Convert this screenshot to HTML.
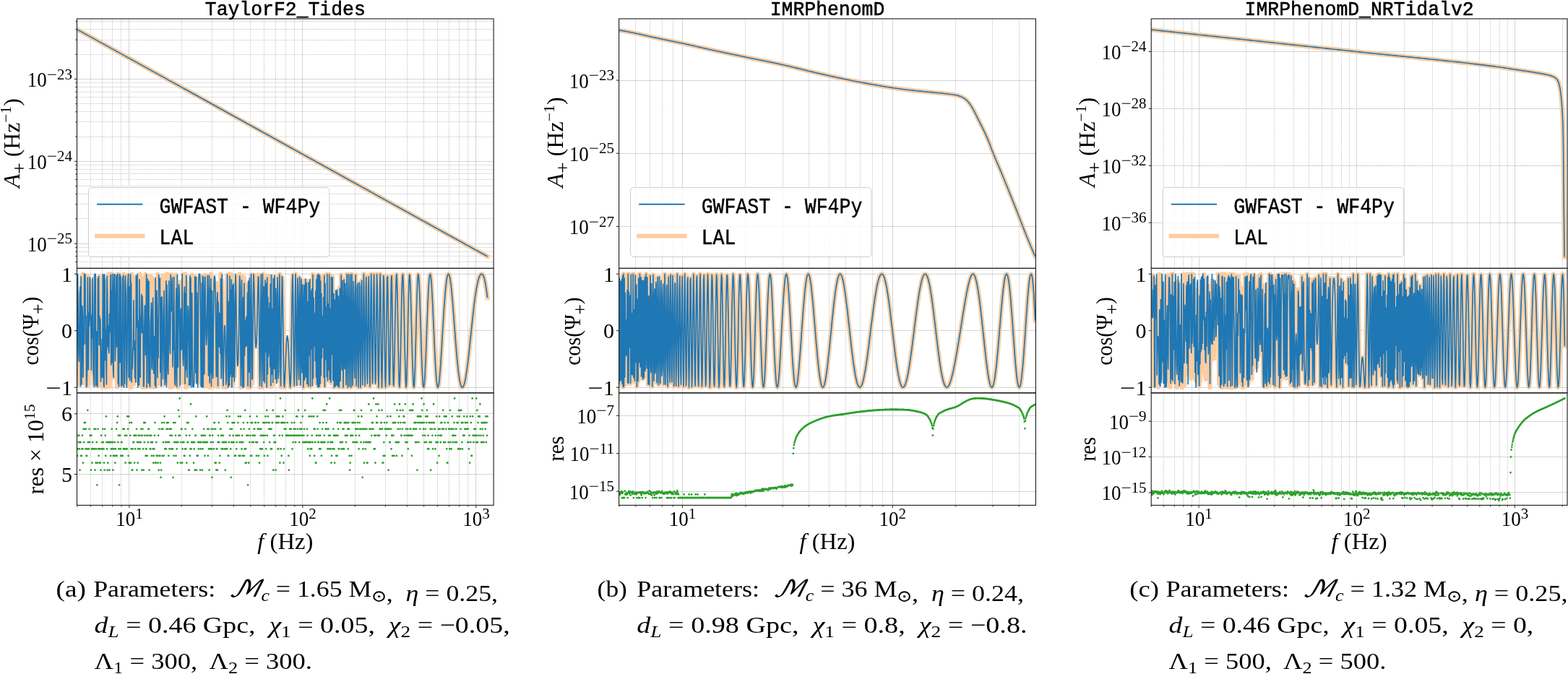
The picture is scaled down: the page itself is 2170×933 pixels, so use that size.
<!DOCTYPE html><html><head><meta charset="utf-8"><title>Waveform comparison</title><style>html,body{margin:0;padding:0;background:#fff}body{width:2170px;height:933px;overflow:hidden}svg{display:block}</style></head><body><svg width="2170" height="933" viewBox="0 0 2170 933">
<style>
.gM{stroke:#a6a6a6;stroke-width:1;stroke-dasharray:1 1.1}
.gm{stroke:#c0c0c0;stroke-width:1;stroke-dasharray:1 1.1}
.sp{stroke:#1a1a1a;stroke-width:1.1;fill:none}
.tk{stroke:#1a1a1a;stroke-width:1.0;fill:none}
text{fill:#000}
</style>
<rect width="100%" height="100%" fill="#fff"/>
<defs><clipPath id="c00"><rect x="106.5" y="26.0" width="576.60" height="345.40"/></clipPath><clipPath id="c01"><rect x="106.5" y="371.4" width="576.60" height="172.50"/></clipPath><clipPath id="c02"><rect x="106.5" y="543.9" width="576.60" height="155.50"/></clipPath><clipPath id="c10"><rect x="856.6" y="26.0" width="576.80" height="345.40"/></clipPath><clipPath id="c11"><rect x="856.6" y="371.4" width="576.80" height="172.50"/></clipPath><clipPath id="c12"><rect x="856.6" y="543.9" width="576.80" height="155.50"/></clipPath><clipPath id="c20"><rect x="1593.2" y="26.0" width="575.80" height="345.40"/></clipPath><clipPath id="c21"><rect x="1593.2" y="371.4" width="575.80" height="172.50"/></clipPath><clipPath id="c22"><rect x="1593.2" y="543.9" width="575.80" height="155.50"/></clipPath></defs>
<g><line x1="125.50" y1="26.0" x2="125.50" y2="371.4" class="gm"/><line x1="141.50" y1="26.0" x2="141.50" y2="371.4" class="gm"/><line x1="155.50" y1="26.0" x2="155.50" y2="371.4" class="gm"/><line x1="167.50" y1="26.0" x2="167.50" y2="371.4" class="gm"/><line x1="178.50" y1="26.0" x2="178.50" y2="371.4" class="gM"/><line x1="251.50" y1="26.0" x2="251.50" y2="371.4" class="gm"/><line x1="293.50" y1="26.0" x2="293.50" y2="371.4" class="gm"/><line x1="323.50" y1="26.0" x2="323.50" y2="371.4" class="gm"/><line x1="346.50" y1="26.0" x2="346.50" y2="371.4" class="gm"/><line x1="365.50" y1="26.0" x2="365.50" y2="371.4" class="gm"/><line x1="381.50" y1="26.0" x2="381.50" y2="371.4" class="gm"/><line x1="395.50" y1="26.0" x2="395.50" y2="371.4" class="gm"/><line x1="407.50" y1="26.0" x2="407.50" y2="371.4" class="gm"/><line x1="418.50" y1="26.0" x2="418.50" y2="371.4" class="gM"/><line x1="491.50" y1="26.0" x2="491.50" y2="371.4" class="gm"/><line x1="533.50" y1="26.0" x2="533.50" y2="371.4" class="gm"/><line x1="563.50" y1="26.0" x2="563.50" y2="371.4" class="gm"/><line x1="586.50" y1="26.0" x2="586.50" y2="371.4" class="gm"/><line x1="605.50" y1="26.0" x2="605.50" y2="371.4" class="gm"/><line x1="621.50" y1="26.0" x2="621.50" y2="371.4" class="gm"/><line x1="635.50" y1="26.0" x2="635.50" y2="371.4" class="gm"/><line x1="647.50" y1="26.0" x2="647.50" y2="371.4" class="gm"/><line x1="658.50" y1="26.0" x2="658.50" y2="371.4" class="gM"/><line x1="106.5" y1="109.50" x2="683.1" y2="109.50" class="gM"/><line x1="106.5" y1="223.50" x2="683.1" y2="223.50" class="gM"/><line x1="106.5" y1="337.50" x2="683.1" y2="337.50" class="gM"/><line x1="106.5" y1="362.50" x2="683.1" y2="362.50" class="gm"/><line x1="106.5" y1="354.50" x2="683.1" y2="354.50" class="gm"/><line x1="106.5" y1="348.50" x2="683.1" y2="348.50" class="gm"/><line x1="106.5" y1="342.50" x2="683.1" y2="342.50" class="gm"/><line x1="106.5" y1="302.50" x2="683.1" y2="302.50" class="gm"/><line x1="106.5" y1="282.50" x2="683.1" y2="282.50" class="gm"/><line x1="106.5" y1="268.50" x2="683.1" y2="268.50" class="gm"/><line x1="106.5" y1="257.50" x2="683.1" y2="257.50" class="gm"/><line x1="106.5" y1="248.50" x2="683.1" y2="248.50" class="gm"/><line x1="106.5" y1="240.50" x2="683.1" y2="240.50" class="gm"/><line x1="106.5" y1="234.50" x2="683.1" y2="234.50" class="gm"/><line x1="106.5" y1="228.50" x2="683.1" y2="228.50" class="gm"/><line x1="106.5" y1="189.50" x2="683.1" y2="189.50" class="gm"/><line x1="106.5" y1="168.50" x2="683.1" y2="168.50" class="gm"/><line x1="106.5" y1="154.50" x2="683.1" y2="154.50" class="gm"/><line x1="106.5" y1="143.50" x2="683.1" y2="143.50" class="gm"/><line x1="106.5" y1="134.50" x2="683.1" y2="134.50" class="gm"/><line x1="106.5" y1="127.50" x2="683.1" y2="127.50" class="gm"/><line x1="106.5" y1="120.50" x2="683.1" y2="120.50" class="gm"/><line x1="106.5" y1="114.50" x2="683.1" y2="114.50" class="gm"/><line x1="106.5" y1="75.50" x2="683.1" y2="75.50" class="gm"/><line x1="106.5" y1="55.50" x2="683.1" y2="55.50" class="gm"/><line x1="106.5" y1="40.50" x2="683.1" y2="40.50" class="gm"/><line x1="106.5" y1="29.50" x2="683.1" y2="29.50" class="gm"/><line x1="125.50" y1="371.4" x2="125.50" y2="543.9" class="gm"/><line x1="141.50" y1="371.4" x2="141.50" y2="543.9" class="gm"/><line x1="155.50" y1="371.4" x2="155.50" y2="543.9" class="gm"/><line x1="167.50" y1="371.4" x2="167.50" y2="543.9" class="gm"/><line x1="178.50" y1="371.4" x2="178.50" y2="543.9" class="gM"/><line x1="251.50" y1="371.4" x2="251.50" y2="543.9" class="gm"/><line x1="293.50" y1="371.4" x2="293.50" y2="543.9" class="gm"/><line x1="323.50" y1="371.4" x2="323.50" y2="543.9" class="gm"/><line x1="346.50" y1="371.4" x2="346.50" y2="543.9" class="gm"/><line x1="365.50" y1="371.4" x2="365.50" y2="543.9" class="gm"/><line x1="381.50" y1="371.4" x2="381.50" y2="543.9" class="gm"/><line x1="395.50" y1="371.4" x2="395.50" y2="543.9" class="gm"/><line x1="407.50" y1="371.4" x2="407.50" y2="543.9" class="gm"/><line x1="418.50" y1="371.4" x2="418.50" y2="543.9" class="gM"/><line x1="491.50" y1="371.4" x2="491.50" y2="543.9" class="gm"/><line x1="533.50" y1="371.4" x2="533.50" y2="543.9" class="gm"/><line x1="563.50" y1="371.4" x2="563.50" y2="543.9" class="gm"/><line x1="586.50" y1="371.4" x2="586.50" y2="543.9" class="gm"/><line x1="605.50" y1="371.4" x2="605.50" y2="543.9" class="gm"/><line x1="621.50" y1="371.4" x2="621.50" y2="543.9" class="gm"/><line x1="635.50" y1="371.4" x2="635.50" y2="543.9" class="gm"/><line x1="647.50" y1="371.4" x2="647.50" y2="543.9" class="gm"/><line x1="658.50" y1="371.4" x2="658.50" y2="543.9" class="gM"/><line x1="106.5" y1="379.50" x2="683.1" y2="379.50" class="gM"/><line x1="106.5" y1="457.50" x2="683.1" y2="457.50" class="gM"/><line x1="106.5" y1="536.50" x2="683.1" y2="536.50" class="gM"/><line x1="125.50" y1="543.9" x2="125.50" y2="699.4" class="gm"/><line x1="141.50" y1="543.9" x2="141.50" y2="699.4" class="gm"/><line x1="155.50" y1="543.9" x2="155.50" y2="699.4" class="gm"/><line x1="167.50" y1="543.9" x2="167.50" y2="699.4" class="gm"/><line x1="178.50" y1="543.9" x2="178.50" y2="699.4" class="gM"/><line x1="251.50" y1="543.9" x2="251.50" y2="699.4" class="gm"/><line x1="293.50" y1="543.9" x2="293.50" y2="699.4" class="gm"/><line x1="323.50" y1="543.9" x2="323.50" y2="699.4" class="gm"/><line x1="346.50" y1="543.9" x2="346.50" y2="699.4" class="gm"/><line x1="365.50" y1="543.9" x2="365.50" y2="699.4" class="gm"/><line x1="381.50" y1="543.9" x2="381.50" y2="699.4" class="gm"/><line x1="395.50" y1="543.9" x2="395.50" y2="699.4" class="gm"/><line x1="407.50" y1="543.9" x2="407.50" y2="699.4" class="gm"/><line x1="418.50" y1="543.9" x2="418.50" y2="699.4" class="gM"/><line x1="491.50" y1="543.9" x2="491.50" y2="699.4" class="gm"/><line x1="533.50" y1="543.9" x2="533.50" y2="699.4" class="gm"/><line x1="563.50" y1="543.9" x2="563.50" y2="699.4" class="gm"/><line x1="586.50" y1="543.9" x2="586.50" y2="699.4" class="gm"/><line x1="605.50" y1="543.9" x2="605.50" y2="699.4" class="gm"/><line x1="621.50" y1="543.9" x2="621.50" y2="699.4" class="gm"/><line x1="635.50" y1="543.9" x2="635.50" y2="699.4" class="gm"/><line x1="647.50" y1="543.9" x2="647.50" y2="699.4" class="gm"/><line x1="658.50" y1="543.9" x2="658.50" y2="699.4" class="gM"/><line x1="106.5" y1="572.50" x2="683.1" y2="572.50" class="gM"/><line x1="106.5" y1="656.50" x2="683.1" y2="656.50" class="gM"/></g>
<g clip-path="url(#c00)" fill="none" stroke-linejoin="round"><path d="M106.5 40.58l568.1 314.48" stroke="#ffcc9f" stroke-width="6.3" stroke-linecap="square"/><path d="M106.5 40.58l568.1 314.48" stroke="#1f77b4" stroke-width="1.6"/></g>
<g><line x1="879.50" y1="26.0" x2="879.50" y2="371.4" class="gm"/><line x1="899.50" y1="26.0" x2="899.50" y2="371.4" class="gm"/><line x1="916.50" y1="26.0" x2="916.50" y2="371.4" class="gm"/><line x1="931.50" y1="26.0" x2="931.50" y2="371.4" class="gm"/><line x1="944.50" y1="26.0" x2="944.50" y2="371.4" class="gM"/><line x1="1031.50" y1="26.0" x2="1031.50" y2="371.4" class="gm"/><line x1="1083.50" y1="26.0" x2="1083.50" y2="371.4" class="gm"/><line x1="1119.50" y1="26.0" x2="1119.50" y2="371.4" class="gm"/><line x1="1147.50" y1="26.0" x2="1147.50" y2="371.4" class="gm"/><line x1="1170.50" y1="26.0" x2="1170.50" y2="371.4" class="gm"/><line x1="1190.50" y1="26.0" x2="1190.50" y2="371.4" class="gm"/><line x1="1207.50" y1="26.0" x2="1207.50" y2="371.4" class="gm"/><line x1="1221.50" y1="26.0" x2="1221.50" y2="371.4" class="gm"/><line x1="1235.50" y1="26.0" x2="1235.50" y2="371.4" class="gM"/><line x1="1322.50" y1="26.0" x2="1322.50" y2="371.4" class="gm"/><line x1="1373.50" y1="26.0" x2="1373.50" y2="371.4" class="gm"/><line x1="1410.50" y1="26.0" x2="1410.50" y2="371.4" class="gm"/><line x1="856.6" y1="111.50" x2="1433.4" y2="111.50" class="gM"/><line x1="856.6" y1="212.50" x2="1433.4" y2="212.50" class="gM"/><line x1="856.6" y1="313.50" x2="1433.4" y2="313.50" class="gM"/><line x1="879.50" y1="371.4" x2="879.50" y2="543.9" class="gm"/><line x1="899.50" y1="371.4" x2="899.50" y2="543.9" class="gm"/><line x1="916.50" y1="371.4" x2="916.50" y2="543.9" class="gm"/><line x1="931.50" y1="371.4" x2="931.50" y2="543.9" class="gm"/><line x1="944.50" y1="371.4" x2="944.50" y2="543.9" class="gM"/><line x1="1031.50" y1="371.4" x2="1031.50" y2="543.9" class="gm"/><line x1="1083.50" y1="371.4" x2="1083.50" y2="543.9" class="gm"/><line x1="1119.50" y1="371.4" x2="1119.50" y2="543.9" class="gm"/><line x1="1147.50" y1="371.4" x2="1147.50" y2="543.9" class="gm"/><line x1="1170.50" y1="371.4" x2="1170.50" y2="543.9" class="gm"/><line x1="1190.50" y1="371.4" x2="1190.50" y2="543.9" class="gm"/><line x1="1207.50" y1="371.4" x2="1207.50" y2="543.9" class="gm"/><line x1="1221.50" y1="371.4" x2="1221.50" y2="543.9" class="gm"/><line x1="1235.50" y1="371.4" x2="1235.50" y2="543.9" class="gM"/><line x1="1322.50" y1="371.4" x2="1322.50" y2="543.9" class="gm"/><line x1="1373.50" y1="371.4" x2="1373.50" y2="543.9" class="gm"/><line x1="1410.50" y1="371.4" x2="1410.50" y2="543.9" class="gm"/><line x1="856.6" y1="379.50" x2="1433.4" y2="379.50" class="gM"/><line x1="856.6" y1="457.50" x2="1433.4" y2="457.50" class="gM"/><line x1="856.6" y1="536.50" x2="1433.4" y2="536.50" class="gM"/><line x1="879.50" y1="543.9" x2="879.50" y2="699.4" class="gm"/><line x1="899.50" y1="543.9" x2="899.50" y2="699.4" class="gm"/><line x1="916.50" y1="543.9" x2="916.50" y2="699.4" class="gm"/><line x1="931.50" y1="543.9" x2="931.50" y2="699.4" class="gm"/><line x1="944.50" y1="543.9" x2="944.50" y2="699.4" class="gM"/><line x1="1031.50" y1="543.9" x2="1031.50" y2="699.4" class="gm"/><line x1="1083.50" y1="543.9" x2="1083.50" y2="699.4" class="gm"/><line x1="1119.50" y1="543.9" x2="1119.50" y2="699.4" class="gm"/><line x1="1147.50" y1="543.9" x2="1147.50" y2="699.4" class="gm"/><line x1="1170.50" y1="543.9" x2="1170.50" y2="699.4" class="gm"/><line x1="1190.50" y1="543.9" x2="1190.50" y2="699.4" class="gm"/><line x1="1207.50" y1="543.9" x2="1207.50" y2="699.4" class="gm"/><line x1="1221.50" y1="543.9" x2="1221.50" y2="699.4" class="gm"/><line x1="1235.50" y1="543.9" x2="1235.50" y2="699.4" class="gM"/><line x1="1322.50" y1="543.9" x2="1322.50" y2="699.4" class="gm"/><line x1="1373.50" y1="543.9" x2="1373.50" y2="699.4" class="gm"/><line x1="1410.50" y1="543.9" x2="1410.50" y2="699.4" class="gm"/><line x1="856.6" y1="575.50" x2="1433.4" y2="575.50" class="gM"/><line x1="856.6" y1="627.50" x2="1433.4" y2="627.50" class="gM"/><line x1="856.6" y1="680.50" x2="1433.4" y2="680.50" class="gM"/></g>
<g clip-path="url(#c10)" fill="none" stroke-linejoin="round"><path d="M856.6 41.7l1.93 0.34 1.92 0.34 1.93 0.35 1.93 0.36 1.92 0.36 1.93 0.36 1.92 0.38 1.93 0.37 1.93 0.39 1.92 0.39 1.93 0.39 1.93 0.39 1.92 0.41 1.93 0.42 1.93 0.43 1.92 0.44 1.93 0.44 1.93 0.44 1.92 0.45 1.93 0.44 1.92 0.43 1.93 0.43 1.93 0.42 1.92 0.42 1.93 0.42 1.93 0.41 1.92 0.41 1.93 0.41 1.93 0.41 1.92 0.41 1.93 0.4 1.93 0.41 1.92 0.4 1.93 0.4 1.92 0.4 1.93 0.4 1.93 0.4 1.92 0.4 1.93 0.4 1.93 0.4 1.92 0.39 1.93 0.39 1.93 0.39 1.92 0.4 1.93 0.4 1.93 0.41 1.92 0.42 1.93 0.42 1.92 0.43 1.93 0.43 1.93 0.43 1.92 0.43 1.93 0.44 1.93 0.44 1.92 0.44 1.93 0.45 1.93 0.44 1.92 0.44 1.93 0.44 1.93 0.44 1.92 0.44 1.93 0.44 1.92 0.43 1.93 0.43 1.93 0.43 1.92 0.42 1.93 0.42 1.93 0.42 1.92 0.41 1.93 0.42 1.93 0.41 1.92 0.42 1.93 0.41 1.93 0.41 1.92 0.41 1.93 0.41 1.92 0.41 1.93 0.41 1.93 0.4 1.92 0.41 1.93 0.4 1.93 0.41 1.92 0.4 1.93 0.41 1.93 0.4 1.92 0.41 1.93 0.4 1.93 0.4 1.92 0.41 1.93 0.4 1.92 0.4 1.93 0.4 1.93 0.4 1.92 0.4 1.93 0.39 1.93 0.4 1.92 0.39 1.93 0.39 1.93 0.39 1.92 0.38 1.93 0.39 1.92 0.39 1.93 0.39 1.93 0.39 1.92 0.38 1.93 0.4 1.93 0.39 1.92 0.39 1.93 0.4 1.93 0.4 1.92 0.4 1.93 0.4 1.93 0.41 1.92 0.41 1.93 0.41 1.92 0.42 1.93 0.43 1.93 0.43 1.92 0.43 1.93 0.45 1.93 0.44 1.92 0.46 1.93 0.46 1.93 0.46 1.92 0.46 1.93 0.47 1.93 0.46 1.92 0.48 1.93 0.47 1.92 0.49 1.93 0.48 1.93 0.48 1.92 0.48 1.93 0.48 1.93 0.48 1.92 0.47 1.93 0.46 1.93 0.46 1.92 0.45 1.93 0.45 1.93 0.46 1.92 0.44 1.93 0.45 1.92 0.44 1.93 0.45 1.93 0.44 1.92 0.43 1.93 0.44 1.93 0.43 1.92 0.44 1.93 0.43 1.93 0.42 1.92 0.43 1.93 0.42 1.93 0.43 1.92 0.42 1.93 0.42 1.92 0.41 1.93 0.41 1.93 0.41 1.92 0.41 1.93 0.4 1.93 0.4 1.92 0.39 1.93 0.39 1.93 0.39 1.92 0.38 1.93 0.38 1.93 0.38 1.92 0.37 1.93 0.38 1.92 0.37 1.93 0.37 1.93 0.36 1.92 0.37 1.93 0.37 1.93 0.36 1.92 0.36 1.93 0.36 1.93 0.35 1.92 0.35 1.93 0.35 1.93 0.35 1.92 0.34 1.93 0.33 1.92 0.34 1.93 0.33 1.93 0.33 1.92 0.32 1.93 0.32 1.93 0.32 1.92 0.32 1.93 0.31 1.93 0.31 1.92 0.3 1.93 0.29 1.93 0.29 1.92 0.28 1.93 0.27 1.92 0.27 1.93 0.27 1.93 0.26 1.92 0.26 1.93 0.25 1.93 0.25 1.92 0.24 1.93 0.23 1.93 0.23 1.92 0.22 1.93 0.21 1.92 0.22 1.93 0.21 1.93 0.2 1.92 0.21 1.93 0.2 1.93 0.19 1.92 0.2 1.93 0.2 1.93 0.19 1.92 0.19 1.93 0.18 1.93 0.19 1.92 0.18 1.93 0.17 1.92 0.18 1.93 0.18 1.93 0.18 1.92 0.18 1.93 0.19 1.93 0.19 1.92 0.18 1.93 0.18 1.93 0.19 1.92 0.2 1.93 0.21 1.93 0.23 1.92 0.23 1.93 0.24 1.92 0.27 1.93 0.28 1.93 0.33 1.92 0.36 1.93 0.43 1.93 0.53 1.92 0.62 1.93 0.74 1.93 0.95 1.92 1.14 1.93 1.4 1.93 1.71 1.92 2.01 1.93 2.5 1.92 2.88 1.93 3.16 1.93 3.57 1.92 3.74 1.93 3.81 1.93 3.93 1.92 3.91 1.93 3.83 1.93 3.85 1.92 3.97 1.93 4.11 1.93 4.23 1.92 4.42 1.93 4.71 1.92 5.11 1.93 5.19 1.93 4.95 1.92 4.67 1.93 4.52 1.93 4.44 1.92 4.45 1.93 4.52 1.93 4.63 1.92 4.68 1.93 4.72 1.93 4.75 1.92 4.76 1.93 4.77 1.92 4.78 1.93 4.8 1.93 4.82 1.92 4.85 1.93 4.88 1.93 4.96 1.92 4.99 1.93 5 1.93 4.98 1.92 4.93 1.93 4.94 1.93 4.93 1.92 4.85 1.93 4.74 1.92 4.64 1.93 4.55 1.93 4.48 1.92 4.4 1.93 4.31" stroke="#ffcc9f" stroke-width="6.3" stroke-linecap="square"/><path d="M856.6 41.7l1.93 0.34 1.92 0.34 1.93 0.35 1.93 0.36 1.92 0.36 1.93 0.36 1.92 0.38 1.93 0.37 1.93 0.39 1.92 0.39 1.93 0.39 1.93 0.39 1.92 0.41 1.93 0.42 1.93 0.43 1.92 0.44 1.93 0.44 1.93 0.44 1.92 0.45 1.93 0.44 1.92 0.43 1.93 0.43 1.93 0.42 1.92 0.42 1.93 0.42 1.93 0.41 1.92 0.41 1.93 0.41 1.93 0.41 1.92 0.41 1.93 0.4 1.93 0.41 1.92 0.4 1.93 0.4 1.92 0.4 1.93 0.4 1.93 0.4 1.92 0.4 1.93 0.4 1.93 0.4 1.92 0.39 1.93 0.39 1.93 0.39 1.92 0.4 1.93 0.4 1.93 0.41 1.92 0.42 1.93 0.42 1.92 0.43 1.93 0.43 1.93 0.43 1.92 0.43 1.93 0.44 1.93 0.44 1.92 0.44 1.93 0.45 1.93 0.44 1.92 0.44 1.93 0.44 1.93 0.44 1.92 0.44 1.93 0.44 1.92 0.43 1.93 0.43 1.93 0.43 1.92 0.42 1.93 0.42 1.93 0.42 1.92 0.41 1.93 0.42 1.93 0.41 1.92 0.42 1.93 0.41 1.93 0.41 1.92 0.41 1.93 0.41 1.92 0.41 1.93 0.41 1.93 0.4 1.92 0.41 1.93 0.4 1.93 0.41 1.92 0.4 1.93 0.41 1.93 0.4 1.92 0.41 1.93 0.4 1.93 0.4 1.92 0.41 1.93 0.4 1.92 0.4 1.93 0.4 1.93 0.4 1.92 0.4 1.93 0.39 1.93 0.4 1.92 0.39 1.93 0.39 1.93 0.39 1.92 0.38 1.93 0.39 1.92 0.39 1.93 0.39 1.93 0.39 1.92 0.38 1.93 0.4 1.93 0.39 1.92 0.39 1.93 0.4 1.93 0.4 1.92 0.4 1.93 0.4 1.93 0.41 1.92 0.41 1.93 0.41 1.92 0.42 1.93 0.43 1.93 0.43 1.92 0.43 1.93 0.45 1.93 0.44 1.92 0.46 1.93 0.46 1.93 0.46 1.92 0.46 1.93 0.47 1.93 0.46 1.92 0.48 1.93 0.47 1.92 0.49 1.93 0.48 1.93 0.48 1.92 0.48 1.93 0.48 1.93 0.48 1.92 0.47 1.93 0.46 1.93 0.46 1.92 0.45 1.93 0.45 1.93 0.46 1.92 0.44 1.93 0.45 1.92 0.44 1.93 0.45 1.93 0.44 1.92 0.43 1.93 0.44 1.93 0.43 1.92 0.44 1.93 0.43 1.93 0.42 1.92 0.43 1.93 0.42 1.93 0.43 1.92 0.42 1.93 0.42 1.92 0.41 1.93 0.41 1.93 0.41 1.92 0.41 1.93 0.4 1.93 0.4 1.92 0.39 1.93 0.39 1.93 0.39 1.92 0.38 1.93 0.38 1.93 0.38 1.92 0.37 1.93 0.38 1.92 0.37 1.93 0.37 1.93 0.36 1.92 0.37 1.93 0.37 1.93 0.36 1.92 0.36 1.93 0.36 1.93 0.35 1.92 0.35 1.93 0.35 1.93 0.35 1.92 0.34 1.93 0.33 1.92 0.34 1.93 0.33 1.93 0.33 1.92 0.32 1.93 0.32 1.93 0.32 1.92 0.32 1.93 0.31 1.93 0.31 1.92 0.3 1.93 0.29 1.93 0.29 1.92 0.28 1.93 0.27 1.92 0.27 1.93 0.27 1.93 0.26 1.92 0.26 1.93 0.25 1.93 0.25 1.92 0.24 1.93 0.23 1.93 0.23 1.92 0.22 1.93 0.21 1.92 0.22 1.93 0.21 1.93 0.2 1.92 0.21 1.93 0.2 1.93 0.19 1.92 0.2 1.93 0.2 1.93 0.19 1.92 0.19 1.93 0.18 1.93 0.19 1.92 0.18 1.93 0.17 1.92 0.18 1.93 0.18 1.93 0.18 1.92 0.18 1.93 0.19 1.93 0.19 1.92 0.18 1.93 0.18 1.93 0.19 1.92 0.2 1.93 0.21 1.93 0.23 1.92 0.23 1.93 0.24 1.92 0.27 1.93 0.28 1.93 0.33 1.92 0.36 1.93 0.43 1.93 0.53 1.92 0.62 1.93 0.74 1.93 0.95 1.92 1.14 1.93 1.4 1.93 1.71 1.92 2.01 1.93 2.5 1.92 2.88 1.93 3.16 1.93 3.57 1.92 3.74 1.93 3.81 1.93 3.93 1.92 3.91 1.93 3.83 1.93 3.85 1.92 3.97 1.93 4.11 1.93 4.23 1.92 4.42 1.93 4.71 1.92 5.11 1.93 5.19 1.93 4.95 1.92 4.67 1.93 4.52 1.93 4.44 1.92 4.45 1.93 4.52 1.93 4.63 1.92 4.68 1.93 4.72 1.93 4.75 1.92 4.76 1.93 4.77 1.92 4.78 1.93 4.8 1.93 4.82 1.92 4.85 1.93 4.88 1.93 4.96 1.92 4.99 1.93 5 1.93 4.98 1.92 4.93 1.93 4.94 1.93 4.93 1.92 4.85 1.93 4.74 1.92 4.64 1.93 4.55 1.93 4.48 1.92 4.4 1.93 4.31" stroke="#1f77b4" stroke-width="1.6"/></g>
<g><line x1="1610.50" y1="26.0" x2="1610.50" y2="371.4" class="gm"/><line x1="1625.50" y1="26.0" x2="1625.50" y2="371.4" class="gm"/><line x1="1637.50" y1="26.0" x2="1637.50" y2="371.4" class="gm"/><line x1="1649.50" y1="26.0" x2="1649.50" y2="371.4" class="gm"/><line x1="1659.50" y1="26.0" x2="1659.50" y2="371.4" class="gM"/><line x1="1724.50" y1="26.0" x2="1724.50" y2="371.4" class="gm"/><line x1="1763.50" y1="26.0" x2="1763.50" y2="371.4" class="gm"/><line x1="1790.50" y1="26.0" x2="1790.50" y2="371.4" class="gm"/><line x1="1811.50" y1="26.0" x2="1811.50" y2="371.4" class="gm"/><line x1="1829.50" y1="26.0" x2="1829.50" y2="371.4" class="gm"/><line x1="1843.50" y1="26.0" x2="1843.50" y2="371.4" class="gm"/><line x1="1856.50" y1="26.0" x2="1856.50" y2="371.4" class="gm"/><line x1="1867.50" y1="26.0" x2="1867.50" y2="371.4" class="gm"/><line x1="1877.50" y1="26.0" x2="1877.50" y2="371.4" class="gM"/><line x1="1943.50" y1="26.0" x2="1943.50" y2="371.4" class="gm"/><line x1="1982.50" y1="26.0" x2="1982.50" y2="371.4" class="gm"/><line x1="2009.50" y1="26.0" x2="2009.50" y2="371.4" class="gm"/><line x1="2030.50" y1="26.0" x2="2030.50" y2="371.4" class="gm"/><line x1="2047.50" y1="26.0" x2="2047.50" y2="371.4" class="gm"/><line x1="2062.50" y1="26.0" x2="2062.50" y2="371.4" class="gm"/><line x1="2075.50" y1="26.0" x2="2075.50" y2="371.4" class="gm"/><line x1="2086.50" y1="26.0" x2="2086.50" y2="371.4" class="gm"/><line x1="2096.50" y1="26.0" x2="2096.50" y2="371.4" class="gM"/><line x1="2162.50" y1="26.0" x2="2162.50" y2="371.4" class="gm"/><line x1="1593.2" y1="71.50" x2="2169.0" y2="71.50" class="gM"/><line x1="1593.2" y1="150.50" x2="2169.0" y2="150.50" class="gM"/><line x1="1593.2" y1="229.50" x2="2169.0" y2="229.50" class="gM"/><line x1="1593.2" y1="308.50" x2="2169.0" y2="308.50" class="gM"/><line x1="1610.50" y1="371.4" x2="1610.50" y2="543.9" class="gm"/><line x1="1625.50" y1="371.4" x2="1625.50" y2="543.9" class="gm"/><line x1="1637.50" y1="371.4" x2="1637.50" y2="543.9" class="gm"/><line x1="1649.50" y1="371.4" x2="1649.50" y2="543.9" class="gm"/><line x1="1659.50" y1="371.4" x2="1659.50" y2="543.9" class="gM"/><line x1="1724.50" y1="371.4" x2="1724.50" y2="543.9" class="gm"/><line x1="1763.50" y1="371.4" x2="1763.50" y2="543.9" class="gm"/><line x1="1790.50" y1="371.4" x2="1790.50" y2="543.9" class="gm"/><line x1="1811.50" y1="371.4" x2="1811.50" y2="543.9" class="gm"/><line x1="1829.50" y1="371.4" x2="1829.50" y2="543.9" class="gm"/><line x1="1843.50" y1="371.4" x2="1843.50" y2="543.9" class="gm"/><line x1="1856.50" y1="371.4" x2="1856.50" y2="543.9" class="gm"/><line x1="1867.50" y1="371.4" x2="1867.50" y2="543.9" class="gm"/><line x1="1877.50" y1="371.4" x2="1877.50" y2="543.9" class="gM"/><line x1="1943.50" y1="371.4" x2="1943.50" y2="543.9" class="gm"/><line x1="1982.50" y1="371.4" x2="1982.50" y2="543.9" class="gm"/><line x1="2009.50" y1="371.4" x2="2009.50" y2="543.9" class="gm"/><line x1="2030.50" y1="371.4" x2="2030.50" y2="543.9" class="gm"/><line x1="2047.50" y1="371.4" x2="2047.50" y2="543.9" class="gm"/><line x1="2062.50" y1="371.4" x2="2062.50" y2="543.9" class="gm"/><line x1="2075.50" y1="371.4" x2="2075.50" y2="543.9" class="gm"/><line x1="2086.50" y1="371.4" x2="2086.50" y2="543.9" class="gm"/><line x1="2096.50" y1="371.4" x2="2096.50" y2="543.9" class="gM"/><line x1="2162.50" y1="371.4" x2="2162.50" y2="543.9" class="gm"/><line x1="1593.2" y1="379.50" x2="2169.0" y2="379.50" class="gM"/><line x1="1593.2" y1="457.50" x2="2169.0" y2="457.50" class="gM"/><line x1="1593.2" y1="536.50" x2="2169.0" y2="536.50" class="gM"/><line x1="1610.50" y1="543.9" x2="1610.50" y2="699.4" class="gm"/><line x1="1625.50" y1="543.9" x2="1625.50" y2="699.4" class="gm"/><line x1="1637.50" y1="543.9" x2="1637.50" y2="699.4" class="gm"/><line x1="1649.50" y1="543.9" x2="1649.50" y2="699.4" class="gm"/><line x1="1659.50" y1="543.9" x2="1659.50" y2="699.4" class="gM"/><line x1="1724.50" y1="543.9" x2="1724.50" y2="699.4" class="gm"/><line x1="1763.50" y1="543.9" x2="1763.50" y2="699.4" class="gm"/><line x1="1790.50" y1="543.9" x2="1790.50" y2="699.4" class="gm"/><line x1="1811.50" y1="543.9" x2="1811.50" y2="699.4" class="gm"/><line x1="1829.50" y1="543.9" x2="1829.50" y2="699.4" class="gm"/><line x1="1843.50" y1="543.9" x2="1843.50" y2="699.4" class="gm"/><line x1="1856.50" y1="543.9" x2="1856.50" y2="699.4" class="gm"/><line x1="1867.50" y1="543.9" x2="1867.50" y2="699.4" class="gm"/><line x1="1877.50" y1="543.9" x2="1877.50" y2="699.4" class="gM"/><line x1="1943.50" y1="543.9" x2="1943.50" y2="699.4" class="gm"/><line x1="1982.50" y1="543.9" x2="1982.50" y2="699.4" class="gm"/><line x1="2009.50" y1="543.9" x2="2009.50" y2="699.4" class="gm"/><line x1="2030.50" y1="543.9" x2="2030.50" y2="699.4" class="gm"/><line x1="2047.50" y1="543.9" x2="2047.50" y2="699.4" class="gm"/><line x1="2062.50" y1="543.9" x2="2062.50" y2="699.4" class="gm"/><line x1="2075.50" y1="543.9" x2="2075.50" y2="699.4" class="gm"/><line x1="2086.50" y1="543.9" x2="2086.50" y2="699.4" class="gm"/><line x1="2096.50" y1="543.9" x2="2096.50" y2="699.4" class="gM"/><line x1="2162.50" y1="543.9" x2="2162.50" y2="699.4" class="gm"/><line x1="1593.2" y1="583.50" x2="2169.0" y2="583.50" class="gM"/><line x1="1593.2" y1="632.50" x2="2169.0" y2="632.50" class="gM"/><line x1="1593.2" y1="681.50" x2="2169.0" y2="681.50" class="gM"/></g>
<g clip-path="url(#c20)" fill="none" stroke-linejoin="round"><path d="M1593.5 41.1l2.03 0.22 2.02 0.21 2.03 0.22 2.03 0.22 2.02 0.21 2.03 0.22 2.03 0.22 2.03 0.21 2.02 0.22 2.03 0.21 2.03 0.22 2.02 0.22 2.03 0.21 2.03 0.22 2.02 0.22 2.03 0.21 2.03 0.22 2.02 0.22 2.03 0.21 2.03 0.22 2.03 0.22 2.02 0.21 2.03 0.22 2.03 0.22 2.02 0.21 2.03 0.22 2.03 0.22 2.02 0.21 2.03 0.22 2.03 0.22 2.02 0.21 2.03 0.22 2.03 0.22 2.02 0.21 2.03 0.22 2.03 0.22 2.03 0.21 2.02 0.22 2.03 0.22 2.03 0.21 2.02 0.22 2.03 0.22 2.03 0.21 2.02 0.22 2.03 0.22 2.03 0.22 2.02 0.21 2.03 0.22 2.03 0.22 2.02 0.21 2.03 0.22 2.03 0.22 2.03 0.21 2.02 0.22 2.03 0.22 2.03 0.21 2.02 0.22 2.03 0.22 2.03 0.21 2.02 0.22 2.03 0.22 2.03 0.22 2.02 0.21 2.03 0.22 2.03 0.22 2.02 0.21 2.03 0.22 2.03 0.22 2.03 0.21 2.02 0.22 2.03 0.22 2.03 0.22 2.02 0.21 2.03 0.22 2.03 0.22 2.02 0.21 2.03 0.22 2.03 0.22 2.02 0.21 2.03 0.22 2.03 0.22 2.02 0.22 2.03 0.21 2.03 0.22 2.02 0.22 2.03 0.21 2.03 0.22 2.03 0.22 2.02 0.22 2.03 0.21 2.03 0.22 2.02 0.22 2.03 0.21 2.03 0.22 2.02 0.22 2.03 0.22 2.03 0.21 2.02 0.22 2.03 0.22 2.03 0.21 2.02 0.22 2.03 0.22 2.03 0.22 2.02 0.21 2.03 0.22 2.03 0.22 2.02 0.21 2.03 0.22 2.03 0.22 2.03 0.22 2.02 0.21 2.03 0.22 2.03 0.22 2.02 0.22 2.03 0.21 2.03 0.22 2.02 0.22 2.03 0.22 2.03 0.21 2.02 0.22 2.03 0.22 2.03 0.21 2.02 0.22 2.03 0.22 2.03 0.22 2.02 0.21 2.03 0.22 2.03 0.22 2.02 0.22 2.03 0.21 2.03 0.22 2.03 0.22 2.02 0.22 2.03 0.21 2.03 0.22 2.02 0.22 2.03 0.22 2.03 0.21 2.02 0.22 2.03 0.22 2.03 0.21 2.02 0.22 2.03 0.21 2.03 0.22 2.03 0.21 2.02 0.21 2.03 0.21 2.03 0.21 2.03 0.21 2.03 0.21 2.02 0.21 2.03 0.21 2.03 0.21 2.03 0.21 2.03 0.2 2.03 0.21 2.02 0.2 2.03 0.21 2.03 0.2 2.03 0.21 2.03 0.2 2.03 0.21 2.03 0.2 2.03 0.2 2.02 0.21 2.03 0.2 2.03 0.2 2.03 0.2 2.03 0.21 2.03 0.2 2.03 0.2 2.03 0.21 2.03 0.2 2.03 0.2 2.02 0.2 2.03 0.21 2.03 0.2 2.03 0.2 2.03 0.21 2.03 0.2 2.03 0.2 2.03 0.21 2.03 0.2 2.02 0.21 2.03 0.2 2.03 0.21 2.03 0.2 2.03 0.21 2.03 0.21 2.02 0.21 2.03 0.2 2.03 0.21 2.03 0.21 2.03 0.21 2.02 0.21 2.03 0.22 2.03 0.21 2.03 0.21 2.03 0.21 2.02 0.22 2.03 0.22 2.03 0.21 2.02 0.22 2.03 0.22 2.03 0.22 2.02 0.22 2.03 0.22 2.03 0.22 2.02 0.22 2.03 0.23 2.02 0.23 2.03 0.22 2.02 0.23 2.03 0.23 2.02 0.23 2.03 0.23 2.02 0.24 2.03 0.23 2.02 0.24 2.02 0.24 2.03 0.24 2.02 0.24 2.02 0.24 2.03 0.24 2.02 0.25 2.02 0.24 2.02 0.25 2.03 0.25 2.02 0.26 2.02 0.25 2.02 0.25 2.02 0.26 2.02 0.26 2.02 0.26 2.02 0.26 2.02 0.27 2.02 0.28 2.02 0.28 2.02 0.29 2.01 0.29 2.02 0.3 2.02 0.31 2.01 0.31 2.02 0.31 2.01 0.31 2.01 0.32 2.02 0.32 2.01 0.31 2.02 0.32 2.01 0.32 2.02 0.31 2.01 0.31 2.02 0.31 2.01 0.3 2.02 0.3 2.02 0.3 2.02 0.29 2.02 0.3 2.02 0.3 2.01 0.3 2.02 0.31 2.01 0.32 2.02 0.32 2.01 0.33 2 0.35 2.01 0.36 2 0.37 2 0.39 2 0.4 1.99 0.43 2 0.46 1.97 0.52 1.95 0.57 1.94 0.66 1.9 0.78 1.76 0.97 1.67 1.25 1.38 1.46 1.08 1.74 0.81 1.87 0.61 1.94 0.52 1.99 0.47 1.98 0.43 2 0.37 2 0.33 2.01 0.28 2.02 0.26 2.03 0.23 2.02 0.22 2.03 0.22 2.03 0.2 2.02 0.19 2.03 0.18 2.04 0.17 2.03 0.15 2.03 0.14 2.03 0.15 2.04 0.13 2.03 0.12 2.04 0.12 2.03 0.1 2.04 0.09 2.03 0.09 2.04 0.08 2.04 0.08 2.03 0.08 2.04 0.07 2.04 0.07 2.03 0.07 2.04 0.06 2.04 0.07 2.04 0.05 2.03 0.06 2.04 0.05 2.04 0.04 2.04 0.05 2.04 0.03 2.03 0.04 2.04 0.03 2.04 0.02 2.04 0.03 2.04 0.03 2.03 0.02 2.04 0.02 2.04 0.03 2.04 0.02 2.04 0.02 2.04 0.02 2.03 0.01 2.04 0.02 2.04 0.02 2.04 0.01 2.04 0.02 2.04 0.02 2.03 0.01 2.04 0.02 2.04 0.01 2.04 0.01 2.04 0.02 2.04 0.01 2.04 0.02 2.03 0.01 2.04 0.02 2.04 0.01 2.04 0.02 2.04 0.02 2.04 0.01 2.04 0.02 2.03 0.02 2.04 0.02 2.04 0.02 2.04 0.02 2.04 0.02 2.04 0.02 2.03 0.02 2.04 0.02 2.04 0.02 2.04 0.02 2.04 0.02 2.04 0.02 2.03 0.02 2.04 0.03 2.04 0.02 2.04 0.02 2.04 0.02 2.04 0.02 2.03 0.03 2.04 0.02 2.04 0.02 2.04 0.02 2.04 0.02 2.04 0.03 2.03 0.02 2.04 0.02 2.04 0.02 2.04 0.02 2.04 0.02 2.04 0.03 2.03 0.02 2.04 0.02 2.04 0.02 2.04 0.02 2.04 0.02 2.03 0.02 2.04 0.02 2.04 0.03 2.04 0.02 2.04 0.02 2.04 0.02 2.03 0.02 2.04 0.02 2.04 0.02 2.04 0.02 2.04 0.02 2.04 0.02 2.03 0.02 2.04 0.02 2.04 0.02 2.04" stroke="#ffcc9f" stroke-width="6.3" stroke-linecap="square"/><path d="M1593.5 41.1l2.03 0.22 2.02 0.21 2.03 0.22 2.03 0.22 2.02 0.21 2.03 0.22 2.03 0.22 2.03 0.21 2.02 0.22 2.03 0.21 2.03 0.22 2.02 0.22 2.03 0.21 2.03 0.22 2.02 0.22 2.03 0.21 2.03 0.22 2.02 0.22 2.03 0.21 2.03 0.22 2.03 0.22 2.02 0.21 2.03 0.22 2.03 0.22 2.02 0.21 2.03 0.22 2.03 0.22 2.02 0.21 2.03 0.22 2.03 0.22 2.02 0.21 2.03 0.22 2.03 0.22 2.02 0.21 2.03 0.22 2.03 0.22 2.03 0.21 2.02 0.22 2.03 0.22 2.03 0.21 2.02 0.22 2.03 0.22 2.03 0.21 2.02 0.22 2.03 0.22 2.03 0.22 2.02 0.21 2.03 0.22 2.03 0.22 2.02 0.21 2.03 0.22 2.03 0.22 2.03 0.21 2.02 0.22 2.03 0.22 2.03 0.21 2.02 0.22 2.03 0.22 2.03 0.21 2.02 0.22 2.03 0.22 2.03 0.22 2.02 0.21 2.03 0.22 2.03 0.22 2.02 0.21 2.03 0.22 2.03 0.22 2.03 0.21 2.02 0.22 2.03 0.22 2.03 0.22 2.02 0.21 2.03 0.22 2.03 0.22 2.02 0.21 2.03 0.22 2.03 0.22 2.02 0.21 2.03 0.22 2.03 0.22 2.02 0.22 2.03 0.21 2.03 0.22 2.02 0.22 2.03 0.21 2.03 0.22 2.03 0.22 2.02 0.22 2.03 0.21 2.03 0.22 2.02 0.22 2.03 0.21 2.03 0.22 2.02 0.22 2.03 0.22 2.03 0.21 2.02 0.22 2.03 0.22 2.03 0.21 2.02 0.22 2.03 0.22 2.03 0.22 2.02 0.21 2.03 0.22 2.03 0.22 2.02 0.21 2.03 0.22 2.03 0.22 2.03 0.22 2.02 0.21 2.03 0.22 2.03 0.22 2.02 0.22 2.03 0.21 2.03 0.22 2.02 0.22 2.03 0.22 2.03 0.21 2.02 0.22 2.03 0.22 2.03 0.21 2.02 0.22 2.03 0.22 2.03 0.22 2.02 0.21 2.03 0.22 2.03 0.22 2.02 0.22 2.03 0.21 2.03 0.22 2.03 0.22 2.02 0.22 2.03 0.21 2.03 0.22 2.02 0.22 2.03 0.22 2.03 0.21 2.02 0.22 2.03 0.22 2.03 0.21 2.02 0.22 2.03 0.21 2.03 0.22 2.03 0.21 2.02 0.21 2.03 0.21 2.03 0.21 2.03 0.21 2.03 0.21 2.02 0.21 2.03 0.21 2.03 0.21 2.03 0.21 2.03 0.2 2.03 0.21 2.02 0.2 2.03 0.21 2.03 0.2 2.03 0.21 2.03 0.2 2.03 0.21 2.03 0.2 2.03 0.2 2.02 0.21 2.03 0.2 2.03 0.2 2.03 0.2 2.03 0.21 2.03 0.2 2.03 0.2 2.03 0.21 2.03 0.2 2.03 0.2 2.02 0.2 2.03 0.21 2.03 0.2 2.03 0.2 2.03 0.21 2.03 0.2 2.03 0.2 2.03 0.21 2.03 0.2 2.02 0.21 2.03 0.2 2.03 0.21 2.03 0.2 2.03 0.21 2.03 0.21 2.02 0.21 2.03 0.2 2.03 0.21 2.03 0.21 2.03 0.21 2.02 0.21 2.03 0.22 2.03 0.21 2.03 0.21 2.03 0.21 2.02 0.22 2.03 0.22 2.03 0.21 2.02 0.22 2.03 0.22 2.03 0.22 2.02 0.22 2.03 0.22 2.03 0.22 2.02 0.22 2.03 0.23 2.02 0.23 2.03 0.22 2.02 0.23 2.03 0.23 2.02 0.23 2.03 0.23 2.02 0.24 2.03 0.23 2.02 0.24 2.02 0.24 2.03 0.24 2.02 0.24 2.02 0.24 2.03 0.24 2.02 0.25 2.02 0.24 2.02 0.25 2.03 0.25 2.02 0.26 2.02 0.25 2.02 0.25 2.02 0.26 2.02 0.26 2.02 0.26 2.02 0.26 2.02 0.27 2.02 0.28 2.02 0.28 2.02 0.29 2.01 0.29 2.02 0.3 2.02 0.31 2.01 0.31 2.02 0.31 2.01 0.31 2.01 0.32 2.02 0.32 2.01 0.31 2.02 0.32 2.01 0.32 2.02 0.31 2.01 0.31 2.02 0.31 2.01 0.3 2.02 0.3 2.02 0.3 2.02 0.29 2.02 0.3 2.02 0.3 2.01 0.3 2.02 0.31 2.01 0.32 2.02 0.32 2.01 0.33 2 0.35 2.01 0.36 2 0.37 2 0.39 2 0.4 1.99 0.43 2 0.46 1.97 0.52 1.95 0.57 1.94 0.66 1.9 0.78 1.76 0.97 1.67 1.25 1.38 1.46 1.08 1.74 0.81 1.87 0.61 1.94 0.52 1.99 0.47 1.98 0.43 2 0.37 2 0.33 2.01 0.28 2.02 0.26 2.03 0.23 2.02 0.22 2.03 0.22 2.03 0.2 2.02 0.19 2.03 0.18 2.04 0.17 2.03 0.15 2.03 0.14 2.03 0.15 2.04 0.13 2.03 0.12 2.04 0.12 2.03 0.1 2.04 0.09 2.03 0.09 2.04 0.08 2.04 0.08 2.03 0.08 2.04 0.07 2.04 0.07 2.03 0.07 2.04 0.06 2.04 0.07 2.04 0.05 2.03 0.06 2.04 0.05 2.04 0.04 2.04 0.05 2.04 0.03 2.03 0.04 2.04 0.03 2.04 0.02 2.04 0.03 2.04 0.03 2.03 0.02 2.04 0.02 2.04 0.03 2.04 0.02 2.04 0.02 2.04 0.02 2.03 0.01 2.04 0.02 2.04 0.02 2.04 0.01 2.04 0.02 2.04 0.02 2.03 0.01 2.04 0.02 2.04 0.01 2.04 0.01 2.04 0.02 2.04 0.01 2.04 0.02 2.03 0.01 2.04 0.02 2.04 0.01 2.04 0.02 2.04 0.02 2.04 0.01 2.04 0.02 2.03 0.02 2.04 0.02 2.04 0.02 2.04 0.02 2.04 0.02 2.04 0.02 2.03 0.02 2.04 0.02 2.04 0.02 2.04 0.02 2.04 0.02 2.04 0.02 2.03 0.02 2.04 0.03 2.04 0.02 2.04 0.02 2.04 0.02 2.04 0.02 2.03 0.03 2.04 0.02 2.04 0.02 2.04 0.02 2.04 0.02 2.04 0.03 2.03 0.02 2.04 0.02 2.04 0.02 2.04 0.02 2.04 0.02 2.04 0.03 2.03 0.02 2.04 0.02 2.04 0.02 2.04 0.02 2.04 0.02 2.03 0.02 2.04 0.02 2.04 0.03 2.04 0.02 2.04 0.02 2.04 0.02 2.03 0.02 2.04 0.02 2.04 0.02 2.04 0.02 2.04 0.02 2.04 0.02 2.03 0.02 2.04 0.02 2.04 0.02 2.04" stroke="#1f77b4" stroke-width="1.6"/></g>
<g clip-path="url(#c01)" fill="none" stroke-linejoin="round"><path d="M106.5 403.3l0.6 9.3 0.5 102.6 0.6 17.5 0.6-27.5 0.5-8.5 0.6 23.9 0.6 10.6 0.5-106.4 0.6 4.6 0.6 60.8 0.6-8.3 0.5-98.5 0.6 0.3 0.6-4.3 0.5 50.6 0.6 100.7 0.6-136.3 0.5 29.3 0.6 43.8 0.6-49.4 0.5-10.1 0.6 93.1 0.6 17.1 0.5-15.6 0.6 31.8 0.6-152.8 0.6 129.3 0.5 20.9 0.6-66.6 0.6-40.5 0.5-30.1 0.6 1.2 0.6 26.8 0.5 35.8 0.6 56.9 0.6-78.8 0.5 35.3 0.6-82.7 0.6 46.8 0.5 64.4 0.6 31.7 0.6-4.9 0.6-143.3 0.5 15.2 0.6-11.6 0.6 125.2 0.5 19.7 0.6-121 0.6 123.3 0.5-13.8 0.6-135.4 0.6 2.6 0.5 40.1 0.6-21.1 0.6-23.9 0.5 150.4 0.6-15 0.6-62.9 0.6 76.3 0.5-95 0.6 98.6 0.6-18.4 0.5-81.1 0.6 25.3 0.6-15.8 0.5 6 0.6-5.7 0.6-26.5 0.5 103.1 0.6 13.6 0.6-147.7 0.5 30.9 0.6 35.4 0.6-37.7 0.6 106 0.5 10.7 0.6-154.2 0.6-0.1 0.5 155.9 0.6-9.2 0.6-103.2 0.5 65.1 0.6-108.6 0.6 67.5 0.5-67.2 0.6 128.2 0.6-41.3 0.5-4.8 0.6-21.7 0.6 82.6 0.5-1.7 0.6-6 0.6-54.1 0.6 22.6 0.5-28.8 0.6 62.6 0.6-113.1 0.5 131.4 0.6-6 0.6-150.2 0.5 45.4 0.6-44.8 0.6 141.7 0.5 10.4 0.6-130.9 0.6 127.2 0.5-17 0.6-128.1 0.6 37.1 0.6-38.9 0.5 150.7 0.6-58.9 0.6 60.7 0.5-154.2 0.6 34.5 0.6-32.4 0.5 146.8 0.6 0.5 0.6-13.8 0.5-111.1 0.6-22.9 0.6 17.5 0.5 127.4 0.6-18.1 0.6 24.3 0.6-119.2 0.5 119.8 0.6-0.3 0.6-120.4 0.5 119.2 0.6-34.1 0.6 38.5 0.5-156.2 0.6 84.6 0.6-18 0.5-54.8 0.6 97.5 0.6 42.7 0.5-48.4 0.6-86 0.6 40.5 0.6 26.4 0.5-80.5 0.6 141.8 0.6-116.4 0.5-6 0.6 106.6 0.6-99.6 0.5 113.5 0.6 3.8 0.6-96.4 0.5 39.9 0.6-91.4 0.6 5.6 0.5 16.6 0.6 131.8 0.6-103.2 0.5-42.9 0.6 37.2 0.6 111.4 0.6-149.4 0.5 26.3 0.6 1.4 0.6-30 0.5 151.7 0.6-132.3 0.6-24 0.5 2.9 0.6 107.5 0.6-54 0.5 99.2 0.6-28.3 0.6 23.9 0.5-59.6 0.6-37.6 0.6-30.8 0.6 60.2 0.5-27.8 0.6-53.2 0.6 153.4 0.5-141.7 0.6-0.6 0.6 3.6 0.5-11.9 0.6 139 0.6-138.4 0.5 122.7 0.6 27.6 0.6-6.4 0.5-90.8 0.6-13.6 0.6 36.7 0.6 73.1 0.5-26.1 0.6 17.6 0.6-17.9 0.5-128.6 0.6 151.2 0.6-70.3 0.5-63.3 0.6 3.1 0.6 73.6 0.5 47.4 0.6-135.6 0.6 104.2 0.5 41.9 0.6-24.7 0.6 18.3 0.6-9.9 0.5-134.3 0.6 150.8 0.6-144.2 0.5 27 0.6 44.9 0.6-19.8 0.5-58.6 0.6 87.2 0.6 6 0.5 2.7 0.6-98.1 0.6 40.4 0.5 16.8 0.6-37.3 0.6-5 0.6 136.7 0.5-138.1 0.6 143.4 0.6-102.4 0.5-53.2 0.6-0.6 0.6 2.2 0.5 64.1 0.6 88.9 0.6-150.5 0.5 150 0.6-137.6 0.6 9.7 0.5 62.7 0.6 12.6 0.6-40.1 0.5-61.6 0.6 87.1 0.6 26.7 0.6-69.3 0.5 11.7 0.6 99.5 0.6-42.2 0.5-38.6 0.6 9.3 0.6 51.2 0.5 5.7 0.6-131 0.6 102.9 0.5-74.4 0.6 110.6 0.6-125.4 0.5-15.2 0.6 43.6 0.6 12.7 0.6-29.5 0.5-36.5 0.6 72.1 0.6 77.6 0.5-149.5 0.6 156.7 0.6-145.8 0.5 61 0.6 83.9 0.6-24.1 0.5-30.5 0.6 4.7 0.6 35.5 0.5 7.7 0.6-105.5 0.6-9.9 0.6 116.8 0.5-146.7 0.6 133.1 0.6-55.5 0.5-80.5 0.6 70.2 0.6 60.8 0.5 17.4 0.6-2.8 0.6-29.1 0.5-74 0.6-39.7 0.6 120.1 0.5-28.9 0.6-61.8 0.6 88.2 0.6-52.7 0.5-44.3 0.6 123.4 0.6-23.3 0.5-75.8 0.6-36.3 0.6-7.3 0.5 6.8 0.6 34.6 0.6 74 0.5 31.1 0.6-114.7 0.6 7.7 0.5 102.5 0.6-144.7 0.6 148.7 0.5-122.9 0.6 37.2 0.6 90.1 0.6-90.8 0.5-63.4 0.6 15.2 0.6 31.2 0.5 11.8 0.6-13.6 0.6-31.4 0.5-12.4 0.6 65.4 0.6 88 0.5-84.5 0.6-52.7 0.6 138.4 0.5-154 0.6 151.1 0.6-153.9 0.6 141.6 0.5-64.2 0.6-72.4 0.6 104.3 0.5 46.8 0.6-46.9 0.6-55.6 0.5-29.1 0.6-7.7 0.6 7.3 0.5 28.1 0.6 54 0.6 48.7 0.5-36 0.6-106 0.6 38.4 0.6 104.8 0.5-139.5 0.6 89.8 0.6-34.3 0.5 10.8 0.6-26.7 0.6 77.1 0.5-133.2 0.6 125.5 0.6-3.6 0.5-112.6 0.6 21.8 0.6 87.2 0.5 38.2 0.6-13.9 0.6-27.5 0.6-17.5 0.5-0.8 0.6 16 0.6 26.9 0.5 17.1 0.6-28.5 0.6-81.7 0.5-45.6 0.6 88.4 0.6 63.4 0.5-126.1 0.6 32.4 0.6 85.5 0.5-144.7 0.6 152.6 0.6-143.8 0.6 141.1 0.5-148.8 0.6 152.9 0.6-123 0.5 32.6 0.6 88.6 0.6-124.5 0.5-0.2 0.6 109.5 0.6 4.7 0.5-82.1 0.6-55.4 0.6 4.9 0.5 35.8 0.6 35.3 0.6 22.3 0.5 8.5 0.6-4 0.6-17.2 0.6-30.7 0.5-37.6 0.6-21.5 0.6 27.2 0.5 77.6 0.6 52.1 0.6-62.2 0.5-92.4 0.6 66.2 0.6 87.6 0.5-120.4 0.6 11.2 0.6 106.1 0.5-147.8 0.6 121.5 0.6-69.1 0.6 22.6 0.5 4.6 0.6-9.5 0.6-8 0.5 46.4 0.6-98.1 0.6 141.3 0.5-138.7 0.6 60.4 0.6 66.1 0.5-132.1 0.6 44.4 0.6 99.5 0.5-72.5 0.6-83 0.6 48.4 0.6 87.9 0.5 14.1 0.6-56.4 0.6-63.6 0.5-30 0.6 5.4 0.6 23.8 0.5 26.1 0.6 20.1 0.6 11.1 0.5 2.2 0.6-6.8 0.6-15.6 0.5-23.3 0.6-26.1 0.6-17.3 0.6 7.7 0.5 43.2 0.6 65 0.6 39.7 0.5-33.9 0.6-86.8 0.6-32.9 0.5 82.1 0.6 71.8 0.6-78.6 0.5-77.9 0.6 102.5 0.6 39.4 0.5-130.9 0.6 63.1 0.6 71.2 0.6-141.2 0.5 107.3 0.6-13.2 0.6-79.9 0.5 136.8 0.6-153.4 0.6 142.4 0.5-119.7 0.6 97.5 0.6-82.8 0.5 78.8 0.6-86.1 0.6 103.3 0.5-126.3 0.6 147 0.6-153 0.5 129.7 0.6-68 0.6-24.2 0.6 112.4 0.5-142.9 0.6 79.6 0.6 47.2 0.5-132.7 0.6 81.7 0.6 63 0.5-123.2 0.6 6.5 0.6 115.3 0.5-36.4 0.6-103.8 0.6 32 0.5 100.5 0.6-0.4 0.6-90.8 0.6-48.7 0.5 48.2 0.6 79.7 0.6 28.5 0.5-39.9 0.6-66.7 0.6-44.1 0.5-0.6 0.6 34.4 0.6 47 0.5 40.2 0.6 23.7 0.6 6.5 0.5-6.2 0.6-13 0.6-14.9 0.6-13.5 0.5-10.1 0.6-6 0.6-1.6 0.5 2.8 0.6 7 0.6 10.9 0.5 13.7 0.6 14.4 0.6 11.9 0.5 4.6 0.6-7.6 0.6-23.3 0.5-38 0.6-44.3 0.6-34.9 0.6-7.2 0.5 30.4 0.6 58.3 0.6 53.6 0.5 9.6 0.6-49 0.6-73.1 0.5-31 0.6 48.1 0.6 82.5 0.5 21.6 0.6-72.7 0.6-75.8 0.5 30.9 0.6 98 0.6 10.4 0.5-100.5 0.6-37.2 0.6 99.4 0.6 47.1 0.5-104.1 0.6-39.1 0.6 114.9 0.5 9.8 0.6-121.4 0.6 42 0.5 102.6 0.6-102.9 0.6-36 0.5 130.6 0.6-69.3 0.6-70.4 0.5 136.1 0.6-67.3 0.6-63.3 0.6 138.8 0.5-103.1 0.6-8.2 0.6 112.2 0.5-144.1 0.6 92.6 0.6 6.2 0.5-99.3 0.6 146.7 0.6-135.3 0.5 77.1 0.6 2.7 0.6-78.1 0.5 130.7 0.6-152.7 0.6 145.3 0.6-115.6 0.5 72.7 0.6-25.2 0.6-20.3 0.5 59.8 0.6-91.5 0.6 115.1 0.5-131.5 0.6 142.3 0.6-148.8 0.5 152.4 0.6-154.2 0.6 154.8 0.5-154.7 0.6 153.7 0.6-151.3 0.6 146.8 0.5-139.1 0.6 126.9 0.6-109 0.5 84.4 0.6-52.5 0.6 13.9 0.5 29.5 0.6-74 0.6 114.1 0.5-143.1 0.6 153.9 0.6-140.8 0.5 101.8 0.6-40.6 0.6-32.3 0.6 100.2 0.5-143.7 0.6 146.6 0.6-103 0.5 22.9 0.6 67.7 0.6-133.7 0.5 144.4 0.6-90 0.6-8.7 0.5 104.6 0.6-145.5 0.6 104.1 0.5 0.2 0.6-105.5 0.6 142.1 0.5-80.5 0.6-39.9 0.6 130.9 0.6-119.2 0.5 9.6 0.6 108.6 0.6-130.9 0.5 32.9 0.6 96.5 0.6-130.9 0.5 32.1 0.6 100.3 0.6-123.7 0.5 8.9 0.6 115.8 0.6-103 0.5-35.1 0.6 128.7 0.6-56.8 0.6-89.3 0.5 114 0.6 18.9 0.6-124.2 0.5 49.2 0.6 97.8 0.6-95.7 0.5-54 0.6 117.3 0.6 8.4 0.5-119.1 0.6 29.9 0.6 109.1 0.5-57.7 0.6-94.6 0.6 75.5 0.6 80.9 0.5-85.6 0.6-70.7 0.6 89.8 0.5 65.5 0.6-89.6 0.6-65.6 0.5 85.6 0.6 70.5 0.6-77.4 0.5-79.1 0.6 64.2 0.6 89.3 0.5-44.7 0.6-98.3 0.6 18.4 0.6 101.9 0.5 13.7 0.6-95.5 0.6-48 0.5 75.1 0.6 78.1 0.6-39.5 0.5-95 0.6-7.2 0.6 89.5 0.5 54.6 0.6-57.4 0.6-86.8 0.5 4.4 0.6 87.7 0.6 52.1 0.6-51.2 0.5-86.3 0.6-10.8 0.6 76.6 0.5 67.9 0.6-22.7 0.6-84.5 0.5-45.9 0.6 44.6 0.6 82.7 0.5 27.9 0.6-56.2 0.6-78.1 0.5-16.7 0.6 60.6 0.6 74.2 0.5 13 0.6-59.8 0.6-72.8 0.6-16 0.5 54.5 0.6 73.1 0.6 25.1 0.5-44.2 0.6-73.2 0.6-38.5 0.5 27.8 0.6 69.5 0.6 53.5 0.5-5 0.6-58.2 0.6-65 0.5-22.3 0.6 36 0.6 66.6 0.6 48.3 0.5-3.6 0.6-51.8 0.6-63.4 0.5-32.2 0.6 19.4 0.6 57.2 0.5 57.7 0.6 22.2 0.6-26 0.5-57.4 0.6-54 0.6-19.4 0.5 25.3 0.6 54.7 0.6 53.5 0.6 23.3 0.5-18.3 0.6-49.4 0.6-54.5 0.5-32.1 0.6 5.3 0.6 39.3 0.5 53.7 0.6 42.9 0.6 12.8 0.5-22.3 0.6-46.6 0.6-50.2 0.5-32.5 0.6-1.7 0.6 28.8 0.6 47.1 0.5 46.4 0.6 27.9 0.6-0.6 0.5-28.1 0.6-44.7 0.6-44.9 0.5-29.4 0.6-3.5 0.6 29.6 0.5 48.3 0.6 45.5 0.6 27 0.5 2.2 0.6-18 0.6-28.7 0.5-31.9 0.6-30.2 0.6-25 0.6-16.6 0.5-4.2 0.6 11 0.6 24.7 0.5 33.2 0.6 34.9 0.6 29.5 0.5 18.5 0.6 4.6 0.6-9 0.5-20.3 0.6-27.9 0.6-30.7 0.5-28.9 0.6-23 0.6-13.8 0.6-2.8 0.5 8.5 0.6 17.8 0.6 24.6 0.5 28.1 0.6 28 0.6 24.4 0.5 17.4 0.6 7.7 0.6-3.8 0.5-15.1 0.6-23.8 0.6-29.1 0.5-29.7 0.6-26 0.6-18.9 0.6-9.5 0.5 0.5 0.6 9.2 0.6 15.5 0.5 19.6 0.6 21.7 0.6 22.1 0.5 21 0.6 18.5 0.6 14.7 0.5 9.8 0.6 3.4 0.6-3.7 0.5-10.8 0.6-16.7 0.6-21.1 0.6-23.3 0.5-23.4 0.6-21.2 0.6-17.4 0.5-12.2 0.6-6.3 0.6-0.3 0.5 5.3 0.6 10.1 0.6 13.8 0.5 16.5 0.6 18.1 0.6 18.5 0.5 18 0.6 16.5 0.6 14.3 0.6 11.5 0.5 8.2 0.6 4.6 0.6 0.9 0.5-2.8 0.6-6.2 0.6-9.2 0.5-11.7 0.6-13.5 0.6-14.8 0.5-15.4 0.6-15.4 0.6-14.8 0.5-13.8 0.6-12.2 0.6-10.2 0.5-8 0.6-5.6 0.6-2.8 0.6-0.2 0.5 2.5 0.6 5 0.6 7.2 0.5 9.2 0.6 10.7 0.6 12 0.5 12.7 0.6 13.2 0.6 13.1 0.5 12.8 0.6 12.1 0.6 11.1 0.5 9.9 0.6 8.4 0.6 6.8 0.6 5.1 0.5 3.3 0.6 1.5 0.6-0.2 0.5-1.9 0.6-3.4 0.6-4.8 0.5-6 0.6-7.1 0.6-7.9 0.5-8.7 0.6-9.1 0.6-9.5 0.5-9.7 0.6-9.7 0.6-9.5 0.6-9.3 0.5-8.8 0.6-8.4 0.6-7.8 0.5-7.1 0.6-6.5 0.6-5.6 0.5-4.8 0.6-3.9 0.6-3.1 0.5-2.2 0.6-1.4 0.6-0.4 0.5 0.3 0.6 1.3 0.6 2 0.6 2.9 0.5 3.6 0.6 4.3 0.6 4.9 0.5 5.6 0.6 6.1 0.6 6.5 0.5 7 0.6 7.2 0.6 7.4 0.5 7.6 0.6 7.6 0.6 7.6 0.5 7.5 0.6 7.3 0.6 7.1 0.5 6.7 0.6 6.5 0.6 6 0.6 5.6 0.5 5.1 0.6 4.7 0.6 4.1 0.5 3.6 0.6 3 0.6 2.6 0.5 2 0.6 1.5 0.6 1 0.5 0.6 0.6 0.1 0.6-0.2 0.5-0.7 0.6-1.1 0.6-1.6 0.6-1.9 0.5-2.3 0.6-2.6 0.6-3 0.5-3.4 0.6-3.7 0.6-4 0.5-4.2 0.6-4.5 0.6-4.7 0.5-4.9 0.6-5.1 0.6-5.2 0.5-5.4 0.6-5.4 0.6-5.4 0.6-5.5 0.5-5.4 0.6-5.4 0.6-5.4 0.5-5.2 0.6-5.2 0.6-5 0.5-4.8 0.6-4.7 0.6-4.4 0.5-4.3 0.6-4 0.6-3.7 0.5-3.5 0.6-3.3 0.6-3 0.6-2.7 0.5-2.4 0.6-2.1 0.6-1.9 0.5-1.6 0.6-1.3 0.6-1.1 0.5-0.8 0.6-0.5 0.6-0.4 0.5 0 0.6 0.1 0.6 0.4 0.5 0.7 0.6 1.1 0.6 1.4 0.6 1.8 0.5 2.2 0.6 2.6 0.6 3 0.5 3.4 0.6 3.6 0.6 4 0.5 4.1 0.6 4.3" stroke="#ffcc9f" stroke-width="6.3" stroke-linecap="square"/><path d="M106.5 535.9l0.6-91.6 0.5-64.5 0.6 52.8 0.6 53.4 0.5 14.5 0.6-24 0.6-68.4 0.5-11.1 0.6 137.8 0.6-151.6 0.6 148.4 0.5-51.6 0.6-56.3 0.6 15.4 0.5 83 0.6-69.1 0.6 23.9 0.5-97.6 0.6 15.7 0.6-15.6 0.5 96.4 0.6-38.8 0.6 98.9 0.5-1.9 0.6-26.2 0.6-123.7 0.6 89.9 0.5 37.7 0.6-78.5 0.6 18.1 0.5-67.4 0.6 2.4 0.6 48.9 0.5 14.2 0.6 62.8 0.6-75.7 0.5 30.9 0.6-82.2 0.6 38.3 0.5 90.5 0.6 8.1 0.6 13.2 0.6-156 0.5 47.6 0.6-47.6 0.6 154.5 0.5-0.6 0.6-74.1 0.6 67.7 0.5 8.9 0.6-150.2 0.6 53.4 0.5-56.5 0.6 94.5 0.6-39.2 0.5 40.2 0.6-36.3 0.6 86.6 0.6-18.8 0.5 12.9 0.6-52.6 0.6 52.4 0.5-142.6 0.6 1.4 0.6 152.5 0.5 2 0.6-155.5 0.6 10.1 0.5 108.3 0.6-42.4 0.6 48 0.5 28.1 0.6-150 0.6 21.8 0.6 76 0.5-28.7 0.6 31.6 0.6 5.9 0.5-54.1 0.6 24.4 0.6-43.4 0.5-34.9 0.6 124.5 0.6-102.4 0.5 99.2 0.6-122.6 0.6 16 0.5 114.3 0.6 12.7 0.6-142.6 0.5 57.4 0.6-57.3 0.6 119.6 0.6-23.6 0.5-55 0.6-39.8 0.6 98.9 0.5-97.3 0.6-3.3 0.6 151.7 0.5-65.6 0.6 69.6 0.6-151.1 0.5-4.3 0.6 122.1 0.6-119.6 0.5 14.1 0.6 138.5 0.6-46 0.6 44.1 0.5-148.5 0.6 58.3 0.6-61.4 0.5 154.9 0.6-29.7 0.6 24.7 0.5-138.9 0.6-10.1 0.6 29.1 0.5 86.5 0.6 38.5 0.6-35.4 0.5-97.3 0.6-12.5 0.6-11.7 0.6 143.4 0.5-125.6 0.6 1.8 0.6 127.5 0.5-146.6 0.6 10.9 0.6 2.7 0.5 135.5 0.6-34.7 0.6 16.2 0.5-22.7 0.6-12.4 0.6-59.8 0.5 69.1 0.6-13.1 0.6 51.5 0.6-16.8 0.5 22.9 0.6-147.2 0.6 64.6 0.5 6.3 0.6-73.5 0.6 156.9 0.5-86.3 0.6-5.9 0.6 89 0.5-146.1 0.6 119.5 0.6 15.9 0.5-81.6 0.6-3.9 0.6-29.3 0.5 53.3 0.6-50.8 0.6 18.8 0.6 29.5 0.5 76.6 0.6 0.1 0.6-75 0.5-36.8 0.6-0.1 0.6 68.3 0.5-31.6 0.6-80 0.6 156.4 0.5-110.7 0.6-39.2 0.6 26.8 0.5 117.2 0.6-140.9 0.6 133.6 0.6 11 0.5 1.5 0.6-88.1 0.6-10.1 0.5-17.9 0.6 88.8 0.6 3.5 0.5-78.6 0.6-20.7 0.6 78.4 0.5 26.2 0.6-51.4 0.6 25 0.5 42.8 0.6-148.2 0.6 151 0.6-88.3 0.5-45.6 0.6 23.9 0.6 96.6 0.5-83.5 0.6 56.1 0.6-114.8 0.5 18 0.6-3.6 0.6-9.7 0.5 129.8 0.6-103.2 0.6 122.7 0.5-84.5 0.6-39.3 0.6 26.2 0.6 87.3 0.5-70.2 0.6 1.5 0.6-53.1 0.5 104.4 0.6 25.8 0.6-8.7 0.5-75.1 0.6-60 0.6 146.4 0.5-140.7 0.6 34.9 0.6 76.3 0.5 12.5 0.6-37.1 0.6-92.1 0.6 74.5 0.5 4.9 0.6 21.2 0.6-109.3 0.5 28.4 0.6 21.6 0.6-27.9 0.5-17.9 0.6 123.1 0.6-62.5 0.5 39.2 0.6-100.9 0.6 97.6 0.5 48.2 0.6 4.2 0.6-20.7 0.5-87.6 0.6-25.8 0.6 136.1 0.6-154.8 0.5 125.4 0.6 2.1 0.6-83.9 0.5-30.1 0.6 6.4 0.6 52.2 0.5 80.8 0.6-87.7 0.6-18.6 0.5 57.1 0.6-3.2 0.6-101.9 0.5 60.7 0.6 55.8 0.6 10.4 0.6-28.8 0.5-71.6 0.6-8.7 0.6 134.1 0.5-124.5 0.6 104.7 0.6-130 0.5 126 0.6 14.9 0.6-64.7 0.5-33.9 0.6 5.1 0.6 44.8 0.5 59.6 0.6-55.2 0.6-96.2 0.6 150.8 0.5-147.8 0.6 151.4 0.6-125.7 0.5-4.6 0.6 95.1 0.6 34.4 0.5-1.1 0.6 1.2 0.6-5.4 0.5-58 0.6-88.9 0.6 73.5 0.5 59.5 0.6-132.5 0.6 147.1 0.6-125.5 0.5 40.4 0.6 90.1 0.6-75.2 0.5-67.8 0.6-13.5 0.6 1.7 0.5-1.7 0.6 13.1 0.6 65.8 0.5 76.7 0.6-77.6 0.6-65.2 0.5 144.1 0.6-153.9 0.6 153.1 0.5-151.4 0.6 101.1 0.6 32.7 0.6-109.8 0.5-24.8 0.6 43.7 0.6 38.4 0.5 12 0.6-14.6 0.6-40.1 0.5-41.1 0.6 30.9 0.6 107.5 0.5-33.5 0.6-105 0.6 148.5 0.5-130.9 0.6 117.2 0.6-130 0.6 148.6 0.5-111.3 0.6-20.8 0.6 113.2 0.5 7.7 0.6-67.4 0.6-51.4 0.5-19.4 0.6-3.6 0.6 3.6 0.5 19.1 0.6 50.3 0.6 66.7 0.5-0.6 0.6-107.4 0.6-8.6 0.6 129.2 0.5-116 0.6 38.8 0.6 23.3 0.5-46.5 0.6 30.1 0.6 25.4 0.5-103.2 0.6 137.8 0.6-47.6 0.5-96.1 0.6 54.4 0.6 83.5 0.5 15.9 0.6-30.3 0.6-33.7 0.6-18.6 0.5-0.6 0.6 17.3 0.6 32.5 0.5 31.6 0.6-8.1 0.6-74.5 0.5-69.5 0.6 64.8 0.6 91.4 0.5-110.3 0.6-8.9 0.6 116.4 0.5-151.1 0.6 139.1 0.6-120.1 0.6 115.9 0.5-130 0.6 149 0.6-141.2 0.5 69.4 0.6 57.1 0.6-128.6 0.5 31.5 0.6 103.5 0.6-21.1 0.5-86.8 0.6-40.5 0.6 20.5 0.5 43 0.6 35.9 0.6 20.5 0.5 7.3 0.6-3.7 0.6-15.7 0.6-30.4 0.5-41.8 0.6-33.1 0.6 12.2 0.5 72.4 0.6 67.4 0.6-43.2 0.5-103 0.6 43.1 0.6 105.1 0.5-105.8 0.6-18.6 0.6 124.2 0.5-143.7 0.6 99.9 0.6-39 0.6-9.6 0.5 36.4 0.6-40.9 0.6 23.4 0.5 16.2 0.6-73.2 0.6 128.8 0.5-145.1 0.6 83.8 0.6 42.1 0.5-129.8 0.6 65.6 0.6 85.3 0.5-87 0.6-69.7 0.6 62.9 0.6 82.7 0.5-0.5 0.6-63.7 0.6-60.1 0.5-21.3 0.6 13.2 0.6 28.4 0.5 27.9 0.6 20.2 0.6 10.8 0.5 1.9 0.6-6.6 0.6-15.7 0.5-24.2 0.6-29 0.6-23 0.6 0.1 0.5 37 0.6 65.2 0.6 48.4 0.5-22.8 0.6-85.8 0.6-45.4 0.5 73.2 0.6 82.3 0.6-66.7 0.5-89.4 0.6 92.4 0.6 55.5 0.5-130.3 0.6 46.4 0.6 86.5 0.6-141.9 0.5 93.6 0.6 6 0.6-95.5 0.5 144.1 0.6-151.8 0.6 133.7 0.5-106.4 0.6 81.7 0.6-66 0.5 61.9 0.6-69.9 0.6 88.7 0.5-114.7 0.6 140.4 0.6-153.2 0.5 137.8 0.6-82.7 0.6-7.7 0.6 101.3 0.5-143.5 0.6 91.7 0.6 33 0.5-129.1 0.6 92.2 0.6 50.9 0.5-125 0.6 18.9 0.6 112 0.5-47.1 0.6-99.4 0.6 41.8 0.5 98.1 0.6-9.9 0.6-92.7 0.6-41.2 0.5 54.6 0.6 78.2 0.6 21.8 0.5-45.2 0.6-66.7 0.6-40 0.5 4.6 0.6 37.7 0.6 47.7 0.5 38.6 0.6 20.9 0.6 3.7 0.5-8.6 0.6-14.7 0.6-15.9 0.6-13.9 0.5-10.4 0.6-6 0.6-1.6 0.5 2.9 0.6 7.2 0.6 11.2 0.5 14.4 0.6 15.5 0.6 13.5 0.5 6.7 0.6-5.2 0.6-21.2 0.5-36.8 0.6-44.8 0.6-37.2 0.6-11 0.5 27.1 0.6 57.2 0.6 55.9 0.5 14 0.6-45.4 0.6-73.8 0.5-35.6 0.6 43.9 0.6 83.2 0.5 27 0.6-69.2 0.6-79.1 0.5 25.2 0.6 98.4 0.6 16.5 0.5-98.7 0.6-43.1 0.6 96.6 0.6 52.9 0.5-101.3 0.6-45.2 0.6 113 0.5 16.7 0.6-122.1 0.6 35.5 0.5 106.5 0.6-98.7 0.6-42.6 0.5 131.3 0.6-63.3 0.6-76.3 0.5 135.7 0.6-61.1 0.6-69.5 0.6 139.7 0.5-98.1 0.6-15.3 0.6 116.5 0.5-143.1 0.6 87.2 0.6 13.1 0.5-104.4 0.6 147.8 0.6-132.2 0.5 71.1 0.6 9.5 0.6-83.8 0.5 134 0.6-153.1 0.6 143 0.6-111.1 0.5 66.8 0.6-18.7 0.6-26.8 0.5 65.8 0.6-96.6 0.6 119.3 0.5-134.9 0.6 144.8 0.6-150.6 0.5 153.8 0.6-155.3 0.6 155.8 0.5-155.6 0.6 154.7 0.6-152.7 0.6 148.7 0.5-141.6 0.6 130.1 0.6-112.9 0.5 88.9 0.6-57.6 0.6 19.3 0.5 24.2 0.6-69.3 0.6 110.6 0.5-141.2 0.6 153.9 0.6-142.8 0.5 105.5 0.6-45.3 0.6-27.6 0.6 96.6 0.5-142.1 0.6 147.5 0.6-106.2 0.5 27.3 0.6 63.8 0.6-131.8 0.5 145.3 0.6-93.3 0.6-4.5 0.5 101.6 0.6-145.3 0.6 106.8 0.5-3.7 0.6-102.9 0.6 142.4 0.5-83.6 0.6-36.3 0.6 129.5 0.6-121 0.5 13.1 0.6 106.4 0.6-131.9 0.5 36.2 0.6 94.1 0.6-131.7 0.5 35.2 0.6 98.2 0.6-124.9 0.5 12 0.6 114.3 0.6-104.8 0.5-32.2 0.6 128.3 0.6-59.3 0.6-87.3 0.5 115.2 0.6 16.2 0.6-123.7 0.5 51.5 0.6 96.2 0.6-97.3 0.5-51.7 0.6 117.9 0.6 5.9 0.5-118.7 0.6 32.1 0.6 108.1 0.5-59.6 0.6-93.3 0.6 77.2 0.6 79.3 0.5-86.9 0.6-69.1 0.6 91 0.5 63.9 0.6-90.7 0.6-64.1 0.5 86.7 0.6 69.2 0.6-78.8 0.5-77.8 0.6 65.5 0.6 88.5 0.5-46.2 0.6-97.8 0.6 20 0.6 101.8 0.5 12.1 0.6-95.9 0.6-46.7 0.5 76 0.6 77.3 0.6-40.9 0.5-94.6 0.6-5.9 0.6 89.9 0.5 53.6 0.6-58.5 0.6-86.3 0.5 5.6 0.6 88 0.6 51.2 0.6-52.1 0.5-86 0.6-9.7 0.6 77.1 0.5 67.2 0.6-23.8 0.6-84.6 0.5-45 0.6 45.4 0.6 82.7 0.5 26.9 0.6-56.9 0.6-77.8 0.5-15.9 0.6 61.2 0.6 74 0.5 12.1 0.6-60.3 0.6-72.5 0.6-15.3 0.5 55 0.6 73 0.6 24.3 0.5-44.7 0.6-73.1 0.6-38 0.5 28.5 0.6 69.7 0.6 53 0.5-5.7 0.6-58.5 0.6-64.8 0.5-21.7 0.6 36.5 0.6 66.6 0.6 48 0.5-4.2 0.6-52.2 0.6-63.2 0.5-31.8 0.6 19.9 0.6 57.5 0.5 57.4 0.6 21.8 0.6-26.5 0.5-57.5 0.6-53.8 0.6-19 0.5 25.7 0.6 54.9 0.6 53.3 0.6 22.9 0.5-18.7 0.6-49.6 0.6-54.3 0.5-31.9 0.6 5.8 0.6 39.5 0.5 53.7 0.6 42.7 0.6 12.4 0.5-22.6 0.6-46.7 0.6-50.1 0.5-32.2 0.6-1.5 0.6 29 0.6 47.2 0.5 46.3 0.6 27.7 0.6-0.9 0.5-28.3 0.6-44.7 0.6-44.8 0.5-29.2 0.6-3.3 0.6 29.9 0.5 48.3 0.6 45.4 0.6 26.8 0.5 2 0.6-18.2 0.6-28.8 0.5-31.9 0.6-30.2 0.6-24.9 0.6-16.4 0.5-4.1 0.6 11.2 0.6 24.8 0.5 33.3 0.6 34.9 0.6 29.4 0.5 18.3 0.6 4.5 0.6-9.2 0.5-20.4 0.6-27.9 0.6-30.7 0.5-28.9 0.6-22.9 0.6-13.7 0.6-2.6 0.5 8.5 0.6 18 0.6 24.6 0.5 28.1 0.6 27.9 0.6 24.4 0.5 17.3 0.6 7.6 0.6-3.9 0.5-15.1 0.6-24 0.6-29 0.5-29.7 0.6-26 0.6-18.8 0.6-9.4 0.5 0.6 0.6 9.2 0.6 15.6 0.5 19.6 0.6 21.8 0.6 22 0.5 21 0.6 18.4 0.6 14.7 0.5 9.7 0.6 3.4 0.6-3.7 0.5-10.9 0.6-16.8 0.6-21.1 0.6-23.3 0.5-23.4 0.6-21.2 0.6-17.3 0.5-12.2 0.6-6.2 0.6-0.2 0.5 5.3 0.6 10.1 0.6 13.9 0.5 16.5 0.6 18.1 0.6 18.5 0.5 17.9 0.6 16.5 0.6 14.3 0.6 11.5 0.5 8.2 0.6 4.6 0.6 0.8 0.5-2.8 0.6-6.3 0.6-9.2 0.5-11.7 0.6-13.5 0.6-14.8 0.5-15.4 0.6-15.4 0.6-14.8 0.5-13.8 0.6-12.2 0.6-10.2 0.5-8 0.6-5.5 0.6-2.8 0.6-0.2 0.5 2.5 0.6 5 0.6 7.3 0.5 9.2 0.6 10.7 0.6 12 0.5 12.7 0.6 13.2 0.6 13.1 0.5 12.8 0.6 12.1 0.6 11.1 0.5 9.8 0.6 8.4 0.6 6.8 0.6 5.1 0.5 3.3 0.6 1.5 0.6-0.2 0.5-1.9 0.6-3.4 0.6-4.8 0.5-6.1 0.6-7 0.6-8 0.5-8.7 0.6-9.1 0.6-9.5 0.5-9.7 0.6-9.6 0.6-9.6 0.6-9.2 0.5-8.9 0.6-8.4 0.6-7.8 0.5-7.1 0.6-6.4 0.6-5.6 0.5-4.8 0.6-4 0.6-3.1 0.5-2.2 0.6-1.3 0.6-0.4 0.5 0.3 0.6 1.3 0.6 2 0.6 2.9 0.5 3.6 0.6 4.3 0.6 5 0.5 5.5 0.6 6.1 0.6 6.6 0.5 6.9 0.6 7.2 0.6 7.4 0.5 7.6 0.6 7.6 0.6 7.6 0.5 7.5 0.6 7.3 0.6 7.1 0.5 6.8 0.6 6.4 0.6 6 0.6 5.6 0.5 5.2 0.6 4.6 0.6 4.1 0.5 3.6 0.6 3.1 0.6 2.5 0.5 2 0.6 1.5 0.6 1 0.5 0.6 0.6 0.1 0.6-0.2 0.5-0.7 0.6-1.2 0.6-1.5 0.6-1.9 0.5-2.3 0.6-2.6 0.6-3.1 0.5-3.3 0.6-3.7 0.6-4 0.5-4.2 0.6-4.5 0.6-4.7 0.5-5 0.6-5 0.6-5.2 0.5-5.4 0.6-5.4 0.6-5.4 0.6-5.5 0.5-5.4 0.6-5.4 0.6-5.4 0.5-5.3 0.6-5.1 0.6-5 0.5-4.8 0.6-4.7 0.6-4.4 0.5-4.3 0.6-4 0.6-3.7 0.5-3.5 0.6-3.3 0.6-3 0.6-2.7 0.5-2.4 0.6-2.1 0.6-1.9 0.5-1.6 0.6-1.3 0.6-1.1 0.5-0.8 0.6-0.5 0.6-0.4 0.5 0 0.6 0.1 0.6 0.4 0.5 0.7 0.6 1.1 0.6 1.4 0.6 1.8 0.5 2.2 0.6 2.6 0.6 3 0.5 3.4 0.6 3.6 0.6 4 0.5 4.1 0.6 4.3" stroke="#1f77b4" stroke-width="1.7"/></g>
<g clip-path="url(#c11)" fill="none" stroke-linejoin="round"><path d="M856.6 532.8l0.6-147.8 0.6 143.5 0.5-140.1 0.6 138.1 0.6-137.9 0.6 139.4 0.5-142.4 0.6 146.5 0.6-150.9 0.6 154.7 0.5-156.5 0.6 154.9 0.6-148.3 0.6 135 0.6-113.8 0.5 83.9 0.6-45.6 0.6 0.7 0.6 47.3 0.5-93.1 0.6 130.1 0.6-151.2 0.6 150.3 0.5-123.9 0.6 73.3 0.6-5.9 0.6-65.2 0.5 123 0.6-150.6 0.6 136.9 0.6-81.7 0.6-1.2 0.5 85.6 0.6-140.6 0.6 142.4 0.6-86 0.5-8.6 0.6 100.8 0.6-146.1 0.6 118.5 0.5-28 0.6-79 0.6 141.6 0.6-119.5 0.6 22.1 0.5 90.5 0.6-142.4 0.6 94.2 0.6 23.2 0.5-123.7 0.6 127.6 0.6-27.9 0.6-95.5 0.5 136.6 0.6-55.9 0.6-76.4 0.6 136.5 0.6-63.6 0.5-73 0.6 134.4 0.6-53.8 0.6-84.9 0.5 129 0.6-26.2 0.6-106.9 0.6 112 0.5 19.6 0.6-126.2 0.6 71.5 0.6 76.1 0.6-121.8 0.5 2 0.6 119.9 0.6-72 0.6-79 0.5 113.3 0.6 21.5 0.6-122.7 0.6 33.8 0.5 107.4 0.6-76.1 0.6-78.3 0.6 102.4 0.5 45 0.6-114.6 0.6-14 0.6 116.9 0.6-11.4 0.5-113.5 0.6 30 0.6 108.1 0.6-42.3 0.5-103 0.6 48.7 0.6 99.8 0.6-50.1 0.5-98.7 0.6 46.6 0.6 100 0.6-38.6 0.6-102.5 0.5 25.7 0.6 104.9 0.6-8 0.6-105 0.5-14.2 0.6 100.3 0.6 39.4 0.6-88 0.5-64.9 0.6 66.1 0.6 86.4 0.6-34.2 0.6-98.1 0.5-5.5 0.6 94.3 0.6 46.9 0.6-71.3 0.5-80.4 0.6 30.2 0.6 94.7 0.6 21.1 0.5-81.6 0.6-67.4 0.6 40.3 0.6 91 0.6 17.4 0.5-78.3 0.6-69 0.6 30.1 0.6 88.8 0.5 33.8 0.6-62.5 0.6-80.1 0.6 0.4 0.5 79 0.6 62.5 0.6-26.9 0.6-83.6 0.5-44.1 0.6 44.3 0.6 82 0.6 29.3 0.6-54 0.5-78.5 0.6-20 0.6 58.1 0.6 75.5 0.5 16.4 0.6-57.9 0.6-74 0.6-18.4 0.5 53.9 0.6 74 0.6 25.2 0.6-45.7 0.6-74.2 0.5-36 0.6 33 0.6 72.2 0.6 49 0.5-14.9 0.6-65.3 0.6-61.3 0.6-7.9 0.5 50.7 0.6 68.5 0.6 32.9 0.6-27.1 0.6-65.5 0.5-54.7 0.6-4.1 0.6 48.5 0.6 65.5 0.5 36.5 0.6-17.3 0.6-58.2 0.6-59.2 0.5-21.1 0.6 30.1 0.6 60.9 0.6 52.4 0.6 11.5 0.5-35.9 0.6-60.3 0.6-48.3 0.6-8 0.5 36.2 0.6 58.7 0.6 47.6 0.6 10.2 0.5-32.1 0.6-56.1 0.6-49.7 0.6-17.3 0.5 23.4 0.6 51.3 0.6 52.9 0.6 28.1 0.6-9.9 0.5-42.4 0.6-54 0.6-40.1 0.6-8 0.5 27.1 0.6 49.3 0.6 49.3 0.6 27.8 0.5-5.3 0.6-35.3 0.6-50 0.6-43.9 0.6-20.1 0.5 11.2 0.6 37.5 0.6 48.6 0.6 41 0.5 18.1 0.6-11 0.6-35.6 0.6-46.8 0.5-41 0.6-21.2 0.6 5.7 0.6 30 0.6 43.7 0.5 42.8 0.6 27.9 0.6 4.4 0.6-20 0.5-37.7 0.6-43.3 0.6-35.9 0.6-17.8 0.5 5 0.6 26 0.6 39.1 0.6 40.9 0.5 31.4 0.6 13.4 0.6-7.6 0.6-26.3 0.6-37.7 0.5-39.2 0.6-30.6 0.6-14.7 0.6 4.6 0.5 22.3 0.6 34.4 0.6 38 0.6 32.7 0.5 20.2 0.6 3.3 0.6-14 0.6-27.8 0.6-35.3 0.5-35.2 0.6-27.7 0.6-14.7 0.6 1.1 0.5 16.3 0.6 28 0.6 33.9 0.6 33.2 0.5 26.3 0.6 14.7 0.6 0.5 0.6-13.4 0.6-24.5 0.5-31.3 0.6-32.3 0.6-28 0.6-18.9 0.5-7 0.6 5.8 0.6 17.4 0.6 26.1 0.5 30.4 0.6 30 0.6 25.1 0.6 16.5 0.6 5.6 0.5-5.7 0.6-16 0.6-23.9 0.6-28.3 0.5-28.7 0.6-25.3 0.6-18.5 0.6-9.5 0.5 0.5 0.6 10.2 0.6 18.5 0.6 24.4 0.5 27 0.6 26.5 0.6 22.7 0.6 16.6 0.6 8.6 0.5-0.3 0.6-8.8 0.6-16.2 0.6-21.8 0.5-24.8 0.6-25.2 0.6-23.1 0.6-18.5 0.5-12.3 0.6-5 0.6 2 0.6 7.3 0.6 12.2 0.5 16 0.6 18.9 0.6 20.5 0.6 20.6 0.5 19.3 0.6 16.7 0.6 12.9 0.6 8 0.5 2.5 0.6-3.3 0.6-8.9 0.6-13.7 0.6-17.7 0.5-20.1 0.6-21 0.6-20.4 0.6-18.4 0.5-15.1 0.6-10.9 0.6-6.1 0.6-1.2 0.5 3.7 0.6 7.9 0.6 11.5 0.6 14.3 0.6 16.1 0.5 17.1 0.6 17.3 0.6 16.6 0.6 15.2 0.5 13.3 0.6 10.7 0.6 7.7 0.6 4.4 0.5 1 0.6-2.6 0.6-5.9 0.6-8.9 0.5-11.4 0.6-13.5 0.6-14.8 0.6-15.7 0.6-15.8 0.5-15.2 0.6-14.2 0.6-12.5 0.6-10.4 0.5-8 0.6-5.3 0.6-2.5 0.6 0.3 0.5 3.2 0.6 5.8 0.6 8.2 0.6 10.3 0.6 11.9 0.5 13.2 0.6 13.9 0.6 14.2 0.6 14 0.5 13.3 0.6 12.3 0.6 10.9 0.6 9.1 0.5 7.2 0.6 5.1 0.6 3 0.6 0.8 0.6-1.2 0.5-3.2 0.6-5 0.6-6.5 0.6-7.8 0.5-8.9 0.6-9.8 0.6-10.4 0.6-10.9 0.5-11 0.6-11.1 0.6-10.8 0.6-10.4 0.6-9.9 0.5-9.1 0.6-8.2 0.6-7.1 0.6-5.9 0.5-4.6 0.6-3.2 0.6-1.7 0.6-0.1 0.5 1.5 0.6 3.1 0.6 4.6 0.6 6 0.5 7.2 0.6 8.4 0.6 9.2 0.6 10 0.6 10.5 0.5 10.8 0.6 10.8 0.6 10.7 0.6 10.4 0.5 9.8 0.6 9.1 0.6 8.3 0.6 7.3 0.5 6.2 0.6 5 0.6 3.8 0.6 2.6 0.6 1.3 0.5 0.2 0.6-1 0.6-2.2 0.6-3.1 0.5-4 0.6-5 0.6-5.6 0.6-6.4 0.5-6.8 0.6-7.4 0.6-7.7 0.6-7.9 0.6-8.2 0.5-8.2 0.6-8.2 0.6-8.1 0.6-7.9 0.5-7.6 0.6-7.4 0.6-6.9 0.6-6.5 0.5-6 0.6-5.4 0.6-4.9 0.6-4.2 0.5-3.5 0.6-2.8 0.6-2.1 0.6-1.3 0.6-0.6 0.5 0.2 0.6 0.9 0.6 1.6 0.6 2.4 0.5 3 0.6 3.7 0.6 4.2 0.6 4.8 0.5 5.3 0.6 5.6 0.6 6.1 0.6 6.4 0.6 6.6 0.5 6.9 0.6 6.9 0.6 7.1 0.6 7 0.5 7.1 0.6 6.9 0.6 6.8 0.6 6.6 0.5 6.3 0.6 6.1 0.6 5.7 0.6 5.4 0.6 5 0.5 4.5 0.6 4 0.6 3.6 0.6 3 0.5 2.6 0.6 2 0.6 1.4 0.6 0.9 0.5 0.3 0.6-0.2 0.6-0.7 0.6-1.3 0.6-1.7 0.5-2.3 0.6-2.7 0.6-3.1 0.6-3.6 0.5-3.9 0.6-4.2 0.6-4.6 0.6-4.8 0.5-5.1 0.6-5.3 0.6-5.5 0.6-5.7 0.5-5.7 0.6-5.8 0.6-5.9 0.6-5.9 0.6-5.8 0.5-5.8 0.6-5.7 0.6-5.6 0.6-5.5 0.5-5.3 0.6-5.1 0.6-4.9 0.6-4.6 0.5-4.4 0.6-4.1 0.6-3.8 0.6-3.5 0.6-3.1 0.5-2.8 0.6-2.4 0.6-2.1 0.6-1.7 0.5-1.3 0.6-0.8 0.6-0.5 0.6-0.1 0.5 0.3 0.6 0.7 0.6 1.1 0.6 1.4 0.6 1.9 0.5 2.2 0.6 2.5 0.6 2.9 0.6 3.1 0.5 3.5 0.6 3.7 0.6 4 0.6 4.3 0.5 4.4 0.6 4.6 0.6 4.8 0.6 4.9 0.6 5.1 0.5 5.1 0.6 5.2 0.6 5.2 0.6 5.3 0.5 5.2 0.6 5.2 0.6 5.2 0.6 5.1 0.5 5 0.6 4.9 0.6 4.7 0.6 4.6 0.5 4.4 0.6 4.2 0.6 4 0.6 3.8 0.6 3.5 0.5 3.3 0.6 3.1 0.6 2.7 0.6 2.5 0.5 2.2 0.6 1.9 0.6 1.7 0.6 1.3 0.5 1 0.6 0.7 0.6 0.4 0.6 0.1 0.6-0.1 0.5-0.5 0.6-0.8 0.6-1 0.6-1.4 0.5-1.6 0.6-1.8 0.6-2.2 0.6-2.4 0.5-2.6 0.6-2.8 0.6-3.1 0.6-3.3 0.6-3.5 0.5-3.7 0.6-3.8 0.6-4 0.6-4.1 0.5-4.3 0.6-4.3 0.6-4.5 0.6-4.5 0.5-4.6 0.6-4.6 0.6-4.7 0.6-4.7 0.5-4.6 0.6-4.7 0.6-4.6 0.6-4.5 0.6-4.5 0.5-4.4 0.6-4.3 0.6-4.2 0.6-4 0.5-3.9 0.6-3.7 0.6-3.6 0.6-3.4 0.5-3.2 0.6-3 0.6-2.8 0.6-2.6 0.6-2.3 0.5-2.1 0.6-1.9 0.6-1.6 0.6-1.3 0.5-1.1 0.6-0.8 0.6-0.6 0.6-0.3 0.5 0 0.6 0.2 0.6 0.5 0.6 0.8 0.6 1.1 0.5 1.3 0.6 1.7 0.6 1.8 0.6 2.2 0.5 2.4 0.6 2.7 0.6 2.9 0.6 3.2 0.5 3.4 0.6 3.6 0.6 3.8 0.6 4 0.6 4.2 0.5 4.4 0.6 4.4 0.6 4.6 0.6 4.8 0.5 4.8 0.6 4.8 0.6 4.9 0.6 5 0.5 4.9 0.6 4.9 0.6 4.9 0.6 4.9 0.5 4.7 0.6 4.7 0.6 4.6 0.6 4.4 0.6 4.2 0.5 4.1 0.6 4 0.6 3.7 0.6 3.5 0.5 3.2 0.6 3.1 0.6 2.8 0.6 2.5 0.5 2.3 0.6 2 0.6 1.7 0.6 1.4 0.6 1.2 0.5 0.8 0.6 0.6 0.6 0.3 0.6 0 0.5-0.2 0.6-0.6 0.6-0.8 0.6-1.1 0.5-1.3 0.6-1.6 0.6-1.9 0.6-2.1 0.6-2.3 0.5-2.6 0.6-2.8 0.6-3 0.6-3.2 0.5-3.5 0.6-3.5 0.6-3.8 0.6-3.9 0.5-4.1 0.6-4.1 0.6-4.3 0.6-4.4 0.6-4.4 0.5-4.6 0.6-4.5 0.6-4.6 0.6-4.7 0.5-4.6 0.6-4.6 0.6-4.6 0.6-4.5 0.5-4.5 0.6-4.4 0.6-4.3 0.6-4.1 0.5-4.1 0.6-3.9 0.6-3.8 0.6-3.7 0.6-3.4 0.5-3.3 0.6-3 0.6-2.9 0.6-2.6 0.5-2.4 0.6-2.2 0.6-1.9 0.6-1.7 0.5-1.4 0.6-1.2 0.6-0.9 0.6-0.6 0.6-0.4 0.5 0 0.6 0.2 0.6 0.4 0.6 0.8 0.5 1 0.6 1.3 0.6 1.6 0.6 1.9 0.5 2.2 0.6 2.4 0.6 2.7 0.6 2.9 0.6 3.2 0.5 3.4 0.6 3.6 0.6 3.9 0.6 4 0.5 4.2 0.6 4.3 0.6 4.5 0.6 4.6 0.5 4.8 0.6 4.7 0.6 4.9 0.6 4.9 0.6 4.9 0.5 4.9 0.6 4.9 0.6 4.8 0.6 4.8 0.5 4.7 0.6 4.6 0.6 4.5 0.6 4.4 0.5 4.1 0.6 4.1 0.6 3.8 0.6 3.7 0.5 3.4 0.6 3.2 0.6 3 0.6 2.8 0.6 2.5 0.5 2.3 0.6 2 0.6 1.8 0.6 1.5 0.5 1.3 0.6 1 0.6 0.7 0.6 0.5 0.5 0.3 0.6 0 0.6-0.2 0.6-0.4 0.6-0.6 0.5-0.9 0.6-1 0.6-1.2 0.6-1.4 0.5-1.6 0.6-1.7 0.6-1.9 0.6-2 0.5-2.2 0.6-2.3 0.6-2.4 0.6-2.5 0.6-2.7 0.5-2.7 0.6-2.9 0.6-2.9 0.6-3.1 0.5-3.1 0.6-3.1 0.6-3.3 0.6-3.3 0.5-3.4 0.6-3.4 0.6-3.5 0.6-3.5 0.5-3.5 0.6-3.6 0.6-3.6 0.6-3.6 0.6-3.6 0.5-3.6 0.6-3.7 0.6-3.6 0.6-3.6 0.5-3.6 0.6-3.6 0.6-3.6 0.6-3.5 0.5-3.4 0.6-3.4 0.6-3.4 0.6-3.2 0.6-3.2 0.5-3.1 0.6-3 0.6-2.9 0.6-2.7 0.5-2.6 0.6-2.5 0.6-2.3 0.6-2.1 0.5-2 0.6-1.7 0.6-1.5 0.6-1.3 0.6-1.1 0.5-0.8 0.6-0.6 0.6-0.2 0.6 0 0.5 0.3 0.6 0.7 0.6 0.9 0.6 1.3 0.5 1.5 0.6 1.9 0.6 2.1 0.6 2.5 0.6 2.7 0.5 3 0.6 3.3 0.6 3.6 0.6 3.8 0.5 4 0.6 4.3 0.6 4.5 0.6 4.6 0.5 4.9 0.6 5 0.6 5.1 0.6 5.3 0.5 5.3 0.6 5.4 0.6 5.5 0.6 5.4 0.6 5.5 0.5 5.4 0.6 5.3 0.6 5.3 0.6 5.1 0.5 5 0.6 4.8 0.6 4.6 0.6 4.4 0.5 4.1 0.6 3.8 0.6 3.4 0.6 3.2 0.6 2.7 0.5 2.4 0.6 1.9 0.6 1.5 0.6 1 0.5 0.6 0.6 0 0.6-0.4 0.6-1 0.5-1.4 0.6-2 0.6-2.5 0.6-3 0.6-3.5 0.5-3.9 0.6-4.5 0.6-4.9 0.6-5.2 0.5-5.7 0.6-6 0.6-6.3 0.6-6.6 0.5-6.7 0.6-6.9 0.6-7 0.6-7.1 0.6-7 0.5-7 0.6-6.8 0.6-6.7 0.6-6.4 0.5-6 0.6-5.7 0.6-5.3 0.6-4.8 0.5-4.2 0.6-3.7 0.6-3.1 0.6-2.5 0.5-1.7 0.6-1.1 0.6-0.3 0.6 0.3 0.6 1.1 0.5 1.9 0.6 2.5 0.6 3.3 0.6 4.1 0.5 4.7 0.6 5.3 0.6 6 0.6 6.4 0.5 7 0.6 7.4 0.6 7.7 0.6 7.9 0.6 8.1 0.5 8.2 0.6 8.2 0.6 8.1 0.6 7.8 0.5 7.6 0.6 7.2 0.6 6.7 0.6 6.2 0.5 5.5 0.6 4.9 0.6 4.2 0.6 3.4 0.6 2.5 0.5 1.8 0.6 0.8 0.6 0 0.6-0.8 0.5-1.7 0.6-2.6 0.6-3.4 0.6-4.1 0.5-5 0.6-5.6 0.6-6.3 0.6-6.9 0.6-7.4 0.5-7.8 0.6-8.2 0.6-8.5 0.6-8.6 0.5-8.6 0.6-8.6 0.6-8.5 0.6-8.2 0.5-7.8 0.6-7.3 0.6-6.8 0.6-6.1 0.5-5.3 0.6-4.5 0.6-3.6 0.6-2.6 0.6-1.6 0.5-0.4 0.6 0.6 0.6 1.9 0.6 3.3 0.5 4.7 0.6 6.2 0.6 7.5 0.6 8.7 0.5 9.8 0.6 10.5 0.6 11.1" stroke="#ffcc9f" stroke-width="6.3" stroke-linecap="square"/><path d="M856.6 532.2l0.6-146.4 0.6 141.8 0.5-138.2 0.6 136.1 0.6-135.9 0.6 137.5 0.5-140.7 0.6 145.1 0.6-149.9 0.6 154.1 0.5-156.4 0.6 155.4 0.6-149.5 0.6 136.9 0.6-116.3 0.5 87 0.6-49.1 0.6 4.4 0.6 43.7 0.5-90.1 0.6 128.1 0.6-150.5 0.6 151 0.5-125.9 0.6 76.3 0.6-9.3 0.6-62.2 0.5 121.1 0.6-150.3 0.6 138.3 0.6-84.4 0.6 2 0.5 82.9 0.6-139.5 0.6 143.3 0.6-88.5 0.5-5.5 0.6 98.5 0.6-145.7 0.6 120.2 0.5-30.9 0.6-76.5 0.6 140.9 0.6-121 0.6 24.9 0.5 88.3 0.6-142.3 0.6 96.2 0.6 20.6 0.5-122.4 0.6 128.6 0.6-30.4 0.6-93.6 0.5 136.9 0.6-58.1 0.6-74.3 0.6 136.5 0.6-65.7 0.5-70.9 0.6 134.5 0.6-56 0.6-83.1 0.5 129.6 0.6-28.4 0.6-105.6 0.6 113.1 0.5 17.5 0.6-125.8 0.6 73.3 0.6 74.3 0.6-122.3 0.5 4.1 0.6 119.1 0.6-73.6 0.6-77.4 0.5 114.1 0.6 19.5 0.6-122.5 0.6 35.7 0.5 106.5 0.6-77.6 0.6-76.9 0.6 103.3 0.5 43.4 0.6-115.1 0.6-12.2 0.6 116.8 0.6-13 0.5-113.2 0.6 31.6 0.6 107.6 0.6-43.8 0.5-102.3 0.6 50.1 0.6 99 0.6-51.4 0.5-98.1 0.6 48 0.6 99.4 0.6-40 0.6-102 0.5 27.1 0.6 104.6 0.6-9.4 0.6-104.9 0.5-12.9 0.6 100.6 0.6 38.2 0.6-88.7 0.5-63.9 0.6 67 0.6 85.8 0.6-35.3 0.6-97.9 0.5-4.4 0.6 94.6 0.6 45.9 0.6-72.1 0.5-79.7 0.6 31.3 0.6 94.6 0.6 20 0.5-82 0.6-66.8 0.6 41.3 0.6 90.8 0.6 16.4 0.5-78.7 0.6-68.4 0.6 31 0.6 88.8 0.5 33 0.6-63.2 0.6-79.7 0.6 1.3 0.5 79.3 0.6 61.9 0.6-27.7 0.6-83.8 0.5-43.3 0.6 45 0.6 81.9 0.6 28.6 0.6-54.7 0.5-78.2 0.6-19.3 0.6 58.7 0.6 75.2 0.5 15.7 0.6-58.4 0.6-73.8 0.6-17.7 0.5 54.4 0.6 73.9 0.6 24.5 0.6-46.3 0.6-74.1 0.5-35.4 0.6 33.5 0.6 72.3 0.6 48.6 0.5-15.6 0.6-65.5 0.6-61 0.6-7.3 0.5 51.1 0.6 68.4 0.6 32.4 0.6-27.6 0.6-65.6 0.5-54.4 0.6-3.5 0.6 48.8 0.6 65.5 0.5 36 0.6-17.8 0.6-58.4 0.6-59.1 0.5-20.5 0.6 30.5 0.6 61 0.6 52.2 0.6 10.9 0.5-36.2 0.6-60.4 0.6-48 0.6-7.5 0.5 36.5 0.6 58.8 0.6 47.3 0.6 9.8 0.5-32.4 0.6-56.2 0.6-49.5 0.6-17 0.5 23.8 0.6 51.5 0.6 52.7 0.6 27.7 0.6-10.2 0.5-42.6 0.6-54 0.6-39.8 0.6-7.7 0.5 27.4 0.6 49.5 0.6 49.1 0.6 27.5 0.5-5.6 0.6-35.5 0.6-50.1 0.6-43.7 0.6-19.9 0.5 11.6 0.6 37.6 0.6 48.7 0.6 40.9 0.5 17.8 0.6-11.4 0.6-35.8 0.6-46.7 0.5-41 0.6-20.8 0.6 5.9 0.6 30.2 0.6 43.8 0.5 42.7 0.6 27.7 0.6 4.1 0.6-20.2 0.5-37.8 0.6-43.4 0.6-35.7 0.6-17.6 0.5 5.3 0.6 26.2 0.6 39.2 0.6 40.8 0.5 31.2 0.6 13.3 0.6-7.9 0.6-26.5 0.6-37.8 0.5-39.1 0.6-30.5 0.6-14.4 0.6 4.8 0.5 22.5 0.6 34.4 0.6 38 0.6 32.6 0.5 20 0.6 3.1 0.6-14.1 0.6-28 0.6-35.3 0.5-35.2 0.6-27.5 0.6-14.5 0.6 1.2 0.5 16.5 0.6 28 0.6 33.9 0.6 33.2 0.5 26.2 0.6 14.5 0.6 0.4 0.6-13.5 0.6-24.6 0.5-31.3 0.6-32.4 0.6-27.9 0.6-18.8 0.5-6.8 0.6 5.9 0.6 17.6 0.6 26.1 0.5 30.4 0.6 30 0.6 25 0.6 16.4 0.6 5.5 0.5-5.8 0.6-16.1 0.6-24 0.6-28.3 0.5-28.7 0.6-25.2 0.6-18.5 0.6-9.4 0.5 0.6 0.6 10.4 0.6 18.6 0.6 24.4 0.5 27 0.6 26.4 0.6 22.8 0.6 16.5 0.6 8.4 0.5-0.3 0.6-8.9 0.6-16.4 0.6-21.8 0.5-24.8 0.6-25.2 0.6-23 0.6-18.5 0.5-12.2 0.6-4.9 0.6 2 0.6 7.5 0.6 12.2 0.5 16.1 0.6 18.9 0.6 20.5 0.6 20.6 0.5 19.3 0.6 16.6 0.6 12.8 0.6 8 0.5 2.4 0.6-3.3 0.6-9 0.6-13.9 0.6-17.6 0.5-20.1 0.6-21.1 0.6-20.4 0.6-18.4 0.5-15 0.6-10.9 0.6-6 0.6-1 0.5 3.7 0.6 8 0.6 11.5 0.6 14.3 0.6 16.1 0.5 17.2 0.6 17.2 0.6 16.6 0.6 15.2 0.5 13.2 0.6 10.7 0.6 7.7 0.6 4.3 0.5 0.9 0.6-2.6 0.6-5.9 0.6-8.9 0.5-11.5 0.6-13.5 0.6-14.9 0.6-15.6 0.6-15.8 0.5-15.2 0.6-14.2 0.6-12.5 0.6-10.4 0.5-7.9 0.6-5.3 0.6-2.5 0.6 0.4 0.5 3.2 0.6 5.9 0.6 8.2 0.6 10.3 0.6 12 0.5 13.2 0.6 13.9 0.6 14.2 0.6 14 0.5 13.4 0.6 12.2 0.6 10.8 0.6 9.1 0.5 7.2 0.6 5.1 0.6 2.9 0.6 0.8 0.6-1.3 0.5-3.2 0.6-5 0.6-6.5 0.6-7.8 0.5-9 0.6-9.8 0.6-10.4 0.6-10.9 0.5-11.1 0.6-11 0.6-10.8 0.6-10.4 0.6-9.9 0.5-9.1 0.6-8.1 0.6-7.1 0.6-5.9 0.5-4.6 0.6-3.2 0.6-1.6 0.6-0.1 0.5 1.6 0.6 3.1 0.6 4.6 0.6 6 0.5 7.3 0.6 8.3 0.6 9.3 0.6 10 0.6 10.5 0.5 10.8 0.6 10.8 0.6 10.7 0.6 10.4 0.5 9.8 0.6 9.1 0.6 8.3 0.6 7.2 0.5 6.2 0.6 5 0.6 3.8 0.6 2.5 0.6 1.3 0.5 0.2 0.6-1.1 0.6-2.1 0.6-3.2 0.5-4 0.6-5 0.6-5.7 0.6-6.3 0.5-6.9 0.6-7.3 0.6-7.8 0.6-7.9 0.6-8.2 0.5-8.2 0.6-8.2 0.6-8 0.6-8 0.5-7.6 0.6-7.3 0.6-7 0.6-6.4 0.5-6 0.6-5.4 0.6-4.9 0.6-4.1 0.5-3.5 0.6-2.8 0.6-2.1 0.6-1.4 0.6-0.5 0.5 0.2 0.6 0.9 0.6 1.7 0.6 2.4 0.5 3 0.6 3.7 0.6 4.2 0.6 4.8 0.5 5.3 0.6 5.7 0.6 6.1 0.6 6.3 0.6 6.7 0.5 6.8 0.6 7 0.6 7 0.6 7.1 0.5 7 0.6 7 0.6 6.8 0.6 6.6 0.5 6.3 0.6 6.1 0.6 5.7 0.6 5.3 0.6 5 0.5 4.5 0.6 4 0.6 3.6 0.6 3 0.5 2.5 0.6 2 0.6 1.4 0.6 0.9 0.5 0.3 0.6-0.2 0.6-0.7 0.6-1.3 0.6-1.8 0.5-2.2 0.6-2.8 0.6-3.1 0.6-3.6 0.5-3.9 0.6-4.2 0.6-4.6 0.6-4.9 0.5-5.1 0.6-5.3 0.6-5.5 0.6-5.6 0.5-5.8 0.6-5.8 0.6-5.8 0.6-5.9 0.6-5.9 0.5-5.8 0.6-5.7 0.6-5.6 0.6-5.4 0.5-5.3 0.6-5.1 0.6-4.9 0.6-4.7 0.5-4.3 0.6-4.1 0.6-3.8 0.6-3.5 0.6-3.1 0.5-2.8 0.6-2.4 0.6-2 0.6-1.7 0.5-1.3 0.6-0.9 0.6-0.4 0.6-0.1 0.5 0.3 0.6 0.7 0.6 1.1 0.6 1.5 0.6 1.8 0.5 2.2 0.6 2.6 0.6 2.8 0.6 3.2 0.5 3.5 0.6 3.7 0.6 4 0.6 4.3 0.5 4.4 0.6 4.6 0.6 4.8 0.6 4.9 0.6 5.1 0.5 5.1 0.6 5.2 0.6 5.3 0.6 5.2 0.5 5.3 0.6 5.2 0.6 5.1 0.6 5.1 0.5 5 0.6 4.9 0.6 4.7 0.6 4.6 0.5 4.4 0.6 4.2 0.6 4 0.6 3.8 0.6 3.5 0.5 3.3 0.6 3.1 0.6 2.7 0.6 2.5 0.5 2.2 0.6 1.9 0.6 1.6 0.6 1.3 0.5 1 0.6 0.7 0.6 0.4 0.6 0.1 0.6-0.1 0.5-0.5 0.6-0.8 0.6-1.1 0.6-1.3 0.5-1.6 0.6-1.9 0.6-2.1 0.6-2.4 0.5-2.7 0.6-2.8 0.6-3.1 0.6-3.3 0.6-3.5 0.5-3.7 0.6-3.8 0.6-4 0.6-4.1 0.5-4.3 0.6-4.4 0.6-4.4 0.6-4.5 0.5-4.6 0.6-4.7 0.6-4.6 0.6-4.7 0.5-4.6 0.6-4.7 0.6-4.6 0.6-4.5 0.6-4.5 0.5-4.4 0.6-4.3 0.6-4.2 0.6-4 0.5-3.9 0.6-3.7 0.6-3.6 0.6-3.4 0.5-3.2 0.6-3 0.6-2.8 0.6-2.6 0.6-2.3 0.5-2.1 0.6-1.8 0.6-1.6 0.6-1.4 0.5-1 0.6-0.9 0.6-0.5 0.6-0.3 0.5 0 0.6 0.2 0.6 0.5 0.6 0.8 0.6 1.1 0.5 1.4 0.6 1.6 0.6 1.9 0.6 2.2 0.5 2.4 0.6 2.7 0.6 2.9 0.6 3.2 0.5 3.4 0.6 3.6 0.6 3.8 0.6 4 0.6 4.2 0.5 4.4 0.6 4.4 0.6 4.7 0.6 4.7 0.5 4.8 0.6 4.8 0.6 4.9 0.6 5 0.5 4.9 0.6 5 0.6 4.8 0.6 4.9 0.5 4.7 0.6 4.7 0.6 4.6 0.6 4.4 0.6 4.2 0.5 4.1 0.6 3.9 0.6 3.7 0.6 3.5 0.5 3.3 0.6 3 0.6 2.8 0.6 2.6 0.5 2.2 0.6 2 0.6 1.7 0.6 1.4 0.6 1.2 0.5 0.8 0.6 0.6 0.6 0.3 0.6 0 0.5-0.2 0.6-0.6 0.6-0.8 0.6-1.1 0.5-1.3 0.6-1.6 0.6-1.9 0.6-2.1 0.6-2.4 0.5-2.6 0.6-2.8 0.6-3 0.6-3.2 0.5-3.4 0.6-3.6 0.6-3.8 0.6-3.9 0.5-4 0.6-4.2 0.6-4.3 0.6-4.4 0.6-4.4 0.5-4.6 0.6-4.5 0.6-4.6 0.6-4.6 0.5-4.7 0.6-4.6 0.6-4.6 0.6-4.5 0.5-4.4 0.6-4.4 0.6-4.3 0.6-4.2 0.5-4.1 0.6-3.9 0.6-3.8 0.6-3.6 0.6-3.5 0.5-3.2 0.6-3.1 0.6-2.8 0.6-2.7 0.5-2.4 0.6-2.1 0.6-2 0.6-1.6 0.5-1.5 0.6-1.1 0.6-0.9 0.6-0.6 0.6-0.4 0.5 0 0.6 0.2 0.6 0.4 0.6 0.8 0.5 1 0.6 1.4 0.6 1.6 0.6 1.9 0.5 2.1 0.6 2.4 0.6 2.7 0.6 3 0.6 3.2 0.5 3.4 0.6 3.6 0.6 3.8 0.6 4.1 0.5 4.2 0.6 4.3 0.6 4.5 0.6 4.6 0.5 4.7 0.6 4.8 0.6 4.9 0.6 4.9 0.6 4.9 0.5 4.9 0.6 4.9 0.6 4.8 0.6 4.8 0.5 4.7 0.6 4.6 0.6 4.5 0.6 4.3 0.5 4.2 0.6 4 0.6 3.9 0.6 3.6 0.5 3.5 0.6 3.2 0.6 3 0.6 2.7 0.6 2.6 0.5 2.2 0.6 2 0.6 1.8 0.6 1.5 0.5 1.3 0.6 1 0.6 0.7 0.6 0.5 0.5 0.3 0.6 0 0.6-0.2 0.6-0.4 0.6-0.6 0.5-0.9 0.6-1 0.6-1.2 0.6-1.4 0.5-1.6 0.6-1.7 0.6-1.9 0.6-2 0.5-2.2 0.6-2.3 0.6-2.4 0.6-2.6 0.6-2.6 0.5-2.8 0.6-2.8 0.6-3 0.6-3 0.5-3.1 0.6-3.2 0.6-3.2 0.6-3.4 0.5-3.3 0.6-3.5 0.6-3.4 0.6-3.5 0.5-3.6 0.6-3.5 0.6-3.6 0.6-3.6 0.6-3.7 0.5-3.6 0.6-3.6 0.6-3.7 0.6-3.6 0.5-3.6 0.6-3.6 0.6-3.5 0.6-3.5 0.5-3.5 0.6-3.4 0.6-3.3 0.6-3.3 0.6-3.2 0.5-3.1 0.6-2.9 0.6-2.9 0.6-2.8 0.5-2.6 0.6-2.4 0.6-2.3 0.6-2.2 0.5-1.9 0.6-1.7 0.6-1.6 0.6-1.3 0.6-1 0.5-0.8 0.6-0.6 0.6-0.2 0.6 0 0.5 0.3 0.6 0.7 0.6 0.9 0.6 1.3 0.5 1.6 0.6 1.8 0.6 2.2 0.6 2.4 0.6 2.8 0.5 3 0.6 3.3 0.6 3.5 0.6 3.8 0.5 4.1 0.6 4.2 0.6 4.5 0.6 4.7 0.5 4.8 0.6 5 0.6 5.2 0.6 5.2 0.5 5.4 0.6 5.4 0.6 5.4 0.6 5.5 0.6 5.4 0.5 5.4 0.6 5.4 0.6 5.3 0.6 5.1 0.5 5 0.6 4.8 0.6 4.6 0.6 4.3 0.5 4.1 0.6 3.8 0.6 3.5 0.6 3.1 0.6 2.7 0.5 2.4 0.6 1.9 0.6 1.5 0.6 1 0.5 0.6 0.6 0 0.6-0.4 0.6-1 0.5-1.4 0.6-2 0.6-2.5 0.6-3 0.6-3.5 0.5-4 0.6-4.4 0.6-4.9 0.6-5.3 0.5-5.6 0.6-6 0.6-6.3 0.6-6.6 0.5-6.8 0.6-6.9 0.6-7 0.6-7 0.6-7.1 0.5-6.9 0.6-6.9 0.6-6.6 0.6-6.4 0.5-6 0.6-5.7 0.6-5.3 0.6-4.8 0.5-4.3 0.6-3.6 0.6-3.1 0.6-2.5 0.5-1.7 0.6-1.1 0.6-0.3 0.6 0.3 0.6 1.1 0.5 1.9 0.6 2.5 0.6 3.4 0.6 4 0.5 4.7 0.6 5.3 0.6 6 0.6 6.5 0.5 6.9 0.6 7.4 0.6 7.7 0.6 7.9 0.6 8.2 0.5 8.2 0.6 8.1 0.6 8.1 0.6 7.8 0.5 7.6 0.6 7.2 0.6 6.7 0.6 6.2 0.5 5.6 0.6 4.8 0.6 4.2 0.6 3.4 0.6 2.5 0.5 1.8 0.6 0.8 0.6 0 0.6-0.8 0.5-1.7 0.6-2.6 0.6-3.4 0.6-4.1 0.5-5 0.6-5.6 0.6-6.3 0.6-6.9 0.6-7.4 0.5-7.8 0.6-8.2 0.6-8.5 0.6-8.6 0.5-8.6 0.6-8.6 0.6-8.5 0.6-8.2 0.5-7.8 0.6-7.3 0.6-6.8 0.6-6.1 0.5-5.3 0.6-4.5 0.6-3.6 0.6-2.6 0.6-1.6 0.5-0.4 0.6 0.6 0.6 1.9 0.6 3.3 0.5 4.7 0.6 6.2 0.6 7.5 0.6 8.7 0.5 9.8 0.6 10.5 0.6 11.1" stroke="#1f77b4" stroke-width="1.7"/></g>
<g clip-path="url(#c21)" fill="none" stroke-linejoin="round"><path d="M1593.2 465.8l0.6 20.7 0.5-105.5 0.6 145.6 0.6 6.4 0.6-133 0.5 120.4 0.6-51.2 0.6-2.3 0.6-12 0.5 40.9 0.6 35 0.6-144.2 0.5 48.4 0.6-13.4 0.6-33.5 0.6 147.6 0.5 0.1 0.6-145.7 0.6 60.5 0.6-71 0.5 122.3 0.6-5.6 0.6-114.3 0.5 69.3 0.6-25.8 0.6 4 0.6-26.4 0.5 9.6 0.6-17.6 0.6 117.6 0.6 10.1 0.5 5.4 0.6-36.7 0.6-80.2 0.6 10.8 0.5 62.4 0.6-24.9 0.6-78.7 0.5 121.9 0.6-100.2 0.6 131.7 0.6-42.6 0.5-49 0.6-0.1 0.6 43.7 0.6 49.3 0.5-61.9 0.6-94.1 0.6 127.5 0.5-44.1 0.6-52.5 0.6 118 0.6-149.2 0.5 149.1 0.6-113 0.6 32.3 0.6 77.6 0.5-130.3 0.6 19.5 0.6 91.2 0.5 30 0.6-0.5 0.6 0.5 0.6-37.4 0.5-108.4 0.6 85.2 0.6-32.4 0.6 81.5 0.5-98 0.6-29.1 0.6 34.1 0.5 101.1 0.6-132.1 0.6 136 0.6-50.5 0.5 5.4 0.6 42.5 0.6-153.7 0.6 126.3 0.5 27.4 0.6-42 0.6-105.9 0.5 93 0.6 38.9 0.6-78.4 0.6 14.4 0.5-73.8 0.6-0.3 0.6 121.2 0.6-120.8 0.5 6.9 0.6 46.6 0.6 1.3 0.6 33.6 0.5-89 0.6 136.1 0.6 8.4 0.5-135.5 0.6 126.2 0.6-29.1 0.6-76.5 0.5-28.9 0.6 56.1 0.6-16.1 0.6-11.4 0.5 71 0.6-68.9 0.6 116.2 0.5-125.5 0.6 59.4 0.6-40.1 0.6-6.8 0.5 72.7 0.6-38.3 0.6 69.2 0.6 16.2 0.5-89.7 0.6 84.1 0.6-116.6 0.5 105.3 0.6-113 0.6 109.8 0.6-112.9 0.5 106.2 0.6-117.3 0.6 87.9 0.6-97.4 0.5 26.1 0.6 44.6 0.6-41.6 0.5 114.1 0.6 1.6 0.6-120.6 0.6 43.2 0.5-49 0.6-2.3 0.6-0.4 0.6 64.2 0.5-30.9 0.6 49.5 0.6-49 0.5 106.6 0.6-93.9 0.6 56.9 0.6-90.6 0.5 38.5 0.6-58.9 0.6 60.3 0.6-34.5 0.5 67.5 0.6-77.7 0.6 92.4 0.5-102.5 0.6 23.3 0.6-12.1 0.6 35.5 0.5-3.1 0.6-26.3 0.6 0 0.6-16.1 0.5 79.4 0.6-95 0.6 5.7 0.6 146.8 0.5-117.3 0.6 14.9 0.6 103.7 0.5-92.2 0.6-7.7 0.6 103 0.6-143.4 0.5-13.5 0.6 57.6 0.6 39.5 0.6 59.6 0.5-15.7 0.6-140.7 0.6 123.6 0.5 17.3 0.6-102.3 0.6 83 0.6-98 0.5 23 0.6 109.9 0.6-140.9 0.6-13.5 0.5 7 0.6 144.7 0.6-141.8 0.5-11.6 0.6 19.6 0.6 136.6 0.6-129 0.5-27.5 0.6 26.3 0.6 130.2 0.6-145.3 0.5-1 0.6-9.8 0.6 85.8 0.5-24.6 0.6 93.9 0.6 0.9 0.6-42.9 0.5-104.6 0.6 94.3 0.6 51.8 0.6-7.3 0.5-108 0.6 59.5 0.6-97.3 0.5 37.4 0.6-26.1 0.6 29.9 0.6 82.7 0.5-18.6 0.6-67.6 0.6 22.8 0.6 91.3 0.5-134.2 0.6 137 0.6-57.4 0.6-10.3 0.5 60.5 0.6-80.3 0.6 25 0.5-93.2 0.6 37.8 0.6-13.4 0.6-17.9 0.5 144.2 0.6-151.4 0.6 110 0.6 42.8 0.5-5 0.6-75.9 0.6-55.3 0.5 122.2 0.6-53.2 0.6-77.4 0.6-6.5 0.5 30.3 0.6 112.7 0.6-100.5 0.6 89.5 0.5-125.7 0.6 1.7 0.6 4.2 0.5-13.4 0.6 96.6 0.6 9.9 0.6-40.7 0.5-51.2 0.6 86 0.6 27.3 0.6-29.2 0.5-85.6 0.6 53.5 0.6 44.5 0.5-30.4 0.6-79 0.6 59.9 0.6 26.3 0.5-32.6 0.6-55.8 0.6 95.6 0.6 3 0.5-23.2 0.6-60 0.6 103.7 0.5 34.9 0.6 1.1 0.6-22.8 0.6-95 0.5-4.3 0.6 114.6 0.6-131.7 0.6 67.6 0.5 72.1 0.6-45.9 0.6-27.8 0.6 20.4 0.5 49 0.6-41.2 0.6-110 0.5 153.3 0.6-153.7 0.6 138.2 0.6-21.8 0.5-87.2 0.6-26.1 0.6-0.7 0.6 20.7 0.5 79.5 0.6 48.2 0.6-139.4 0.5 112.4 0.6-99.5 0.6 131.7 0.6-116.4 0.5-34.7 0.6 49.9 0.6 30.4 0.6-9 0.5-45 0.6-30.1 0.6 94.2 0.5 40.9 0.6-135.3 0.6 155.6 0.6-148.5 0.5 90.3 0.6 48.2 0.6-92.8 0.6-49.6 0.5-3.7 0.6 0.3 0.6 1.7 0.5 41.1 0.6 92.4 0.6-12.9 0.6-123.2 0.5 141.8 0.6-117.6 0.6 120.3 0.6-144.4 0.5 113 0.6 30.7 0.6-90.1 0.5-49.4 0.6-2.9 0.6 3.1 0.6-4.1 0.5 9 0.6 61.5 0.6 82 0.6-60 0.5-89.1 0.6 146.8 0.6-128.7 0.5 112.3 0.6-126.4 0.6 147.2 0.6-102.3 0.5-40.9 0.6 100.6 0.6 44.5 0.6-24.6 0.5-32.8 0.6-12.8 0.6 11.6 0.6 31.9 0.5 26.5 0.6-35.9 0.6-99.4 0.5 9.9 0.6 123.5 0.6-111.9 0.6 27.3 0.5 38.2 0.6-60 0.6 38.7 0.6 25.6 0.5-109.7 0.6 128.2 0.6-5.3 0.5-105.9 0.6-10.8 0.6 59.5 0.6 52.3 0.5 23.9 0.6 6.5 0.6-2.2 0.6-14.4 0.5-38.4 0.6-61.3 0.6-34.9 0.5 62.7 0.6 91.9 0.6-74.1 0.6-74.3 0.5 141.1 0.6-99.7 0.6 27.1 0.6 24.4 0.5-41.7 0.6 24.8 0.6 25.7 0.5-97.3 0.6 141.8 0.6-86.5 0.6-58.6 0.5 110 0.6 33.5 0.6-77.4 0.6-65.1 0.5-3.2 0.6 31.7 0.6 32.9 0.5 20 0.6 5 0.6-9.7 0.6-24.3 0.5-34.4 0.6-25.5 0.6 17.2 0.6 73.3 0.5 64.1 0.6-49.8 0.6-100.9 0.6 59.3 0.5 91.7 0.6-126.6 0.6 32.5 0.5 79.9 0.6-141.5 0.6 152.7 0.6-141.1 0.5 129.9 0.6-130.1 0.6 141.5 0.6-152.9 0.5 141.9 0.6-82.9 0.6-25.1 0.5 122.8 0.6-109.1 0.6-30.2 0.6 118.3 0.5-3.7 0.6-102.5 0.6-24.1 0.6 69.6 0.5 67.9 0.6 11 0.6-33.8 0.5-45.3 0.6-35.4 0.6-20.7 0.6-9.6 0.5-2.9 0.6 1.3 0.6 6.5 0.6 15.5 0.5 28.7 0.6 41.3 0.6 41.6 0.5 15 0.6-36.7 0.6-75.7 0.6-43.9 0.5 53.3 0.6 92.2 0.6-19.2 0.6-110.2 0.5 22 0.6 114.9 0.6-75.3 0.5-70.1 0.6 136.3 0.6-70.3 0.6-49.3 0.5 132.3 0.6-146 0.6 107.3 0.6-47.9 0.5-8.1 0.6 49.6 0.6-74.8 0.6 85.5 0.5-83.3 0.6 68 0.6-37.9 0.5-7.8 0.6 65 0.6-120.2 0.6 149.1 0.5-124.5 0.6 37.6 0.6 76.5 0.6-138.8 0.5 83.2 0.6 55 0.6-129.1 0.5 36.6 0.6 104.5 0.6-75 0.6-81.1 0.5 75.6 0.6 80.4 0.6-50.5 0.6-90.7 0.5-1.2 0.6 78.5 0.6 60.8 0.5-13.3 0.6-63.8 0.6-58.3 0.6-17.1 0.5 24.2 0.6 45 0.6 43.8 0.6 29.6 0.5 12.9 0.6-0.6 0.6-8.3 0.5-11 0.6-10 0.6-7.1 0.6-3.1 0.5 1.2 0.6 5.4 0.6 8.8 0.6 10.7 0.5 9.9 0.6 5.1 0.6-4.5 0.5-18.5 0.6-33.5 0.6-43.3 0.6-39.7 0.5-17.4 0.6 19.5 0.6 53.8 0.6 60 0.5 23.3 0.6-38.6 0.6-75.2 0.5-42.8 0.6 40 0.6 85.6 0.6 28.3 0.5-73 0.6-77.6 0.6 37.1 0.6 99.6 0.5-6.1 0.6-107.2 0.6-8.2 0.6 112.2 0.5 2.2 0.6-117.1 0.6 26.4 0.5 112 0.6-74.9 0.6-76.1 0.6 121.9 0.5-5.9 0.6-118.7 0.6 105.6 0.6 22.5 0.5-127.9 0.6 112.9 0.6 0.1 0.5-111.9 0.6 139.9 0.6-73.3 0.6-36.9 0.5 123.9 0.6-146 0.6 101.2 0.6-16.9 0.5-70.1 0.6 130.8 0.6-152 0.5 135.1 0.6-90.9 0.6 33.4 0.6 24.9 0.5-75.2 0.6 113.2 0.6-138.2 0.6 151.7 0.5-156.3 0.6 154.8 0.6-150.1 0.5 144.5 0.6-139.5 0.6 136.1 0.6-135 0.5 136.4 0.6-140 0.6 145.1 0.6-150.6 0.5 155 0.6-156.2 0.6 151.9 0.5-139.7 0.6 117.3 0.6-83.4 0.6 38.7 0.5 13.9 0.6-68.5 0.6 116.3 0.6-147 0.5 150.7 0.6-121.8 0.6 62.1 0.6 16.6 0.5-93.2 0.6 142.4 0.6-143.3 0.5 90.1 0.6 1.2 0.6-94.1 0.6 144.8 0.5-124.1 0.6 37.1 0.6 72.2 0.6-139.8 0.5 120.1 0.6-20.5 0.6-94.4 0.5 141.1 0.6-80 0.6-45.5 0.6 133.5 0.5-105.5 0.6-18.2 0.6 124.9 0.6-109.6 0.5-16.7 0.6 125.4 0.6-97.9 0.5-39.2 0.6 130.5 0.6-66 0.6-79.1 0.5 123.6 0.6-7.5 0.6-117.8 0.6 81 0.5 69.2 0.6-118.7 0.6-6.9 0.5 120.9 0.6-47.5 0.6-99.9 0.6 84.9 0.5 69.4 0.6-105.7 0.6-39 0.6 114 0.5 14.2 0.6-115 0.6 3 0.5 113.1 0.6-12.6 0.6-110.7 0.6 14.8 0.5 109.1 0.6-10.3 0.6-108.1 0.6-0.5 0.5 106.2 0.6 17.3 0.6-101.2 0.6-38.7 0.5 89.9 0.6 62.4 0.6-69.6 0.5-84 0.6 38.8 0.6 97.1 0.6 1.2 0.5-94.7 0.6-44.3 0.6 71.5 0.6 79.6 0.5-27.9 0.6-93.4 0.6-26.7 0.5 75.5 0.6 73.2 0.6-26.6 0.6-89.4 0.5-35.8 0.6 62 0.6 80.5 0.6 0.2 0.5-78.6 0.6-62.8 0.6 25.5 0.5 82.9 0.6 45.9 0.6-40.8 0.6-81.4 0.5-34.4 0.6 47.5 0.6 78.7 0.6 29.7 0.5-47.6 0.6-76.7 0.6-31.7 0.5 42.2 0.6 75.2 0.6 39.2 0.6-31 0.5-72.3 0.6-50.4 0.6 13.7 0.6 64.9 0.5 61.8 0.6 9.2 0.6-49.4 0.5-68.3 0.6-34.8 0.6 24 0.6 63.6 0.5 56.4 0.6 9.5 0.6-42.9 0.6-64.8 0.5-42.5 0.6 7.2 0.6 51.1 0.5 61.2 0.6 33 0.6-14.9 0.6-52.5 0.5-58.2 0.6-29.8 0.6 14.9 0.6 50.2 0.5 56.7 0.6 32.6 0.6-8.4 0.6-44 0.5-56 0.6-39.5 0.6-3.9 0.5 32.8 0.6 52.8 0.6 47.6 0.6 20.5 0.5-15.2 0.6-43.2 0.6-51.6 0.6-37.7 0.5-8.1 0.6 23.9 0.6 45.6 0.5 48.3 0.6 32.1 0.6 3.8 0.6-25.2 0.5-44 0.6-46.3 0.6-31.8 0.6-6.9 0.5 13.5 0.6 27.7 0.6 35.5 0.5 35.5 0.6 27.9 0.6 14.7 0.6-1.1 0.5-16.4 0.6-28 0.6-34 0.6-33.3 0.5-26.2 0.6-14.5 0.6-0.3 0.5 13.6 0.6 24.7 0.6 31.4 0.6 32.4 0.5 27.8 0.6 18.7 0.6 6.7 0.6-6 0.5-17.6 0.6-26 0.6-30.1 0.5-29.7 0.6-24.9 0.6-16.5 0.6-6.1 0.5 4.7 0.6 14.5 0.6 22 0.6 26.5 0.5 27.7 0.6 25.6 0.6 20.3 0.6 12.5 0.5 2.9 0.6-7.3 0.6-16.9 0.5-24.1 0.6-28 0.6-28 0.6-24.4 0.5-17.7 0.6-9.2 0.6-0.1 0.6 8.1 0.5 15 0.6 20 0.6 22.8 0.5 23.4 0.6 22.2 0.6 19.1 0.6 14.4 0.5 8.7 0.6 2.1 0.6-4.6 0.6-10.8 0.5-16 0.6-19.8 0.6-21.9 0.5-22.2 0.6-20.7 0.6-17.7 0.6-13.3 0.5-7.8 0.6-1.9 0.6 4.2 0.6 9.9 0.5 15 0.6 18.6 0.6 20.9 0.5 21.6 0.6 20.4 0.6 18 0.6 14.1 0.5 9.5 0.6 4.4 0.6-0.9 0.6-5.7 0.5-10 0.6-13.4 0.6-16 0.5-17.7 0.6-18.3 0.6-18.1 0.6-16.9 0.5-14.8 0.6-12 0.6-8.3 0.6-4.2 0.5 0.3 0.6 5.1 0.6 9.5 0.6 13.3 0.5 16.4 0.6 18.4 0.6 19.2 0.5 18.9 0.6 17.4 0.6 14.9 0.6 11.6 0.5 7.8 0.6 3.5 0.6-0.6 0.6-4.6 0.5-8.1 0.6-11.2 0.6-13.4 0.5-15.2 0.6-16.3 0.6-16.6 0.6-16.2 0.5-15.2 0.6-13.5 0.6-11.2 0.6-8.3 0.5-5 0.6-1.3 0.6 2.6 0.5 6.5 0.6 9.8 0.6 12.9 0.6 15.1 0.5 16.7 0.6 17.4 0.6 17.2 0.6 16.3 0.5 14.4 0.6 12 0.6 8.9 0.5 5.4 0.6 1.7 0.6-1.9 0.6-5.6 0.5-8.8 0.6-11.7 0.6-13.9 0.6-15.6 0.5-16.4 0.6-16.7 0.6-16.1 0.5-14.8 0.6-12.9 0.6-10.4 0.6-7.4 0.5-4 0.6-0.5 0.6 3.2 0.6 6.9 0.5 10.3 0.6 13.3 0.6 15.8 0.5 17.3 0.6 18.1 0.6 17.7 0.6 16.5 0.5 14.3 0.6 11.4 0.6 7.8 0.6 3.8 0.5-0.4 0.6-4.4 0.6-8.6 0.6-12.1 0.5-15.2 0.6-17.4 0.6-18.7 0.5-18.8 0.6-17.9 0.6-15.8 0.6-12.9 0.5-9.1 0.6-4.7 0.6-0.1 0.6 4.8 0.5 9.5 0.6 13.7 0.6 17.1 0.5 19.5 0.6 20.5 0.6 19.9 0.6 18.1 0.5 15 0.6 10.9 0.6 6.1 0.6 1.2 0.5-3.7 0.6-8.3 0.6-12.1 0.5-15.2 0.6-17.5 0.6-18.8 0.6-18.9 0.5-18.1 0.6-16.1 0.6-13.2 0.6-9.5 0.5-4.9 0.6 0.2 0.6 5.4 0.5 10.6 0.6 15.3 0.6 18.9 0.6 21.1 0.5 21.9 0.6 20.8 0.6 18.1 0.6 13.7 0.5 8.3 0.6 2 0.6-4.4 0.5-11 0.6-16.6 0.6-21 0.6-23.5 0.5-23.7 0.6-21.6 0.6-17.5 0.6-11.9 0.5-5.4 0.6 1.4 0.6 7.7 0.6 13.3 0.5 17.7 0.6 20.7 0.6 22 0.5 21.7 0.6 19.6 0.6 16.1 0.6 11.1 0.5 5.2 0.6-1.4 0.6-7.9 0.6-13.6 0.5-18.4 0.6-21.6 0.6-23.1 0.5-22.7 0.6-20.2 0.6-15.8 0.6-9.7 0.5-2.1 0.6 6.3 0.6 14.9 0.6 22.4 0.5 27.2 0.6 28.6" stroke="#ffcc9f" stroke-width="6.3" stroke-linecap="square"/><path d="M1593.2 379.6l0.6 5.2 0.5 55.2 0.6-17.5 0.6 16.8 0.6-38.4 0.5 14.7 0.6-34.1 0.6 154.7 0.6-1 0.5-140.1 0.6 45.4 0.6-27.4 0.5-33.4 0.6 139.3 0.6-40.3 0.6-13 0.5 2.1 0.6 11.7 0.6 51.9 0.6-102.4 0.5 103.6 0.6 1.9 0.6-119.8 0.5 115 0.6-15.2 0.6-135.2 0.6 111.6 0.5 10 0.6-110.7 0.6 140.6 0.6-87.2 0.5 11.5 0.6 81.1 0.6-155.6 0.6 124.1 0.5 31 0.6-7.5 0.6-92.7 0.5-12.4 0.6 56.4 0.6 31.5 0.6-97 0.5-30 0.6 0.3 0.6 26.9 0.6 80.1 0.5 39.3 0.6-122.4 0.6 27.3 0.5 89.3 0.6-145.5 0.6 147.7 0.6-116.9 0.5 63.2 0.6 10.7 0.6-93.5 0.6 140.8 0.5-77 0.6-74.6 0.6 61.8 0.5 60 0.6 16.9 0.6-15.8 0.6-67.2 0.5-52.7 0.6 142.7 0.6-133.7 0.6 142.3 0.5-47.3 0.6-36.8 0.6 40.5 0.5 38.1 0.6-149.2 0.6 136.6 0.6 12.1 0.5 2.2 0.6-29.3 0.6-108.1 0.6 61.1 0.5 48.4 0.6-64.3 0.6-15.7 0.5 3.7 0.6 46.3 0.6-76.6 0.6 107.3 0.5-112.7 0.6 8.8 0.6 132.5 0.6-142.4 0.5-8.5 0.6 101.2 0.6-86.6 0.6 26.2 0.5-28.1 0.6 81.6 0.6 13.5 0.5-108.8 0.6 95.4 0.6-34.5 0.6 9.4 0.5-63.5 0.6 93.1 0.6-90.2 0.6-5.6 0.5 131.8 0.6-65.9 0.6 86.5 0.5-99.6 0.6 63 0.6-108.3 0.6-3.7 0.5 130.9 0.6-31.4 0.6-1.1 0.6 48 0.5-124.7 0.6 94.5 0.6-116.3 0.5 99.3 0.6-102.9 0.6 99.1 0.6-100.3 0.5 92.3 0.6-95.6 0.6 63.4 0.6-50.3 0.5-6.5 0.6 98.3 0.6-45 0.5 60.4 0.6 2.7 0.6-70.3 0.6 47.4 0.5-96.6 0.6 37.4 0.6-38.4 0.6 108.1 0.5-30.8 0.6-10.7 0.6-44.3 0.5 126.7 0.6-115.8 0.6 57 0.6-38.1 0.5 41.6 0.6-95.8 0.6 96.6 0.6-37.1 0.5 15.1 0.6-66.8 0.6 83.4 0.5-58.5 0.6 29 0.6-52.7 0.6 77.4 0.5-3.5 0.6-69.3 0.6 39.8 0.6-20.6 0.5 37.2 0.6-67.7 0.6-2.6 0.6 141 0.5-123.5 0.6 12.1 0.6 127.1 0.5-116.7 0.6-6.5 0.6 119.1 0.6-149 0.5-0.8 0.6 34.6 0.6 79.5 0.6 38.3 0.5-4 0.6-146.3 0.6 133.9 0.5 12.3 0.6-93.7 0.6 46.3 0.6-92.5 0.5 18.6 0.6 125.6 0.6-149.4 0.6 3.1 0.5-6.8 0.6 144.4 0.6-142.7 0.5 1.1 0.6 4.4 0.6 145.7 0.6-139.7 0.5-15.2 0.6 14.4 0.6 139.3 0.6-150 0.5 16.4 0.6-15.6 0.6 64.9 0.5 8.5 0.6 78.5 0.6-2.7 0.6-26.8 0.5-124.1 0.6 114.5 0.6 39.1 0.6-3.1 0.5-99.8 0.6 30.8 0.6-77.6 0.5 45.9 0.6-30.2 0.6 8.3 0.6 105.5 0.5-42.7 0.6-65.6 0.6 21.1 0.6 99.8 0.5-119.5 0.6 125.7 0.6-69.1 0.6-10.4 0.5 67.2 0.6-60.9 0.6-0.6 0.5-77.3 0.6 45.9 0.6-14.9 0.6-32.2 0.5 143.5 0.6-143.8 0.6 118.1 0.6 35 0.5-3.2 0.6-68.8 0.6-73.4 0.5 135.2 0.6-70.9 0.6-70.6 0.6-4 0.5 23.8 0.6 114.8 0.6-84.3 0.6 71.7 0.5-121.9 0.6 11.6 0.6 4.9 0.5-20.9 0.6 87.7 0.6 28.8 0.6-59.3 0.5-35.2 0.6 88.7 0.6 25.1 0.6-27.1 0.5-88.8 0.6 38.5 0.6 61.8 0.5-47.6 0.6-67.1 0.6 65.9 0.6 26.2 0.5-32.8 0.6-62.9 0.6 85.8 0.6 19.5 0.5-39.7 0.6-46.2 0.6 105.1 0.5 29.7 0.6 0.6 0.6-18.5 0.6-93.5 0.5-17.4 0.6 124.1 0.6-139.4 0.6 79.6 0.5 63 0.6-51.4 0.6-28.2 0.6 20.8 0.5 53.1 0.6-31.9 0.6-117 0.5 151.7 0.6-150.6 0.6 141.5 0.6-32.1 0.5-86.2 0.6-22.7 0.6-0.5 0.6 17.8 0.5 77.6 0.6 56.7 0.6-138.1 0.5 103.7 0.6-89.6 0.6 125.9 0.6-120.4 0.5-27.2 0.6 53.3 0.6 30.5 0.6-9 0.5-46.1 0.6-35.8 0.6 89.6 0.5 50 0.6-139.6 0.6 156.5 0.6-150.9 0.5 97.7 0.6 40.2 0.6-95 0.6-46.1 0.5-1.3 0.6 0.4 0.6-0.5 0.5 37.8 0.6 93.4 0.6-5.5 0.6-126.7 0.5 138.4 0.6-111.1 0.6 114.1 0.6-141.8 0.5 117.2 0.6 24 0.6-91.8 0.5-46.5 0.6-0.5 0.6 3.7 0.6-5.1 0.5 6.5 0.6 59.1 0.6 84.8 0.6-54.4 0.5-94.4 0.6 146.3 0.6-124 0.5 106.3 0.6-121.6 0.6 146.2 0.6-106.8 0.5-35 0.6 101.8 0.6 41 0.6-27.4 0.5-33.6 0.6-12.8 0.6 11.8 0.6 32.6 0.5 28.9 0.6-32.6 0.6-99.8 0.5 4.6 0.6 125.4 0.6-107.9 0.6 20.8 0.5 44.7 0.6-66.1 0.6 45 0.6 19.3 0.5-105.7 0.6 129.5 0.6-10.2 0.5-105.3 0.6-7.3 0.6 61.1 0.6 51.7 0.5 23 0.6 5.9 0.6-2 0.6-13.6 0.5-37.6 0.6-61.7 0.6-37.5 0.5 60.2 0.6 94 0.6-70.7 0.6-78.2 0.5 140.9 0.6-96 0.6 22 0.6 29.6 0.5-46.7 0.6 29.8 0.6 20.8 0.5-93.6 0.6 141.3 0.6-89.8 0.6-55 0.5 110.9 0.6 30.5 0.6-78.7 0.6-63.9 0.5-1.3 0.6 32.8 0.6 33.3 0.5 20 0.6 4.9 0.6-9.7 0.6-24.4 0.5-34.9 0.6-26.7 0.6 15.5 0.6 72.6 0.5 65.7 0.6-47.4 0.6-102.2 0.6 56.6 0.5 94 0.6-125.3 0.6 29 0.5 82.9 0.6-142.8 0.6 152.3 0.6-139.5 0.5 127.8 0.6-128.1 0.6 140.1 0.6-152.5 0.5 143 0.6-85.6 0.6-21.9 0.5 121.3 0.6-110.7 0.6-27.5 0.6 118.3 0.5-6 0.6-102.6 0.6-22.1 0.6 70.5 0.5 67.2 0.6 9.7 0.6-34.8 0.5-45.4 0.6-35.2 0.6-20.4 0.6-9.3 0.5-2.8 0.6 1.2 0.6 6.4 0.6 15.2 0.5 28.4 0.6 41.3 0.6 42.1 0.5 16.1 0.6-35.8 0.6-75.6 0.6-45.1 0.5 52 0.6 92.8 0.6-17.5 0.6-110.4 0.5 20.1 0.6 115.6 0.6-73.7 0.5-71.8 0.6 136.1 0.6-68.3 0.6-51.4 0.5 133.2 0.6-145.5 0.6 105.6 0.6-45.6 0.5-10.4 0.6 51.7 0.6-76.8 0.6 87.5 0.5-85.2 0.6 69.9 0.6-40 0.5-5.6 0.6 63 0.6-118.9 0.6 148.9 0.5-125.5 0.6 39.4 0.6 74.9 0.6-138.6 0.5 84.6 0.6 53.4 0.6-129.1 0.5 38.1 0.6 103.7 0.6-76.1 0.6-80.1 0.5 76.5 0.6 79.6 0.6-51.5 0.6-90.4 0.5-0.1 0.6 78.9 0.6 60.2 0.5-14.1 0.6-64.1 0.6-58 0.6-16.6 0.5 24.8 0.6 45.2 0.6 43.7 0.6 29.4 0.5 12.5 0.6-0.8 0.6-8.6 0.5-11.1 0.6-10.1 0.6-7.2 0.6-3.1 0.5 1.3 0.6 5.4 0.6 8.9 0.6 10.8 0.5 10 0.6 5.4 0.6-4.3 0.5-18.2 0.6-33.3 0.6-43.3 0.6-40 0.5-17.8 0.6 19.1 0.6 53.6 0.6 60.1 0.5 23.9 0.6-38.1 0.6-75.3 0.5-43.2 0.6 39.4 0.6 85.6 0.6 28.9 0.5-72.5 0.6-78 0.6 36.4 0.6 99.8 0.5-5.4 0.6-107.2 0.6-9 0.6 112.2 0.5 3 0.6-117.2 0.6 25.6 0.5 112.3 0.6-74.2 0.6-76.7 0.6 121.6 0.5-5 0.6-119.2 0.6 105.1 0.6 23.4 0.5-128.3 0.6 112.5 0.6 0.9 0.5-112.4 0.6 139.8 0.6-72.6 0.6-37.8 0.5 124.4 0.6-145.9 0.6 100.6 0.6-16.1 0.5-70.9 0.6 131.3 0.6-152 0.5 134.7 0.6-90.2 0.6 32.5 0.6 25.8 0.5-76 0.6 113.9 0.6-138.7 0.6 151.9 0.5-156.2 0.6 154.6 0.6-149.9 0.5 144.2 0.6-139.1 0.6 135.7 0.6-134.6 0.5 136 0.6-139.6 0.6 144.8 0.6-150.4 0.5 154.9 0.6-156.3 0.6 152.1 0.5-140 0.6 117.7 0.6-84 0.6 39.4 0.5 13.2 0.6-67.9 0.6 115.9 0.6-146.7 0.5 150.7 0.6-122.1 0.6 62.7 0.6 15.9 0.5-92.7 0.6 142.2 0.6-143.5 0.5 90.6 0.6 0.6 0.6-93.6 0.6 144.6 0.5-124.3 0.6 37.5 0.6 71.8 0.6-139.7 0.5 120.4 0.6-21 0.6-94 0.5 141.1 0.6-80.4 0.6-45 0.6 133.4 0.5-105.8 0.6-17.8 0.6 124.8 0.6-109.9 0.5-16.3 0.6 125.2 0.6-98.1 0.5-38.8 0.6 130.4 0.6-66.3 0.6-78.8 0.5 123.7 0.6-7.9 0.6-117.7 0.6 81.4 0.5 68.8 0.6-118.8 0.6-6.6 0.5 120.9 0.6-47.8 0.6-99.8 0.6 85.3 0.5 69.1 0.6-105.9 0.6-38.7 0.6 114.1 0.5 13.8 0.6-115 0.6 3.4 0.5 113 0.6-12.9 0.6-110.6 0.6 15.1 0.5 109.1 0.6-10.6 0.6-108.1 0.6-0.3 0.5 106.2 0.6 17.1 0.6-101.2 0.6-38.5 0.5 90 0.6 62.2 0.6-69.8 0.5-83.8 0.6 39 0.6 97 0.6 1 0.5-94.7 0.6-44.2 0.6 71.7 0.6 79.4 0.5-28 0.6-93.5 0.6-26.4 0.5 75.6 0.6 73.1 0.6-26.8 0.6-89.4 0.5-35.7 0.6 62.1 0.6 80.5 0.6 0.1 0.5-78.7 0.6-62.8 0.6 25.8 0.5 82.8 0.6 45.8 0.6-40.9 0.6-81.4 0.5-34.2 0.6 47.5 0.6 78.7 0.6 29.6 0.5-47.7 0.6-76.7 0.6-31.6 0.5 42.3 0.6 75.3 0.6 39 0.6-31.1 0.5-72.4 0.6-50.2 0.6 13.8 0.6 64.9 0.5 61.8 0.6 9 0.6-49.4 0.5-68.3 0.6-34.7 0.6 24 0.6 63.7 0.5 56.4 0.6 9.4 0.6-43.1 0.6-64.7 0.5-42.4 0.6 7.3 0.6 51.1 0.5 61.2 0.6 32.9 0.6-14.9 0.6-52.6 0.5-58.2 0.6-29.7 0.6 15 0.6 50.2 0.5 56.7 0.6 32.5 0.6-8.5 0.6-44 0.5-56 0.6-39.5 0.6-3.8 0.5 32.8 0.6 52.9 0.6 47.5 0.6 20.5 0.5-15.3 0.6-43.2 0.6-51.6 0.6-37.6 0.5-8.1 0.6 24 0.6 45.6 0.5 48.3 0.6 32 0.6 3.7 0.6-25.2 0.5-44 0.6-46.3 0.6-31.8 0.6-6.8 0.5 13.5 0.6 27.7 0.6 35.6 0.5 35.4 0.6 27.9 0.6 14.8 0.6-1.2 0.5-16.4 0.6-28.1 0.6-34 0.6-33.2 0.5-26.2 0.6-14.5 0.6-0.3 0.5 13.6 0.6 24.8 0.6 31.4 0.6 32.4 0.5 27.8 0.6 18.7 0.6 6.6 0.6-6.1 0.5-17.5 0.6-26 0.6-30.2 0.5-29.7 0.6-24.8 0.6-16.5 0.6-6.1 0.5 4.7 0.6 14.5 0.6 22 0.6 26.6 0.5 27.7 0.6 25.6 0.6 20.3 0.6 12.4 0.5 2.9 0.6-7.4 0.6-16.8 0.5-24.1 0.6-28 0.6-28.1 0.6-24.4 0.5-17.6 0.6-9.2 0.6-0.1 0.6 8.2 0.5 15 0.6 19.9 0.6 22.8 0.5 23.5 0.6 22.2 0.6 19 0.6 14.5 0.5 8.6 0.6 2.1 0.6-4.6 0.6-10.9 0.5-16 0.6-19.8 0.6-21.8 0.5-22.2 0.6-20.8 0.6-17.6 0.6-13.3 0.5-7.9 0.6-1.8 0.6 4.2 0.6 10 0.5 14.9 0.6 18.7 0.6 20.9 0.5 21.5 0.6 20.5 0.6 17.9 0.6 14.2 0.5 9.4 0.6 4.4 0.6-0.9 0.6-5.7 0.5-10 0.6-13.4 0.6-16 0.5-17.7 0.6-18.4 0.6-18 0.6-16.9 0.5-14.8 0.6-12 0.6-8.3 0.6-4.2 0.5 0.3 0.6 5.1 0.6 9.5 0.6 13.3 0.5 16.4 0.6 18.4 0.6 19.3 0.5 18.9 0.6 17.4 0.6 14.9 0.6 11.6 0.5 7.7 0.6 3.5 0.6-0.6 0.6-4.6 0.5-8.2 0.6-11.1 0.6-13.5 0.5-15.2 0.6-16.2 0.6-16.6 0.6-16.3 0.5-15.1 0.6-13.5 0.6-11.2 0.6-8.3 0.5-5 0.6-1.3 0.6 2.7 0.5 6.4 0.6 9.9 0.6 12.8 0.6 15.2 0.5 16.6 0.6 17.4 0.6 17.3 0.6 16.2 0.5 14.4 0.6 12 0.6 8.9 0.5 5.4 0.6 1.7 0.6-1.9 0.6-5.6 0.5-8.8 0.6-11.7 0.6-13.9 0.6-15.6 0.5-16.5 0.6-16.6 0.6-16.1 0.5-14.8 0.6-12.9 0.6-10.4 0.6-7.4 0.5-4 0.6-0.5 0.6 3.2 0.6 6.9 0.5 10.3 0.6 13.4 0.6 15.7 0.5 17.4 0.6 18 0.6 17.7 0.6 16.5 0.5 14.3 0.6 11.4 0.6 7.8 0.6 3.8 0.5-0.4 0.6-4.5 0.6-8.5 0.6-12.1 0.5-15.2 0.6-17.4 0.6-18.7 0.5-18.8 0.6-17.9 0.6-15.9 0.6-12.8 0.5-9.1 0.6-4.7 0.6-0.1 0.6 4.8 0.5 9.5 0.6 13.7 0.6 17.2 0.5 19.4 0.6 20.5 0.6 19.9 0.6 18.1 0.5 15 0.6 10.9 0.6 6.1 0.6 1.2 0.5-3.8 0.6-8.2 0.6-12.1 0.5-15.2 0.6-17.5 0.6-18.8 0.6-18.9 0.5-18.1 0.6-16.1 0.6-13.3 0.6-9.4 0.5-4.9 0.6 0.2 0.6 5.4 0.5 10.7 0.6 15.2 0.6 18.9 0.6 21.1 0.5 21.9 0.6 20.8 0.6 18.1 0.6 13.7 0.5 8.3 0.6 2 0.6-4.4 0.5-11 0.6-16.6 0.6-21.1 0.6-23.4 0.5-23.7 0.6-21.6 0.6-17.5 0.6-11.9 0.5-5.4 0.6 1.4 0.6 7.7 0.6 13.3 0.5 17.7 0.6 20.7 0.6 22 0.5 21.7 0.6 19.6 0.6 16.1 0.6 11.1 0.5 5.2 0.6-1.4 0.6-7.9 0.6-13.6 0.5-18.4 0.6-21.6 0.6-23.1 0.5-22.7 0.6-20.2 0.6-15.8 0.6-9.7 0.5-2.1 0.6 6.3 0.6 14.9 0.6 22.4 0.5 27.2 0.6 28.6" stroke="#1f77b4" stroke-width="1.7"/></g>
<path clip-path="url(#c02)" d="M106.5 621.4h0M107.1 630.9h0M107.6 621.4h0M108.2 602.8h0M108.8 612.2h0M109.3 602.8h0M109.9 621.4h0M110.5 650.7h0M111.0 612.2h0M111.6 612.2h0M112.2 630.9h0M112.8 630.9h0M113.3 621.4h0M113.9 602.8h0M114.5 621.4h0M115.0 640.7h0M115.6 593.8h0M116.2 612.2h0M116.7 585.1h0M117.3 593.8h0M117.9 585.1h0M118.4 621.4h0M119.0 593.8h0M119.6 630.9h0M120.1 630.9h0M120.7 621.4h0M121.3 567.9h0M121.9 612.2h0M122.4 621.4h0M123.0 621.4h0M123.6 593.8h0M124.1 612.2h0M124.7 602.8h0M125.3 602.8h0M125.8 650.7h0M126.4 602.8h0M127.0 621.4h0M127.5 640.7h0M128.1 612.2h0M128.7 621.4h0M129.2 621.4h0M129.8 621.4h0M130.4 593.8h0M131.0 621.4h0M131.5 650.7h0M132.1 593.8h0M132.7 640.7h0M133.2 621.4h0M133.8 612.2h0M134.4 671.3h0M134.9 640.7h0M135.5 593.8h0M136.1 621.4h0M136.6 630.9h0M137.2 621.4h0M137.8 640.7h0M138.3 621.4h0M138.9 640.7h0M139.5 650.7h0M140.1 602.8h0M140.6 621.4h0M141.2 612.2h0M141.8 621.4h0M142.3 593.8h0M142.9 612.2h0M143.5 621.4h0M144.0 640.7h0M144.6 650.7h0M145.2 593.8h0M145.7 602.8h0M146.3 630.9h0M146.9 576.4h0M147.4 612.2h0M148.0 621.4h0M148.6 650.7h0M149.2 640.7h0M149.7 612.2h0M150.3 612.2h0M150.9 612.2h0M151.4 650.7h0M152.0 612.2h0M152.6 612.2h0M153.1 630.9h0M153.7 621.4h0M154.3 612.2h0M154.8 593.8h0M155.4 621.4h0M156.0 612.2h0M156.5 650.7h0M157.1 630.9h0M157.7 621.4h0M158.2 630.9h0M158.8 612.2h0M159.4 640.7h0M160.0 621.4h0M160.5 630.9h0M161.1 593.8h0M161.7 630.9h0M162.2 585.1h0M162.8 576.4h0M163.4 612.2h0M163.9 602.8h0M164.5 621.4h0M165.1 671.3h0M165.6 602.8h0M166.2 602.8h0M166.8 621.4h0M167.3 630.9h0M167.9 612.2h0M168.5 612.2h0M169.1 630.9h0M169.6 630.9h0M170.2 593.8h0M170.8 621.4h0M171.3 621.4h0M171.9 593.8h0M172.5 621.4h0M173.0 602.8h0M173.6 640.7h0M174.2 621.4h0M174.7 621.4h0M175.3 602.8h0M175.9 621.4h0M176.4 576.4h0M177.0 593.8h0M177.6 630.9h0M178.2 576.4h0M178.7 640.7h0M179.3 585.1h0M179.9 640.7h0M180.4 602.8h0M181.0 640.7h0M181.6 621.4h0M182.1 585.1h0M182.7 650.7h0M183.3 650.7h0M183.8 621.4h0M184.4 612.2h0M185.0 612.2h0M185.5 602.8h0M186.1 640.7h0M186.7 602.8h0M187.3 621.4h0M187.8 602.8h0M188.4 602.8h0M189.0 593.8h0M189.5 650.7h0M190.1 612.2h0M190.7 640.7h0M191.2 621.4h0M191.8 602.8h0M192.4 612.2h0M192.9 602.8h0M193.5 621.4h0M194.1 612.2h0M194.6 612.2h0M195.2 593.8h0M195.8 602.8h0M196.3 650.7h0M196.9 602.8h0M197.5 593.8h0M198.1 621.4h0M198.6 650.7h0M199.2 585.1h0M199.8 612.2h0M200.3 602.8h0M200.9 585.1h0M201.5 630.9h0M202.0 621.4h0M202.6 621.4h0M203.2 602.8h0M203.7 630.9h0M204.3 602.8h0M204.9 612.2h0M205.4 593.8h0M206.0 593.8h0M206.6 650.7h0M207.2 602.8h0M207.7 621.4h0M208.3 621.4h0M208.9 612.2h0M209.4 602.8h0M210.0 630.9h0M210.6 612.2h0M211.1 612.2h0M211.7 621.4h0M212.3 640.7h0M212.8 630.9h0M213.4 621.4h0M214.0 602.8h0M214.5 585.1h0M215.1 640.7h0M215.7 640.7h0M216.3 612.2h0M216.8 630.9h0M217.4 630.9h0M218.0 630.9h0M218.5 640.7h0M219.1 602.8h0M219.7 650.7h0M220.2 593.8h0M220.8 630.9h0M221.4 630.9h0M221.9 640.7h0M222.5 660.8h0M223.1 650.7h0M223.6 593.8h0M224.2 585.1h0M224.8 630.9h0M225.4 593.8h0M225.9 612.2h0M226.5 630.9h0M227.1 585.1h0M227.6 576.4h0M228.2 621.4h0M228.8 621.4h0M229.3 612.2h0M229.9 621.4h0M230.5 593.8h0M231.0 585.1h0M231.6 612.2h0M232.2 593.8h0M232.7 585.1h0M233.3 630.9h0M233.9 612.2h0M234.5 621.4h0M235.0 593.8h0M235.6 602.8h0M236.2 593.8h0M236.7 593.8h0M237.3 621.4h0M237.9 602.8h0M238.4 621.4h0M239.0 621.4h0M239.6 660.8h0M240.1 585.1h0M240.7 630.9h0M241.3 612.2h0M241.8 612.2h0M242.4 585.1h0M243.0 602.8h0M243.5 630.9h0M244.1 612.2h0M244.7 621.4h0M245.3 612.2h0M245.8 640.7h0M246.4 612.2h0M247.0 567.9h0M247.5 602.8h0M248.1 576.4h0M248.7 551.5h0M249.2 602.8h0M249.8 640.7h0M250.4 612.2h0M250.9 593.8h0M251.5 593.8h0M252.1 640.7h0M252.6 621.4h0M253.2 612.2h0M253.8 612.2h0M254.4 612.2h0M254.9 630.9h0M255.5 630.9h0M256.1 621.4h0M256.6 593.8h0M257.2 621.4h0M257.8 602.8h0M258.3 640.7h0M258.9 585.1h0M259.5 612.2h0M260.0 612.2h0M260.6 585.1h0M261.2 650.7h0M261.7 650.7h0M262.3 602.8h0M262.9 630.9h0M263.5 621.4h0M264.0 559.5h0M264.6 621.4h0M265.2 612.2h0M265.7 612.2h0M266.3 593.8h0M266.9 612.2h0M267.4 612.2h0M268.0 640.7h0M268.6 621.4h0M269.1 612.2h0M269.7 650.7h0M270.3 602.8h0M270.8 602.8h0M271.4 576.4h0M272.0 650.7h0M272.6 630.9h0M273.1 630.9h0M273.7 630.9h0M274.3 612.2h0M274.8 621.4h0M275.4 612.2h0M276.0 612.2h0M276.5 612.2h0M277.1 650.7h0M277.7 621.4h0M278.2 612.2h0M278.8 602.8h0M279.4 602.8h0M279.9 650.7h0M280.5 621.4h0M281.1 612.2h0M281.6 602.8h0M282.2 593.8h0M282.8 612.2h0M283.4 630.9h0M283.9 602.8h0M284.5 612.2h0M285.1 612.2h0M285.6 612.2h0M286.2 576.4h0M286.8 612.2h0M287.3 593.8h0M287.9 630.9h0M288.5 593.8h0M289.0 621.4h0M289.6 650.7h0M290.2 602.8h0M290.7 602.8h0M291.3 621.4h0M291.9 612.2h0M292.5 593.8h0M293.0 621.4h0M293.6 660.8h0M294.2 602.8h0M294.7 612.2h0M295.3 593.8h0M295.9 621.4h0M296.4 585.1h0M297.0 585.1h0M297.6 640.7h0M298.1 593.8h0M298.7 640.7h0M299.3 650.7h0M299.8 621.4h0M300.4 621.4h0M301.0 650.7h0M301.6 612.2h0M302.1 602.8h0M302.7 585.1h0M303.3 612.2h0M303.8 640.7h0M304.4 630.9h0M305.0 593.8h0M305.5 593.8h0M306.1 602.8h0M306.7 621.4h0M307.2 602.8h0M307.8 612.2h0M308.4 621.4h0M308.9 602.8h0M309.5 612.2h0M310.1 612.2h0M310.7 612.2h0M311.2 621.4h0M311.8 650.7h0M312.4 621.4h0M312.9 612.2h0M313.5 576.4h0M314.1 621.4h0M314.6 567.9h0M315.2 585.1h0M315.8 630.9h0M316.3 630.9h0M316.9 612.2h0M317.5 576.4h0M318.0 602.8h0M318.6 593.8h0M319.2 621.4h0M319.8 660.8h0M320.3 612.2h0M320.9 593.8h0M321.5 585.1h0M322.0 612.2h0M322.6 602.8h0M323.2 585.1h0M323.7 612.2h0M324.3 585.1h0M324.9 630.9h0M325.4 630.9h0M326.0 630.9h0M326.6 602.8h0M327.1 621.4h0M327.7 612.2h0M328.3 602.8h0M328.8 602.8h0M329.4 585.1h0M330.0 576.4h0M330.6 630.9h0M331.1 602.8h0M331.7 612.2h0M332.3 630.9h0M332.8 576.4h0M333.4 593.8h0M334.0 612.2h0M334.5 621.4h0M335.1 602.8h0M335.7 630.9h0M336.2 612.2h0M336.8 585.1h0M337.4 593.8h0M337.9 630.9h0M338.5 621.4h0M339.1 567.9h0M339.7 640.7h0M340.2 621.4h0M340.8 640.7h0M341.4 602.8h0M341.9 602.8h0M342.5 585.1h0M343.1 671.3h0M343.6 602.8h0M344.2 640.7h0M344.8 593.8h0M345.3 612.2h0M345.9 576.4h0M346.5 602.8h0M347.0 630.9h0M347.6 585.1h0M348.2 630.9h0M348.8 612.2h0M349.3 585.1h0M349.9 602.8h0M350.5 602.8h0M351.0 612.2h0M351.6 593.8h0M352.2 593.8h0M352.7 602.8h0M353.3 585.1h0M353.9 585.1h0M354.4 612.2h0M355.0 630.9h0M355.6 576.4h0M356.1 612.2h0M356.7 593.8h0M357.3 585.1h0M357.9 630.9h0M358.4 593.8h0M359.0 640.7h0M359.6 593.8h0M360.1 621.4h0M360.7 602.8h0M361.3 593.8h0M361.8 621.4h0M362.4 602.8h0M363.0 621.4h0M363.5 602.8h0M364.1 585.1h0M364.7 602.8h0M365.2 612.2h0M365.8 630.9h0M366.4 585.1h0M367.0 602.8h0M367.5 576.4h0M368.1 621.4h0M368.7 585.1h0M369.2 567.9h0M369.8 602.8h0M370.4 630.9h0M370.9 576.4h0M371.5 585.1h0M372.1 593.8h0M372.6 585.1h0M373.2 612.2h0M373.8 593.8h0M374.3 593.8h0M374.9 621.4h0M375.5 593.8h0M376.0 621.4h0M376.6 585.1h0M377.2 585.1h0M377.8 567.9h0M378.3 650.7h0M378.9 602.8h0M379.5 612.2h0M380.0 602.8h0M380.6 612.2h0M381.2 612.2h0M381.7 650.7h0M382.3 585.1h0M382.9 576.4h0M383.4 585.1h0M384.0 576.4h0M384.6 621.4h0M385.1 621.4h0M385.7 585.1h0M386.3 576.4h0M386.9 602.8h0M387.4 640.7h0M388.0 551.5h0M388.6 621.4h0M389.1 585.1h0M389.7 630.9h0M390.3 585.1h0M390.8 602.8h0M391.4 576.4h0M392.0 585.1h0M392.5 640.7h0M393.1 621.4h0M393.7 593.8h0M394.2 585.1h0M394.8 567.9h0M395.4 593.8h0M396.0 602.8h0M396.5 602.8h0M397.1 602.8h0M397.7 585.1h0M398.2 602.8h0M398.8 602.8h0M399.4 630.9h0M399.9 650.7h0M400.5 602.8h0M401.1 593.8h0M401.6 602.8h0M402.2 593.8h0M402.8 593.8h0M403.3 602.8h0M403.9 585.1h0M404.5 621.4h0M405.1 602.8h0M405.6 612.2h0M406.2 602.8h0M406.8 593.8h0M407.3 585.1h0M407.9 602.8h0M408.5 593.8h0M409.0 612.2h0M409.6 602.8h0M410.2 576.4h0M410.7 602.8h0M411.3 576.4h0M411.9 593.8h0M412.4 602.8h0M413.0 567.9h0M413.6 602.8h0M414.1 612.2h0M414.7 602.8h0M415.3 593.8h0M415.9 593.8h0M416.4 585.1h0M417.0 602.8h0M417.6 593.8h0M418.1 602.8h0M418.7 576.4h0M419.3 612.2h0M419.8 612.2h0M420.4 602.8h0M421.0 593.8h0M421.5 612.2h0M422.1 567.9h0M422.7 612.2h0M423.2 612.2h0M423.8 612.2h0M424.4 612.2h0M425.0 593.8h0M425.5 602.8h0M426.1 621.4h0M426.7 612.2h0M427.2 612.2h0M427.8 576.4h0M428.4 612.2h0M428.9 630.9h0M429.5 621.4h0M430.1 612.2h0M430.6 576.4h0M431.2 621.4h0M431.8 602.8h0M432.3 551.5h0M432.9 612.2h0M433.5 576.4h0M434.1 576.4h0M434.6 593.8h0M435.2 630.9h0M435.8 593.8h0M436.3 612.2h0M436.9 640.7h0M437.5 640.7h0M438.0 602.8h0M438.6 602.8h0M439.2 576.4h0M439.7 593.8h0M440.3 612.2h0M440.9 612.2h0M441.4 602.8h0M442.0 621.4h0M442.6 585.1h0M443.2 602.8h0M443.7 621.4h0M444.3 612.2h0M444.9 630.9h0M445.4 612.2h0M446.0 593.8h0M446.6 612.2h0M447.1 585.1h0M447.7 567.9h0M448.3 612.2h0M448.8 602.8h0M449.4 612.2h0M450.0 567.9h0M450.5 593.8h0M451.1 593.8h0M451.7 585.1h0M452.3 559.5h0M452.8 593.8h0M453.4 621.4h0M454.0 612.2h0M454.5 593.8h0M455.1 602.8h0M455.7 621.4h0M456.2 551.5h0M456.8 602.8h0M457.4 612.2h0M457.9 621.4h0M458.5 640.7h0M459.1 630.9h0M459.6 612.2h0M460.2 612.2h0M460.8 621.4h0M461.3 593.8h0M461.9 602.8h0M462.5 621.4h0M463.1 640.7h0M463.6 602.8h0M464.2 602.8h0M464.8 602.8h0M465.3 630.9h0M465.9 602.8h0M466.5 630.9h0M467.0 585.1h0M467.6 602.8h0M468.2 593.8h0M468.7 621.4h0M469.3 621.4h0M469.9 567.9h0M470.4 585.1h0M471.0 612.2h0M471.6 585.1h0M472.2 567.9h0M472.7 621.4h0M473.3 612.2h0M473.9 612.2h0M474.4 593.8h0M475.0 621.4h0M475.6 593.8h0M476.1 621.4h0M476.7 585.1h0M477.3 585.1h0M477.8 602.8h0M478.4 585.1h0M479.0 612.2h0M479.5 602.8h0M480.1 585.1h0M480.7 602.8h0M481.3 593.8h0M481.8 621.4h0M482.4 585.1h0M483.0 593.8h0M483.5 630.9h0M484.1 650.7h0M484.7 640.7h0M485.2 602.8h0M485.8 602.8h0M486.4 630.9h0M486.9 602.8h0M487.5 585.1h0M488.1 602.8h0M488.6 612.2h0M489.2 585.1h0M489.8 567.9h0M490.4 567.9h0M490.9 612.2h0M491.5 585.1h0M492.1 593.8h0M492.6 602.8h0M493.2 612.2h0M493.8 593.8h0M494.3 612.2h0M494.9 585.1h0M495.5 593.8h0M496.0 576.4h0M496.6 621.4h0M497.2 602.8h0M497.7 585.1h0M498.3 593.8h0M498.9 593.8h0M499.5 612.2h0M500.0 567.9h0M500.6 576.4h0M501.2 593.8h0M501.7 660.8h0M502.3 621.4h0M502.9 593.8h0M503.4 612.2h0M504.0 640.7h0M504.6 593.8h0M505.1 593.8h0M505.7 621.4h0M506.3 612.2h0M506.8 612.2h0M507.4 593.8h0M508.0 640.7h0M508.5 640.7h0M509.1 612.2h0M509.7 612.2h0M510.3 559.5h0M510.8 612.2h0M511.4 593.8h0M512.0 612.2h0M512.5 612.2h0M513.1 593.8h0M513.7 567.9h0M514.2 602.8h0M514.8 585.1h0M515.4 593.8h0M515.9 585.1h0M516.5 593.8h0M517.1 551.5h0M517.6 621.4h0M518.2 602.8h0M518.8 621.4h0M519.4 640.7h0M519.9 602.8h0M520.5 559.5h0M521.1 585.1h0M521.6 576.4h0M522.2 585.1h0M522.8 602.8h0M523.3 559.5h0M523.9 602.8h0M524.5 567.9h0M525.0 602.8h0M525.6 593.8h0M526.2 593.8h0M526.7 593.8h0M527.3 585.1h0M527.9 585.1h0M528.5 567.9h0M529.0 593.8h0M529.6 640.7h0M530.2 640.7h0M530.7 630.9h0M531.3 612.2h0M531.9 585.1h0M532.4 630.9h0M533.0 593.8h0M533.6 593.8h0M534.1 593.8h0M534.7 602.8h0M535.3 585.1h0M535.8 593.8h0M536.4 576.4h0M537.0 593.8h0M537.6 650.7h0M538.1 593.8h0M538.7 593.8h0M539.3 612.2h0M539.8 612.2h0M540.4 576.4h0M541.0 593.8h0M541.5 621.4h0M542.1 602.8h0M542.7 602.8h0M543.2 630.9h0M543.8 585.1h0M544.4 602.8h0M544.9 585.1h0M545.5 630.9h0M546.1 559.5h0M546.6 585.1h0M547.2 585.1h0M547.8 612.2h0M548.4 612.2h0M548.9 630.9h0M549.5 567.9h0M550.1 612.2h0M550.6 593.8h0M551.2 585.1h0M551.8 612.2h0M552.3 576.4h0M552.9 559.5h0M553.5 593.8h0M554.0 567.9h0M554.6 585.1h0M555.2 602.8h0M555.7 602.8h0M556.3 630.9h0M556.9 593.8h0M557.5 567.9h0M558.0 585.1h0M558.6 576.4h0M559.2 576.4h0M559.7 602.8h0M560.3 585.1h0M560.9 559.5h0M561.4 612.2h0M562.0 593.8h0M562.6 602.8h0M563.1 602.8h0M563.7 612.2h0M564.3 593.8h0M564.8 621.4h0M565.4 602.8h0M566.0 602.8h0M566.6 602.8h0M567.1 567.9h0M567.7 593.8h0M568.3 593.8h0M568.8 602.8h0M569.4 567.9h0M570.0 630.9h0M570.5 602.8h0M571.1 567.9h0M571.7 559.5h0M572.2 593.8h0M572.8 593.8h0M573.4 585.1h0M573.9 593.8h0M574.5 585.1h0M575.1 612.2h0M575.7 585.1h0M576.2 593.8h0M576.8 612.2h0M577.4 650.7h0M577.9 576.4h0M578.5 585.1h0M579.1 576.4h0M579.6 612.2h0M580.2 576.4h0M580.8 585.1h0M581.3 593.8h0M581.9 576.4h0M582.5 576.4h0M583.0 585.1h0M583.6 551.5h0M584.2 567.9h0M584.8 585.1h0M585.3 602.8h0M585.9 593.8h0M586.5 559.5h0M587.0 585.1h0M587.6 612.2h0M588.2 602.8h0M588.7 593.8h0M589.3 576.4h0M589.9 612.2h0M590.4 585.1h0M591.0 567.9h0M591.6 576.4h0M592.1 621.4h0M592.7 602.8h0M593.3 621.4h0M593.8 585.1h0M594.4 612.2h0M595.0 585.1h0M595.6 593.8h0M596.1 650.7h0M596.7 612.2h0M597.3 585.1h0M597.8 593.8h0M598.4 602.8h0M599.0 621.4h0M599.5 585.1h0M600.1 559.5h0M600.7 585.1h0M601.2 593.8h0M601.8 593.8h0M602.4 621.4h0M602.9 602.8h0M603.5 612.2h0M604.1 576.4h0M604.7 612.2h0M605.2 640.7h0M605.8 612.2h0M606.4 602.8h0M606.9 593.8h0M607.5 630.9h0M608.1 576.4h0M608.6 593.8h0M609.2 602.8h0M609.8 612.2h0M610.3 585.1h0M610.9 602.8h0M611.5 585.1h0M612.0 593.8h0M612.6 593.8h0M613.2 567.9h0M613.8 593.8h0M614.3 612.2h0M614.9 576.4h0M615.5 585.1h0M616.0 612.2h0M616.6 576.4h0M617.2 593.8h0M617.7 576.4h0M618.3 621.4h0M618.9 640.7h0M619.4 640.7h0M620.0 585.1h0M620.6 612.2h0M621.1 593.8h0M621.7 593.8h0M622.3 621.4h0M622.9 567.9h0M623.4 612.2h0M624.0 593.8h0M624.6 621.4h0M625.1 593.8h0M625.7 576.4h0M626.3 602.8h0M626.8 612.2h0M627.4 593.8h0M628.0 602.8h0M628.5 585.1h0M629.1 551.5h0M629.7 612.2h0M630.2 602.8h0M630.8 593.8h0M631.4 593.8h0M631.9 612.2h0M632.5 585.1h0M633.1 576.4h0M633.7 585.1h0M634.2 621.4h0M634.8 567.9h0M635.4 621.4h0M635.9 576.4h0M636.5 567.9h0M637.1 621.4h0M637.6 593.8h0M638.2 567.9h0M638.8 585.1h0M639.3 612.2h0M639.9 621.4h0M640.5 585.1h0M641.0 602.8h0M641.6 602.8h0M642.2 576.4h0M642.8 602.8h0M643.3 593.8h0M643.9 585.1h0M644.5 585.1h0M645.0 593.8h0M645.6 593.8h0M646.2 576.4h0M646.7 585.1h0M647.3 612.2h0M647.9 593.8h0M648.4 612.2h0M649.0 621.4h0M649.6 602.8h0M650.1 640.7h0M650.7 576.4h0M651.3 612.2h0M651.9 585.1h0M652.4 630.9h0M653.0 630.9h0M653.6 551.5h0M654.1 576.4h0M654.7 602.8h0M655.3 612.2h0M655.8 602.8h0M656.4 593.8h0M657.0 602.8h0M657.5 602.8h0M658.1 593.8h0M658.7 612.2h0M659.2 551.5h0M659.8 602.8h0M660.4 567.9h0M661.0 612.2h0M661.5 585.1h0M662.1 576.4h0M662.7 602.8h0M663.2 576.4h0M663.8 576.4h0M664.4 559.5h0M664.9 593.8h0M665.5 602.8h0M666.1 612.2h0M666.6 585.1h0M667.2 612.2h0M667.8 593.8h0M668.3 585.1h0M668.9 602.8h0M669.5 612.2h0M670.1 585.1h0M670.6 585.1h0M671.2 585.1h0M671.8 593.8h0M672.3 576.4h0M672.9 612.2h0M673.5 585.1h0M674.0 602.8h0M674.6 576.4h0" stroke="#2ca02c" stroke-width="2.8" stroke-linecap="round" fill="none"/>
<path clip-path="url(#c12)" d="M856.6 682.9h0M857.2 685.0h0M857.8 684.7h0M858.3 681.5h0M858.9 683.0h0M859.5 682.5h0M860.1 680.0h0M860.6 689.1h0M861.2 682.9h0M861.8 681.5h0M862.4 689.1h0M862.9 689.1h0M863.5 689.1h0M864.1 689.1h0M864.7 679.7h0M865.3 684.5h0M865.8 683.2h0M866.4 682.8h0M867.0 682.3h0M867.6 684.7h0M868.1 682.6h0M868.7 689.1h0M869.3 682.1h0M869.9 682.3h0M870.4 679.8h0M871.0 683.5h0M871.6 681.4h0M872.2 680.6h0M872.7 685.6h0M873.3 681.0h0M873.9 681.9h0M874.5 681.3h0M875.1 683.6h0M875.6 681.9h0M876.2 680.4h0M876.8 689.1h0M877.4 683.4h0M877.9 683.0h0M878.5 683.9h0M879.1 683.5h0M879.7 681.4h0M880.2 682.3h0M880.8 684.3h0M881.4 689.1h0M882.0 682.0h0M882.6 682.6h0M883.1 682.1h0M883.7 689.1h0M884.3 689.1h0M884.9 681.5h0M885.4 689.1h0M886.0 681.2h0M886.6 683.4h0M887.2 681.5h0M887.7 685.4h0M888.3 682.8h0M888.9 689.1h0M889.5 680.9h0M890.1 682.1h0M890.6 682.1h0M891.2 683.4h0M891.8 681.8h0M892.4 682.3h0M892.9 682.2h0M893.5 689.1h0M894.1 683.1h0M894.7 682.5h0M895.2 682.0h0M895.8 681.0h0M896.4 682.4h0M897.0 681.8h0M897.6 682.6h0M898.1 683.9h0M898.7 679.4h0M899.3 679.8h0M899.9 683.8h0M900.4 680.7h0M901.0 684.7h0M901.6 682.4h0M902.2 685.6h0M902.7 682.6h0M903.3 689.1h0M903.9 681.6h0M904.5 682.5h0M905.0 682.3h0M905.6 685.4h0M906.2 689.1h0M906.8 681.3h0M907.4 682.2h0M907.9 683.8h0M908.5 689.1h0M909.1 680.3h0M909.7 683.1h0M910.2 681.1h0M910.8 682.4h0M911.4 681.6h0M912.0 680.0h0M912.5 689.1h0M913.1 689.1h0M913.7 682.0h0M914.3 681.9h0M914.9 682.3h0M915.4 689.1h0M916.0 680.0h0M916.6 681.3h0M917.2 682.7h0M917.7 683.6h0M918.3 683.6h0M918.9 683.9h0M919.5 682.2h0M920.0 683.5h0M920.6 682.7h0M921.2 681.9h0M921.8 681.6h0M922.4 681.2h0M922.9 689.1h0M923.5 683.7h0M924.1 689.1h0M924.7 681.3h0M925.2 682.1h0M925.8 689.1h0M926.4 682.1h0M927.0 680.5h0M927.5 680.5h0M928.1 689.1h0M928.7 682.7h0M929.3 689.1h0M929.9 684.0h0M930.4 681.5h0M931.0 682.8h0M931.6 683.9h0M932.2 683.9h0M932.7 689.1h0M933.3 680.4h0M933.9 689.1h0M934.5 681.9h0M935.0 681.9h0M935.6 684.3h0M936.2 682.7h0M936.8 683.8h0M937.3 679.2h0M937.9 681.8h0M938.5 689.1h0M939.1 684.4h0M939.7 689.1h0M940.2 689.1h0M940.8 689.1h0M941.4 689.1h0M942.0 689.1h0M942.5 689.1h0M943.1 689.1h0M943.7 689.1h0M944.3 689.1h0M944.8 689.1h0M945.4 689.1h0M946.0 689.1h0M946.6 684.4h0M947.2 689.1h0M947.7 689.1h0M948.3 689.1h0M948.9 689.1h0M949.5 689.1h0M950.0 689.1h0M950.6 689.1h0M951.2 689.1h0M951.8 689.1h0M952.3 689.1h0M952.9 689.1h0M953.5 684.4h0M954.1 689.1h0M954.7 689.1h0M955.2 689.1h0M955.8 689.1h0M956.4 689.1h0M957.0 684.4h0M957.5 689.1h0M958.1 689.1h0M958.7 689.1h0M959.3 689.1h0M959.8 689.1h0M960.4 689.1h0M961.0 689.1h0M961.6 689.1h0M962.2 689.1h0M962.7 684.4h0M963.3 689.1h0M963.9 689.1h0M964.5 689.1h0M965.0 689.1h0M965.6 684.4h0M966.2 689.1h0M966.8 689.1h0M967.3 689.1h0M967.9 689.1h0M968.5 689.1h0M969.1 689.1h0M969.6 689.1h0M970.2 689.1h0M970.8 689.1h0M971.4 689.1h0M972.0 689.1h0M972.5 689.1h0M973.1 689.1h0M973.7 689.1h0M974.3 689.1h0M974.8 689.1h0M975.4 684.4h0M976.0 689.1h0M976.6 689.1h0M977.1 689.1h0M977.7 689.1h0M978.3 689.1h0M978.9 689.1h0M979.5 689.1h0M980.0 689.1h0M980.6 689.1h0M981.2 689.1h0M981.8 689.1h0M982.3 689.1h0M982.9 689.1h0M983.5 689.1h0M984.1 689.1h0M984.6 689.1h0M985.2 689.1h0M985.8 689.1h0M986.4 689.1h0M987.0 689.1h0M987.5 689.1h0M988.1 689.1h0M988.7 689.1h0M989.3 689.1h0M989.8 689.1h0M990.4 689.1h0M991.0 689.1h0M991.6 689.1h0M992.1 689.1h0M992.7 689.1h0M993.3 689.1h0M993.9 689.1h0M994.4 689.1h0M995.0 689.1h0M995.6 689.1h0M996.2 689.1h0M996.8 689.1h0M997.3 689.1h0M997.9 689.1h0M998.5 689.1h0M999.1 689.1h0M999.6 689.1h0M1000.2 689.1h0M1000.8 689.1h0M1001.4 689.1h0M1001.9 689.1h0M1002.5 689.1h0M1003.1 689.1h0M1003.7 689.1h0M1004.3 689.1h0M1004.8 689.1h0M1005.4 689.1h0M1006.0 689.1h0M1006.6 689.1h0M1007.1 689.1h0M1007.7 689.1h0M1008.3 689.1h0M1008.9 689.1h0M1009.4 689.1h0M1010.0 689.1h0M1010.6 689.1h0M1011.2 689.1h0M1011.8 689.1h0M1012.3 686.5h0M1012.9 683.9h0M1013.5 686.9h0M1014.1 684.4h0M1014.6 685.7h0M1015.2 685.8h0M1015.8 685.5h0M1016.4 684.9h0M1016.9 683.9h0M1017.5 685.0h0M1018.1 684.0h0M1018.7 682.7h0M1019.3 686.1h0M1019.8 684.6h0M1020.4 685.3h0M1021.0 683.4h0M1021.6 684.9h0M1022.1 684.8h0M1022.7 684.7h0M1023.3 683.6h0M1023.9 682.7h0M1024.4 683.3h0M1025.0 681.9h0M1025.6 682.1h0M1026.2 683.2h0M1026.7 682.4h0M1027.3 682.8h0M1027.9 682.8h0M1028.5 684.0h0M1029.1 683.5h0M1029.6 682.5h0M1030.2 683.2h0M1030.8 681.8h0M1031.4 682.0h0M1031.9 682.7h0M1032.5 681.3h0M1033.1 681.8h0M1033.7 681.0h0M1034.2 681.8h0M1034.8 682.7h0M1035.4 681.1h0M1036.0 681.6h0M1036.6 680.8h0M1037.1 680.5h0M1037.7 680.4h0M1038.3 682.0h0M1038.9 682.5h0M1039.4 681.2h0M1040.0 680.3h0M1040.6 681.2h0M1041.2 680.4h0M1041.7 681.0h0M1042.3 680.6h0M1042.9 680.5h0M1043.5 680.6h0M1044.1 679.7h0M1044.6 679.8h0M1045.2 678.8h0M1045.8 679.5h0M1046.4 678.8h0M1046.9 679.5h0M1047.5 678.9h0M1048.1 679.5h0M1048.7 679.6h0M1049.2 678.3h0M1049.8 678.6h0M1050.4 678.4h0M1051.0 679.5h0M1051.6 680.0h0M1052.1 679.3h0M1052.7 678.4h0M1053.3 679.5h0M1053.9 677.5h0M1054.4 679.4h0M1055.0 677.9h0M1055.6 676.4h0M1056.2 679.8h0M1056.7 679.0h0M1057.3 677.2h0M1057.9 677.9h0M1058.5 677.6h0M1059.0 677.7h0M1059.6 676.6h0M1060.2 677.0h0M1060.8 677.6h0M1061.4 677.4h0M1061.9 677.9h0M1062.5 677.1h0M1063.1 678.5h0M1063.7 676.4h0M1064.2 676.9h0M1064.8 675.4h0M1065.4 675.7h0M1066.0 677.3h0M1066.5 675.7h0M1067.1 676.6h0M1067.7 676.1h0M1068.3 675.4h0M1068.9 675.7h0M1069.4 675.5h0M1070.0 675.5h0M1070.6 676.2h0M1071.2 676.0h0M1071.7 675.1h0M1072.3 674.8h0M1072.9 675.5h0M1073.5 675.1h0M1074.0 675.8h0M1074.6 676.7h0M1075.2 675.5h0M1075.8 674.8h0M1076.4 674.6h0M1076.9 674.1h0M1077.5 673.9h0M1078.1 673.8h0M1078.7 674.1h0M1079.2 674.0h0M1079.8 674.6h0M1080.4 673.8h0M1081.0 673.8h0M1081.5 673.0h0M1082.1 674.8h0M1082.7 674.0h0M1083.3 674.7h0M1083.9 674.0h0M1084.4 674.3h0M1085.0 673.1h0M1085.6 673.6h0M1086.2 674.8h0M1086.7 672.2h0M1087.3 673.6h0M1087.9 673.9h0M1088.5 673.0h0M1089.0 673.1h0M1089.6 673.3h0M1090.2 672.0h0M1090.8 672.6h0M1091.3 671.6h0M1091.9 671.7h0M1092.5 671.6h0M1093.1 671.8h0M1093.7 671.9h0M1094.2 672.0h0M1094.8 670.7h0M1095.4 672.8h0M1096.0 672.2h0M1096.5 671.8h0M1097.1 671.0h0M1097.7 627.8h0M1098.3 620.4h0M1098.8 616.2h0M1099.4 613.2h0M1100.0 611.1h0M1100.6 609.2h0M1101.2 607.5h0M1101.7 606.0h0M1102.3 604.7h0M1102.9 603.4h0M1103.5 602.3h0M1104.0 601.3h0M1104.6 600.4h0M1105.2 599.5h0M1105.8 598.7h0M1106.3 597.9h0M1106.9 597.1h0M1107.5 596.4h0M1108.1 595.7h0M1108.7 595.1h0M1109.2 594.5h0M1109.8 593.9h0M1110.4 593.4h0M1111.0 592.8h0M1111.5 592.3h0M1112.1 591.8h0M1112.7 591.3h0M1113.3 590.9h0M1113.8 590.4h0M1114.4 590.0h0M1115.0 589.6h0M1115.6 589.2h0M1116.1 588.8h0M1116.7 588.4h0M1117.3 588.0h0M1117.9 587.7h0M1118.5 587.3h0M1119.0 587.0h0M1119.6 586.7h0M1120.2 586.4h0M1120.8 586.1h0M1121.3 585.8h0M1121.9 585.5h0M1122.5 585.3h0M1123.1 585.0h0M1123.6 584.7h0M1124.2 584.4h0M1124.8 584.2h0M1125.4 583.9h0M1126.0 583.6h0M1126.5 583.4h0M1127.1 583.1h0M1127.7 582.9h0M1128.3 582.6h0M1128.8 582.4h0M1129.4 582.1h0M1130.0 581.9h0M1130.6 581.7h0M1131.1 581.4h0M1131.7 581.2h0M1132.3 581.0h0M1132.9 580.7h0M1133.5 580.5h0M1134.0 580.3h0M1134.6 580.1h0M1135.2 579.9h0M1135.8 579.7h0M1136.3 579.5h0M1136.9 579.3h0M1137.5 579.1h0M1138.1 578.9h0M1138.6 578.7h0M1139.2 578.5h0M1139.8 578.4h0M1140.4 578.2h0M1141.0 578.0h0M1141.5 577.9h0M1142.1 577.7h0M1142.7 577.5h0M1143.3 577.4h0M1143.8 577.2h0M1144.4 577.1h0M1145.0 576.9h0M1145.6 576.8h0M1146.1 576.7h0M1146.7 576.5h0M1147.3 576.4h0M1147.9 576.3h0M1148.4 576.2h0M1149.0 576.1h0M1149.6 576.0h0M1150.2 575.8h0M1150.8 575.7h0M1151.3 575.6h0M1151.9 575.5h0M1152.5 575.4h0M1153.1 575.3h0M1153.6 575.2h0M1154.2 575.2h0M1154.8 575.1h0M1155.4 575.0h0M1155.9 574.9h0M1156.5 574.8h0M1157.1 574.7h0M1157.7 574.6h0M1158.3 574.6h0M1158.8 574.5h0M1159.4 574.4h0M1160.0 574.3h0M1160.6 574.2h0M1161.1 574.2h0M1161.7 574.1h0M1162.3 574.0h0M1162.9 573.9h0M1163.4 573.9h0M1164.0 573.8h0M1164.6 573.7h0M1165.2 573.6h0M1165.8 573.5h0M1166.3 573.5h0M1166.9 573.4h0M1167.5 573.3h0M1168.1 573.2h0M1168.6 573.2h0M1169.2 573.1h0M1169.8 573.0h0M1170.4 572.9h0M1170.9 572.8h0M1171.5 572.7h0M1172.1 572.6h0M1172.7 572.6h0M1173.3 572.5h0M1173.8 572.4h0M1174.4 572.3h0M1175.0 572.2h0M1175.6 572.1h0M1176.1 572.0h0M1176.7 571.9h0M1177.3 571.8h0M1177.9 571.7h0M1178.4 571.6h0M1179.0 571.5h0M1179.6 571.5h0M1180.2 571.4h0M1180.7 571.3h0M1181.3 571.2h0M1181.9 571.1h0M1182.5 571.0h0M1183.1 570.9h0M1183.6 570.8h0M1184.2 570.8h0M1184.8 570.7h0M1185.4 570.6h0M1185.9 570.5h0M1186.5 570.4h0M1187.1 570.4h0M1187.7 570.3h0M1188.2 570.2h0M1188.8 570.2h0M1189.4 570.1h0M1190.0 570.0h0M1190.6 570.0h0M1191.1 569.9h0M1191.7 569.8h0M1192.3 569.8h0M1192.9 569.7h0M1193.4 569.6h0M1194.0 569.6h0M1194.6 569.5h0M1195.2 569.5h0M1195.7 569.4h0M1196.3 569.3h0M1196.9 569.3h0M1197.5 569.2h0M1198.1 569.1h0M1198.6 569.1h0M1199.2 569.0h0M1199.8 569.0h0M1200.4 568.9h0M1200.9 568.8h0M1201.5 568.8h0M1202.1 568.7h0M1202.7 568.7h0M1203.2 568.6h0M1203.8 568.6h0M1204.4 568.5h0M1205.0 568.5h0M1205.5 568.4h0M1206.1 568.3h0M1206.7 568.3h0M1207.3 568.2h0M1207.9 568.2h0M1208.4 568.1h0M1209.0 568.1h0M1209.6 568.0h0M1210.2 568.0h0M1210.7 568.0h0M1211.3 567.9h0M1211.9 567.9h0M1212.5 567.8h0M1213.0 567.8h0M1213.6 567.7h0M1214.2 567.7h0M1214.8 567.7h0M1215.4 567.6h0M1215.9 567.6h0M1216.5 567.6h0M1217.1 567.5h0M1217.7 567.5h0M1218.2 567.5h0M1218.8 567.4h0M1219.4 567.4h0M1220.0 567.4h0M1220.5 567.4h0M1221.1 567.3h0M1221.7 567.3h0M1222.3 567.3h0M1222.9 567.3h0M1223.4 567.3h0M1224.0 567.2h0M1224.6 567.2h0M1225.2 567.2h0M1225.7 567.2h0M1226.3 567.2h0M1226.9 567.1h0M1227.5 567.1h0M1228.0 567.1h0M1228.6 567.1h0M1229.2 567.1h0M1229.8 567.1h0M1230.4 567.1h0M1230.9 567.0h0M1231.5 567.0h0M1232.1 567.0h0M1232.7 567.0h0M1233.2 567.0h0M1233.8 567.0h0M1234.4 567.0h0M1235.0 567.0h0M1235.5 567.0h0M1236.1 567.0h0M1236.7 567.0h0M1237.3 567.0h0M1237.8 567.0h0M1238.4 567.0h0M1239.0 567.0h0M1239.6 567.0h0M1240.2 567.0h0M1240.7 567.0h0M1241.3 567.0h0M1241.9 567.0h0M1242.5 567.1h0M1243.0 567.1h0M1243.6 567.1h0M1244.2 567.1h0M1244.8 567.1h0M1245.3 567.1h0M1245.9 567.1h0M1246.5 567.1h0M1247.1 567.1h0M1247.7 567.2h0M1248.2 567.2h0M1248.8 567.2h0M1249.4 567.2h0M1250.0 567.2h0M1250.5 567.2h0M1251.1 567.2h0M1251.7 567.3h0M1252.3 567.3h0M1252.8 567.3h0M1253.4 567.3h0M1254.0 567.3h0M1254.6 567.4h0M1255.2 567.4h0M1255.7 567.4h0M1256.3 567.5h0M1256.9 567.5h0M1257.5 567.6h0M1258.0 567.7h0M1258.6 567.7h0M1259.2 567.8h0M1259.8 567.9h0M1260.3 568.0h0M1260.9 568.1h0M1261.5 568.1h0M1262.1 568.2h0M1262.7 568.3h0M1263.2 568.4h0M1263.8 568.5h0M1264.4 568.7h0M1265.0 568.8h0M1265.5 568.9h0M1266.1 569.0h0M1266.7 569.1h0M1267.3 569.2h0M1267.8 569.3h0M1268.4 569.5h0M1269.0 569.6h0M1269.6 569.7h0M1270.1 569.8h0M1270.7 570.0h0M1271.3 570.1h0M1271.9 570.2h0M1272.5 570.4h0M1273.0 570.5h0M1273.6 570.7h0M1274.2 570.8h0M1274.8 571.0h0M1275.3 571.2h0M1275.9 571.4h0M1276.5 571.6h0M1277.1 571.8h0M1277.6 572.0h0M1278.2 572.3h0M1278.8 572.5h0M1279.4 572.7h0M1280.0 573.0h0M1280.5 573.3h0M1281.1 573.6h0M1281.7 573.9h0M1282.3 574.3h0M1282.8 574.8h0M1283.4 575.5h0M1284.0 576.3h0M1284.6 577.2h0M1285.1 578.1h0M1285.7 579.0h0M1286.3 579.9h0M1286.9 580.9h0M1287.5 582.1h0M1288.0 583.4h0M1288.6 584.9h0M1289.2 586.6h0M1289.8 588.8h0M1290.3 592.2h0M1290.9 602.7h0M1291.5 593.7h0M1292.1 589.4h0M1292.6 586.7h0M1293.2 584.6h0M1293.8 582.7h0M1294.4 581.1h0M1295.0 579.6h0M1295.5 578.3h0M1296.1 577.2h0M1296.7 576.3h0M1297.3 575.4h0M1297.8 574.5h0M1298.4 573.7h0M1299.0 572.9h0M1299.6 572.6h0M1300.1 572.2h0M1300.7 571.8h0M1301.3 571.5h0M1301.9 571.1h0M1302.4 570.8h0M1303.0 570.5h0M1303.6 570.2h0M1304.2 569.9h0M1304.8 569.6h0M1305.3 569.3h0M1305.9 569.0h0M1306.5 568.7h0M1307.1 568.5h0M1307.6 568.2h0M1308.2 568.0h0M1308.8 567.8h0M1309.4 567.5h0M1309.9 567.3h0M1310.5 567.1h0M1311.1 566.9h0M1311.7 566.7h0M1312.3 566.6h0M1312.8 566.4h0M1313.4 566.2h0M1314.0 566.0h0M1314.6 565.9h0M1315.1 565.7h0M1315.7 565.6h0M1316.3 565.4h0M1316.9 565.2h0M1317.4 565.1h0M1318.0 564.9h0M1318.6 564.7h0M1319.2 564.6h0M1319.8 564.4h0M1320.3 564.2h0M1320.9 564.0h0M1321.5 563.8h0M1322.1 563.6h0M1322.6 563.4h0M1323.2 563.2h0M1323.8 562.9h0M1324.4 562.7h0M1324.9 562.4h0M1325.5 562.1h0M1326.1 561.8h0M1326.7 561.5h0M1327.2 561.1h0M1327.8 560.8h0M1328.4 560.4h0M1329.0 560.1h0M1329.6 559.7h0M1330.1 559.3h0M1330.7 558.9h0M1331.3 558.6h0M1331.9 558.2h0M1332.4 557.8h0M1333.0 557.5h0M1333.6 557.2h0M1334.2 556.8h0M1334.7 556.5h0M1335.3 556.2h0M1335.9 555.9h0M1336.5 555.6h0M1337.1 555.3h0M1337.6 555.0h0M1338.2 554.7h0M1338.8 554.4h0M1339.4 554.2h0M1339.9 553.9h0M1340.5 553.6h0M1341.1 553.4h0M1341.7 553.1h0M1342.2 552.9h0M1342.8 552.7h0M1343.4 552.6h0M1344.0 552.4h0M1344.6 552.3h0M1345.1 552.2h0M1345.7 552.1h0M1346.3 552.0h0M1346.9 551.9h0M1347.4 551.8h0M1348.0 551.7h0M1348.6 551.7h0M1349.2 551.6h0M1349.7 551.5h0M1350.3 551.5h0M1350.9 551.4h0M1351.5 551.4h0M1352.1 551.3h0M1352.6 551.3h0M1353.2 551.3h0M1353.8 551.3h0M1354.4 551.3h0M1354.9 551.3h0M1355.5 551.3h0M1356.1 551.4h0M1356.7 551.4h0M1357.2 551.4h0M1357.8 551.5h0M1358.4 551.5h0M1359.0 551.5h0M1359.5 551.6h0M1360.1 551.6h0M1360.7 551.7h0M1361.3 551.7h0M1361.9 551.8h0M1362.4 551.8h0M1363.0 551.8h0M1363.6 551.9h0M1364.2 552.0h0M1364.7 552.0h0M1365.3 552.1h0M1365.9 552.1h0M1366.5 552.2h0M1367.0 552.3h0M1367.6 552.4h0M1368.2 552.4h0M1368.8 552.5h0M1369.4 552.6h0M1369.9 552.7h0M1370.5 552.8h0M1371.1 552.9h0M1371.7 553.0h0M1372.2 553.1h0M1372.8 553.2h0M1373.4 553.3h0M1374.0 553.4h0M1374.5 553.5h0M1375.1 553.6h0M1375.7 553.7h0M1376.3 553.8h0M1376.9 553.9h0M1377.4 554.0h0M1378.0 554.1h0M1378.6 554.2h0M1379.2 554.3h0M1379.7 554.4h0M1380.3 554.5h0M1380.9 554.7h0M1381.5 554.8h0M1382.0 554.9h0M1382.6 555.0h0M1383.2 555.1h0M1383.8 555.2h0M1384.4 555.3h0M1384.9 555.5h0M1385.5 555.6h0M1386.1 555.7h0M1386.7 555.8h0M1387.2 555.9h0M1387.8 556.1h0M1388.4 556.2h0M1389.0 556.3h0M1389.5 556.5h0M1390.1 556.6h0M1390.7 556.8h0M1391.3 556.9h0M1391.8 557.0h0M1392.4 557.2h0M1393.0 557.4h0M1393.6 557.5h0M1394.2 557.7h0M1394.7 557.8h0M1395.3 558.0h0M1395.9 558.2h0M1396.5 558.3h0M1397.0 558.5h0M1397.6 558.7h0M1398.2 558.9h0M1398.8 559.1h0M1399.3 559.3h0M1399.9 559.5h0M1400.5 559.7h0M1401.1 560.0h0M1401.7 560.2h0M1402.2 560.5h0M1402.8 560.8h0M1403.4 561.0h0M1404.0 561.3h0M1404.5 561.6h0M1405.1 561.9h0M1405.7 562.2h0M1406.3 562.5h0M1406.8 562.8h0M1407.4 563.2h0M1408.0 563.5h0M1408.6 563.8h0M1409.2 564.1h0M1409.7 564.5h0M1410.3 564.8h0M1410.9 565.5h0M1411.5 566.2h0M1412.0 567.0h0M1412.6 567.9h0M1413.2 568.9h0M1413.8 569.9h0M1414.3 571.1h0M1414.9 572.4h0M1415.5 573.7h0M1416.1 575.3h0M1416.7 577.2h0M1417.2 579.6h0M1417.8 583.7h0M1418.4 593.1h0M1419.0 582.2h0M1419.5 578.8h0M1420.1 576.5h0M1420.7 574.7h0M1421.3 573.2h0M1421.8 571.7h0M1422.4 570.4h0M1423.0 569.2h0M1423.6 568.0h0M1424.1 566.9h0M1424.7 565.9h0M1425.3 565.0h0M1425.9 564.1h0M1426.5 563.5h0M1427.0 563.1h0M1427.6 562.8h0M1428.2 562.4h0M1428.8 562.1h0M1429.3 561.7h0M1429.9 561.4h0M1430.5 561.1h0M1431.1 560.7h0M1431.6 560.4h0M1432.2 560.1h0M1432.8 559.8h0" stroke="#2ca02c" stroke-width="2.8" stroke-linecap="round" fill="none"/>
<path clip-path="url(#c22)" d="M1593.2 682.3h0M1593.8 679.5h0M1594.3 685.2h0M1594.9 682.8h0M1595.5 681.5h0M1596.1 680.2h0M1596.6 683.4h0M1597.2 681.1h0M1597.8 681.1h0M1598.4 680.5h0M1598.9 680.1h0M1599.5 681.5h0M1600.1 681.6h0M1600.6 681.1h0M1601.2 680.3h0M1601.8 683.4h0M1602.4 689.4h0M1602.9 680.6h0M1603.5 683.2h0M1604.1 681.7h0M1604.7 681.5h0M1605.2 684.0h0M1605.8 683.9h0M1606.4 681.1h0M1606.9 682.5h0M1607.5 680.9h0M1608.1 679.6h0M1608.7 682.7h0M1609.2 682.1h0M1609.8 682.5h0M1610.4 684.3h0M1611.0 681.3h0M1611.5 682.2h0M1612.1 681.8h0M1612.7 679.3h0M1613.3 681.4h0M1613.8 679.7h0M1614.4 681.7h0M1615.0 680.3h0M1615.5 680.2h0M1616.1 683.3h0M1616.7 681.1h0M1617.3 681.3h0M1617.8 682.0h0M1618.4 679.0h0M1619.0 680.5h0M1619.6 680.7h0M1620.1 682.1h0M1620.7 681.9h0M1621.3 680.9h0M1621.8 683.8h0M1622.4 681.0h0M1623.0 680.7h0M1623.6 682.1h0M1624.1 680.8h0M1624.7 683.1h0M1625.3 682.0h0M1625.9 680.8h0M1626.4 684.4h0M1627.0 681.1h0M1627.6 681.6h0M1628.1 682.0h0M1628.7 682.0h0M1629.3 682.1h0M1629.9 680.1h0M1630.4 681.7h0M1631.0 679.2h0M1631.6 681.3h0M1632.2 681.5h0M1632.7 682.3h0M1633.3 680.7h0M1633.9 682.0h0M1634.4 681.1h0M1635.0 681.8h0M1635.6 680.6h0M1636.2 682.8h0M1636.7 682.8h0M1637.3 679.8h0M1637.9 681.4h0M1638.5 681.2h0M1639.0 679.3h0M1639.6 680.1h0M1640.2 681.4h0M1640.7 680.2h0M1641.3 681.8h0M1641.9 682.5h0M1642.5 680.9h0M1643.0 682.4h0M1643.6 683.4h0M1644.2 680.9h0M1644.8 683.1h0M1645.3 683.1h0M1645.9 683.4h0M1646.5 681.8h0M1647.1 682.1h0M1647.6 680.8h0M1648.2 682.8h0M1648.8 682.7h0M1649.3 682.2h0M1649.9 681.8h0M1650.5 681.0h0M1651.1 686.5h0M1651.6 681.1h0M1652.2 679.7h0M1652.8 681.6h0M1653.4 680.8h0M1653.9 684.6h0M1654.5 681.1h0M1655.1 680.7h0M1655.6 684.0h0M1656.2 679.9h0M1656.8 683.3h0M1657.4 683.3h0M1657.9 681.7h0M1658.5 680.3h0M1659.1 681.2h0M1659.7 682.1h0M1660.2 682.9h0M1660.8 682.6h0M1661.4 682.4h0M1661.9 681.4h0M1662.5 683.2h0M1663.1 680.7h0M1663.7 681.1h0M1664.2 682.1h0M1664.8 682.8h0M1665.4 682.5h0M1666.0 682.5h0M1666.5 681.3h0M1667.1 683.1h0M1667.7 679.4h0M1668.2 681.1h0M1668.8 680.3h0M1669.4 680.6h0M1670.0 682.5h0M1670.5 682.9h0M1671.1 680.7h0M1671.7 681.9h0M1672.3 684.2h0M1672.8 682.3h0M1673.4 683.7h0M1674.0 683.2h0M1674.5 683.4h0M1675.1 681.6h0M1675.7 682.4h0M1676.3 684.7h0M1676.8 681.1h0M1677.4 680.6h0M1678.0 683.5h0M1678.6 681.3h0M1679.1 682.1h0M1679.7 682.8h0M1680.3 681.6h0M1680.8 681.7h0M1681.4 680.6h0M1682.0 681.9h0M1682.6 680.4h0M1683.1 682.5h0M1683.7 682.2h0M1684.3 683.3h0M1684.9 681.7h0M1685.4 683.3h0M1686.0 683.5h0M1686.6 683.5h0M1687.2 683.0h0M1687.7 682.6h0M1688.3 682.4h0M1688.9 681.5h0M1689.4 682.0h0M1690.0 682.0h0M1690.6 684.6h0M1691.2 680.6h0M1691.7 681.8h0M1692.3 682.4h0M1692.9 680.9h0M1693.5 683.0h0M1694.0 681.3h0M1694.6 682.5h0M1695.2 682.1h0M1695.7 679.4h0M1696.3 682.8h0M1696.9 680.6h0M1697.5 682.5h0M1698.0 683.9h0M1698.6 683.1h0M1699.2 682.1h0M1699.8 682.2h0M1700.3 682.3h0M1700.9 681.9h0M1701.5 681.1h0M1702.0 682.1h0M1702.6 682.1h0M1703.2 684.6h0M1703.8 682.7h0M1704.3 684.8h0M1704.9 682.1h0M1705.5 682.6h0M1706.1 682.2h0M1706.6 681.2h0M1707.2 681.0h0M1707.8 681.8h0M1708.3 683.3h0M1708.9 680.9h0M1709.5 680.6h0M1710.1 682.1h0M1710.6 681.4h0M1711.2 681.3h0M1711.8 684.1h0M1712.4 682.1h0M1712.9 682.8h0M1713.5 682.1h0M1714.1 683.1h0M1714.6 682.1h0M1715.2 688.6h0M1715.8 683.0h0M1716.4 682.1h0M1716.9 683.7h0M1717.5 681.3h0M1718.1 684.0h0M1718.7 680.9h0M1719.2 681.7h0M1719.8 682.3h0M1720.4 680.8h0M1721.0 681.5h0M1721.5 683.1h0M1722.1 681.9h0M1722.7 681.3h0M1723.2 683.1h0M1723.8 682.3h0M1724.4 682.9h0M1725.0 684.0h0M1725.5 682.2h0M1726.1 682.6h0M1726.7 685.6h0M1727.3 687.2h0M1727.8 682.5h0M1728.4 681.3h0M1729.0 682.7h0M1729.5 688.1h0M1730.1 681.7h0M1730.7 680.7h0M1731.3 683.1h0M1731.8 682.3h0M1732.4 681.9h0M1733.0 688.0h0M1733.6 683.7h0M1734.1 680.3h0M1734.7 683.5h0M1735.3 682.7h0M1735.8 681.6h0M1736.4 682.4h0M1737.0 680.5h0M1737.6 684.0h0M1738.1 680.8h0M1738.7 681.6h0M1739.3 683.4h0M1739.9 681.8h0M1740.4 682.6h0M1741.0 682.5h0M1741.6 681.5h0M1742.1 688.5h0M1742.7 684.4h0M1743.3 683.4h0M1743.9 683.0h0M1744.4 682.4h0M1745.0 681.3h0M1745.6 687.8h0M1746.2 683.1h0M1746.7 681.6h0M1747.3 682.0h0M1747.9 681.0h0M1748.4 680.4h0M1749.0 682.5h0M1749.6 681.2h0M1750.2 684.7h0M1750.7 684.3h0M1751.3 682.0h0M1751.9 683.7h0M1752.5 681.3h0M1753.0 683.7h0M1753.6 690.6h0M1754.2 683.1h0M1754.8 685.0h0M1755.3 679.8h0M1755.9 682.3h0M1756.5 682.1h0M1757.0 683.2h0M1757.6 682.4h0M1758.2 683.1h0M1758.8 682.6h0M1759.3 681.4h0M1759.9 680.8h0M1760.5 683.7h0M1761.1 681.6h0M1761.6 683.1h0M1762.2 682.9h0M1762.8 681.9h0M1763.3 680.6h0M1763.9 682.7h0M1764.5 683.9h0M1765.1 679.2h0M1765.6 680.8h0M1766.2 685.5h0M1766.8 682.6h0M1767.4 683.0h0M1767.9 684.1h0M1768.5 684.4h0M1769.1 682.9h0M1769.6 683.4h0M1770.2 681.7h0M1770.8 682.5h0M1771.4 681.0h0M1771.9 683.3h0M1772.5 683.1h0M1773.1 683.2h0M1773.7 683.3h0M1774.2 680.3h0M1774.8 682.3h0M1775.4 688.3h0M1775.9 682.1h0M1776.5 683.2h0M1777.1 684.3h0M1777.7 682.3h0M1778.2 681.7h0M1778.8 682.0h0M1779.4 682.4h0M1780.0 682.3h0M1780.5 682.8h0M1781.1 683.4h0M1781.7 680.7h0M1782.2 680.6h0M1782.8 681.7h0M1783.4 681.9h0M1784.0 690.3h0M1784.5 682.2h0M1785.1 683.7h0M1785.7 681.3h0M1786.3 681.0h0M1786.8 685.7h0M1787.4 683.8h0M1788.0 681.3h0M1788.5 682.4h0M1789.1 685.0h0M1789.7 683.1h0M1790.3 682.0h0M1790.8 683.7h0M1791.4 683.2h0M1792.0 680.2h0M1792.6 685.4h0M1793.1 683.9h0M1793.7 682.5h0M1794.3 682.0h0M1794.9 681.7h0M1795.4 680.4h0M1796.0 682.8h0M1796.6 681.8h0M1797.1 681.3h0M1797.7 681.7h0M1798.3 685.2h0M1798.9 681.9h0M1799.4 684.0h0M1800.0 684.5h0M1800.6 682.8h0M1801.2 683.6h0M1801.7 681.5h0M1802.3 682.3h0M1802.9 682.9h0M1803.4 688.5h0M1804.0 681.6h0M1804.6 685.1h0M1805.2 684.2h0M1805.7 682.7h0M1806.3 681.5h0M1806.9 682.9h0M1807.5 681.5h0M1808.0 682.5h0M1808.6 682.8h0M1809.2 682.9h0M1809.7 682.0h0M1810.3 683.7h0M1810.9 684.3h0M1811.5 682.3h0M1812.0 683.0h0M1812.6 682.2h0M1813.2 689.4h0M1813.8 684.4h0M1814.3 682.1h0M1814.9 681.9h0M1815.5 682.5h0M1816.0 682.4h0M1816.6 689.5h0M1817.2 682.9h0M1817.8 678.4h0M1818.3 680.5h0M1818.9 684.2h0M1819.5 682.4h0M1820.1 682.7h0M1820.6 682.1h0M1821.2 690.3h0M1821.8 684.0h0M1822.3 682.9h0M1822.9 689.7h0M1823.5 683.1h0M1824.1 681.9h0M1824.6 682.5h0M1825.2 684.6h0M1825.8 683.5h0M1826.4 685.7h0M1826.9 683.5h0M1827.5 681.2h0M1828.1 683.4h0M1828.7 689.2h0M1829.2 681.2h0M1829.8 681.1h0M1830.4 684.3h0M1830.9 683.9h0M1831.5 681.8h0M1832.1 682.4h0M1832.7 682.7h0M1833.2 683.6h0M1833.8 683.2h0M1834.4 684.6h0M1835.0 682.4h0M1835.5 684.9h0M1836.1 683.8h0M1836.7 683.1h0M1837.2 683.0h0M1837.8 683.6h0M1838.4 684.0h0M1839.0 682.6h0M1839.5 682.4h0M1840.1 682.6h0M1840.7 682.5h0M1841.3 684.0h0M1841.8 683.8h0M1842.4 681.0h0M1843.0 682.3h0M1843.5 681.5h0M1844.1 682.7h0M1844.7 682.5h0M1845.3 682.1h0M1845.8 683.7h0M1846.4 682.4h0M1847.0 683.2h0M1847.6 682.7h0M1848.1 683.7h0M1848.7 689.9h0M1849.3 682.6h0M1849.8 689.8h0M1850.4 683.1h0M1851.0 684.7h0M1851.6 682.1h0M1852.1 683.2h0M1852.7 689.5h0M1853.3 682.7h0M1853.9 685.4h0M1854.4 683.3h0M1855.0 684.2h0M1855.6 684.3h0M1856.1 683.3h0M1856.7 683.4h0M1857.3 682.1h0M1857.9 682.2h0M1858.4 683.1h0M1859.0 681.0h0M1859.6 684.1h0M1860.2 690.9h0M1860.7 681.6h0M1861.3 683.6h0M1861.9 684.2h0M1862.5 682.4h0M1863.0 682.2h0M1863.6 681.3h0M1864.2 683.8h0M1864.7 683.0h0M1865.3 683.5h0M1865.9 682.1h0M1866.5 683.1h0M1867.0 684.2h0M1867.6 683.1h0M1868.2 683.9h0M1868.8 684.4h0M1869.3 683.3h0M1869.9 690.0h0M1870.5 684.2h0M1871.0 690.3h0M1871.6 684.6h0M1872.2 680.6h0M1872.8 683.2h0M1873.3 682.9h0M1873.9 685.6h0M1874.5 683.3h0M1875.1 683.8h0M1875.6 685.4h0M1876.2 680.4h0M1876.8 682.7h0M1877.3 680.6h0M1877.9 685.2h0M1878.5 684.6h0M1879.1 686.0h0M1879.6 682.9h0M1880.2 683.8h0M1880.8 684.0h0M1881.4 681.0h0M1881.9 682.7h0M1882.5 683.6h0M1883.1 681.6h0M1883.6 682.6h0M1884.2 684.5h0M1884.8 683.8h0M1885.4 688.8h0M1885.9 682.1h0M1886.5 683.7h0M1887.1 681.6h0M1887.7 682.3h0M1888.2 689.6h0M1888.8 684.3h0M1889.4 682.5h0M1889.9 689.5h0M1890.5 683.4h0M1891.1 682.7h0M1891.7 682.9h0M1892.2 685.0h0M1892.8 685.2h0M1893.4 683.7h0M1894.0 690.0h0M1894.5 683.5h0M1895.1 684.8h0M1895.7 682.9h0M1896.2 684.4h0M1896.8 684.2h0M1897.4 685.3h0M1898.0 690.5h0M1898.5 682.8h0M1899.1 683.7h0M1899.7 683.7h0M1900.3 682.3h0M1900.8 689.4h0M1901.4 681.9h0M1902.0 681.5h0M1902.6 684.0h0M1903.1 681.8h0M1903.7 689.9h0M1904.3 682.5h0M1904.8 684.5h0M1905.4 683.7h0M1906.0 683.8h0M1906.6 690.5h0M1907.1 683.4h0M1907.7 682.0h0M1908.3 683.4h0M1908.9 683.8h0M1909.4 683.3h0M1910.0 683.7h0M1910.6 681.9h0M1911.1 690.0h0M1911.7 691.5h0M1912.3 689.1h0M1912.9 682.3h0M1913.4 691.9h0M1914.0 684.2h0M1914.6 685.5h0M1915.2 684.8h0M1915.7 681.7h0M1916.3 685.1h0M1916.9 683.6h0M1917.4 682.5h0M1918.0 684.2h0M1918.6 683.8h0M1919.2 684.0h0M1919.7 682.0h0M1920.3 686.0h0M1920.9 683.2h0M1921.5 684.5h0M1922.0 681.4h0M1922.6 682.0h0M1923.2 690.3h0M1923.7 684.4h0M1924.3 682.6h0M1924.9 684.3h0M1925.5 682.6h0M1926.0 682.8h0M1926.6 682.6h0M1927.2 682.2h0M1927.8 681.8h0M1928.3 690.0h0M1928.9 684.7h0M1929.5 684.2h0M1930.0 686.2h0M1930.6 683.2h0M1931.2 683.9h0M1931.8 682.5h0M1932.3 683.5h0M1932.9 684.6h0M1933.5 683.8h0M1934.1 682.4h0M1934.6 682.3h0M1935.2 682.8h0M1935.8 682.1h0M1936.4 682.0h0M1936.9 683.7h0M1937.5 681.9h0M1938.1 682.5h0M1938.6 683.9h0M1939.2 681.3h0M1939.8 684.2h0M1940.4 689.2h0M1940.9 681.9h0M1941.5 689.7h0M1942.1 682.9h0M1942.7 683.1h0M1943.2 685.1h0M1943.8 683.6h0M1944.4 688.8h0M1944.9 682.9h0M1945.5 683.9h0M1946.1 683.8h0M1946.7 682.3h0M1947.2 689.6h0M1947.8 682.7h0M1948.4 682.0h0M1949.0 683.4h0M1949.5 682.7h0M1950.1 683.3h0M1950.7 683.6h0M1951.2 689.5h0M1951.8 691.2h0M1952.4 682.6h0M1953.0 683.7h0M1953.5 689.9h0M1954.1 683.6h0M1954.7 685.1h0M1955.3 682.3h0M1955.8 684.4h0M1956.4 682.3h0M1957.0 684.2h0M1957.5 689.1h0M1958.1 683.3h0M1958.7 682.7h0M1959.3 683.0h0M1959.8 690.8h0M1960.4 684.8h0M1961.0 683.5h0M1961.6 682.8h0M1962.1 690.8h0M1962.7 682.2h0M1963.3 681.9h0M1963.8 683.4h0M1964.4 683.4h0M1965.0 690.2h0M1965.6 683.6h0M1966.1 692.3h0M1966.7 682.6h0M1967.3 683.1h0M1967.9 682.8h0M1968.4 684.7h0M1969.0 682.7h0M1969.6 689.2h0M1970.2 683.4h0M1970.7 682.9h0M1971.3 690.4h0M1971.9 681.2h0M1972.4 684.6h0M1973.0 683.9h0M1973.6 689.8h0M1974.2 682.9h0M1974.7 684.1h0M1975.3 689.9h0M1975.9 690.4h0M1976.5 685.7h0M1977.0 683.7h0M1977.6 684.9h0M1978.2 684.3h0M1978.7 682.9h0M1979.3 685.2h0M1979.9 684.5h0M1980.5 689.4h0M1981.0 684.0h0M1981.6 691.6h0M1982.2 690.9h0M1982.8 684.6h0M1983.3 683.2h0M1983.9 690.2h0M1984.5 684.2h0M1985.0 682.8h0M1985.6 688.9h0M1986.2 685.6h0M1986.8 682.9h0M1987.3 681.8h0M1987.9 680.6h0M1988.5 685.6h0M1989.1 690.1h0M1989.6 682.7h0M1990.2 682.4h0M1990.8 685.0h0M1991.3 683.3h0M1991.9 689.2h0M1992.5 690.5h0M1993.1 690.2h0M1993.6 689.8h0M1994.2 682.9h0M1994.8 689.7h0M1995.4 690.3h0M1995.9 683.1h0M1996.5 682.4h0M1997.1 684.9h0M1997.6 685.3h0M1998.2 683.5h0M1998.8 683.8h0M1999.4 684.9h0M1999.9 689.8h0M2000.5 684.2h0M2001.1 685.2h0M2001.7 683.5h0M2002.2 681.5h0M2002.8 682.4h0M2003.4 689.7h0M2003.9 683.8h0M2004.5 681.8h0M2005.1 682.1h0M2005.7 690.6h0M2006.2 686.3h0M2006.8 684.6h0M2007.4 683.6h0M2008.0 685.2h0M2008.5 685.1h0M2009.1 685.0h0M2009.7 682.4h0M2010.3 686.1h0M2010.8 682.2h0M2011.4 683.4h0M2012.0 681.1h0M2012.5 684.2h0M2013.1 683.6h0M2013.7 684.6h0M2014.3 683.5h0M2014.8 682.4h0M2015.4 683.7h0M2016.0 682.2h0M2016.6 686.3h0M2017.1 681.9h0M2017.7 684.6h0M2018.3 682.6h0M2018.8 689.8h0M2019.4 683.2h0M2020.0 691.0h0M2020.6 683.9h0M2021.1 684.0h0M2021.7 682.2h0M2022.3 684.9h0M2022.9 683.6h0M2023.4 683.4h0M2024.0 685.6h0M2024.6 685.0h0M2025.1 690.5h0M2025.7 684.8h0M2026.3 682.5h0M2026.9 683.7h0M2027.4 684.2h0M2028.0 690.1h0M2028.6 689.9h0M2029.2 690.4h0M2029.7 682.6h0M2030.3 683.8h0M2030.9 685.3h0M2031.4 684.6h0M2032.0 690.7h0M2032.6 683.3h0M2033.2 686.4h0M2033.7 690.5h0M2034.3 682.7h0M2034.9 686.6h0M2035.5 686.5h0M2036.0 684.1h0M2036.6 684.8h0M2037.2 690.9h0M2037.7 684.2h0M2038.3 685.0h0M2038.9 683.3h0M2039.5 690.0h0M2040.0 689.8h0M2040.6 684.5h0M2041.2 690.5h0M2041.8 683.9h0M2042.3 685.2h0M2042.9 683.4h0M2043.5 690.4h0M2044.1 684.6h0M2044.6 686.4h0M2045.2 686.3h0M2045.8 684.9h0M2046.3 690.7h0M2046.9 684.9h0M2047.5 682.7h0M2048.1 684.9h0M2048.6 685.3h0M2049.2 690.6h0M2049.8 682.4h0M2050.4 691.2h0M2050.9 690.2h0M2051.5 684.1h0M2052.1 690.0h0M2052.6 690.8h0M2053.2 689.6h0M2053.8 683.8h0M2054.4 685.0h0M2054.9 683.8h0M2055.5 683.7h0M2056.1 685.7h0M2056.7 687.1h0M2057.2 684.0h0M2057.8 683.8h0M2058.4 689.9h0M2058.9 684.5h0M2059.5 685.3h0M2060.1 684.5h0M2060.7 683.6h0M2061.2 684.8h0M2061.8 684.2h0M2062.4 690.4h0M2063.0 683.0h0M2063.5 684.7h0M2064.1 684.2h0M2064.7 685.7h0M2065.2 683.4h0M2065.8 690.8h0M2066.4 684.7h0M2067.0 690.3h0M2067.5 683.8h0M2068.1 683.9h0M2068.7 684.7h0M2069.3 692.0h0M2069.8 691.1h0M2070.4 682.5h0M2071.0 683.2h0M2071.5 684.2h0M2072.1 685.1h0M2072.7 690.9h0M2073.3 685.0h0M2073.8 683.4h0M2074.4 692.8h0M2075.0 690.5h0M2075.6 689.6h0M2076.1 684.3h0M2076.7 686.4h0M2077.3 683.2h0M2077.9 685.0h0M2078.4 684.8h0M2079.0 692.0h0M2079.6 691.0h0M2080.1 685.3h0M2080.7 684.6h0M2081.3 684.9h0M2081.9 683.2h0M2082.4 683.0h0M2083.0 691.0h0M2083.6 684.3h0M2084.2 684.5h0M2084.7 685.8h0M2085.3 689.8h0M2085.9 684.3h0M2086.4 685.7h0M2087.0 682.9h0M2087.6 683.2h0M2088.2 682.2h0M2088.7 685.1h0M2089.3 684.8h0M2089.9 689.6h0M2090.5 654.2h0M2091.0 632.5h0M2091.6 622.5h0M2092.2 618.7h0M2092.7 615.3h0M2093.3 611.9h0M2093.9 609.3h0M2094.5 606.9h0M2095.0 604.8h0M2095.6 602.9h0M2096.2 601.3h0M2096.8 599.9h0M2097.3 598.6h0M2097.9 597.4h0M2098.5 596.3h0M2099.0 595.3h0M2099.6 594.3h0M2100.2 593.4h0M2100.8 592.5h0M2101.3 591.7h0M2101.9 590.8h0M2102.5 590.0h0M2103.1 589.2h0M2103.6 588.4h0M2104.2 587.6h0M2104.8 586.9h0M2105.3 586.1h0M2105.9 585.4h0M2106.5 584.7h0M2107.1 584.0h0M2107.6 583.4h0M2108.2 582.8h0M2108.8 582.2h0M2109.4 581.6h0M2109.9 581.1h0M2110.5 580.5h0M2111.1 580.0h0M2111.6 579.5h0M2112.2 579.1h0M2112.8 578.6h0M2113.4 578.1h0M2113.9 577.7h0M2114.5 577.2h0M2115.1 576.8h0M2115.7 576.4h0M2116.2 576.0h0M2116.8 575.6h0M2117.4 575.2h0M2118.0 574.8h0M2118.5 574.4h0M2119.1 574.0h0M2119.7 573.7h0M2120.2 573.3h0M2120.8 572.9h0M2121.4 572.6h0M2122.0 572.2h0M2122.5 571.9h0M2123.1 571.6h0M2123.7 571.2h0M2124.3 570.9h0M2124.8 570.6h0M2125.4 570.3h0M2126.0 570.0h0M2126.5 569.7h0M2127.1 569.4h0M2127.7 569.1h0M2128.3 568.8h0M2128.8 568.5h0M2129.4 568.3h0M2130.0 568.0h0M2130.6 567.7h0M2131.1 567.5h0M2131.7 567.2h0M2132.3 567.0h0M2132.8 566.7h0M2133.4 566.5h0M2134.0 566.2h0M2134.6 566.0h0M2135.1 565.7h0M2135.7 565.5h0M2136.3 565.3h0M2136.9 565.0h0M2137.4 564.8h0M2138.0 564.5h0M2138.6 564.2h0M2139.1 564.0h0M2139.7 563.7h0M2140.3 563.5h0M2140.9 563.2h0M2141.4 562.9h0M2142.0 562.7h0M2142.6 562.4h0M2143.2 562.1h0M2143.7 561.9h0M2144.3 561.6h0M2144.9 561.3h0M2145.4 561.1h0M2146.0 560.8h0M2146.6 560.5h0M2147.2 560.3h0M2147.7 560.0h0M2148.3 559.7h0M2148.9 559.5h0M2149.5 559.2h0M2150.0 558.9h0M2150.6 558.7h0M2151.2 558.4h0M2151.8 558.1h0M2152.3 557.8h0M2152.9 557.6h0M2153.5 557.3h0M2154.0 557.0h0M2154.6 556.7h0M2155.2 556.5h0M2155.8 556.2h0M2156.3 555.9h0M2156.9 555.6h0M2157.5 555.4h0M2158.1 555.1h0M2158.6 554.8h0M2159.2 554.5h0M2159.8 554.2h0M2160.3 554.0h0M2160.9 553.7h0M2161.5 553.4h0M2162.1 553.1h0M2162.6 552.8h0M2163.2 552.5h0M2163.8 552.3h0M2164.4 552.0h0M2164.9 551.7h0M2165.5 551.4h0" stroke="#2ca02c" stroke-width="2.8" stroke-linecap="round" fill="none"/>
<g class="sp"><rect x="106.5" y="26.0" width="576.60" height="345.40"/><rect x="106.5" y="371.4" width="576.60" height="172.50"/><rect x="106.5" y="543.9" width="576.60" height="155.50"/></g>
<path class="tk" d="M102.90 109.45h3.6M102.90 223.32h3.6M102.90 337.20h3.6M104.40 362.46h2.1M104.40 354.84h2.1M104.40 348.24h2.1M104.40 342.41h2.1M104.40 302.92h2.1M104.40 282.87h2.1M104.40 268.64h2.1M104.40 257.60h2.1M104.40 248.59h2.1M104.40 240.96h2.1M104.40 234.36h2.1M104.40 228.54h2.1M104.40 189.05h2.1M104.40 168.99h2.1M104.40 154.77h2.1M104.40 143.73h2.1M104.40 134.71h2.1M104.40 127.09h2.1M104.40 120.49h2.1M104.40 114.66h2.1M104.40 75.17h2.1M104.40 55.12h2.1M104.40 40.89h2.1M104.40 29.85h2.1M102.90 379.25h3.6M102.90 457.75h3.6M102.90 536.25h3.6M102.90 572.90h3.6M102.90 656.50h3.6M106.65 699.40v2.1M125.66 699.40v2.1M141.72 699.40v2.1M155.64 699.40v2.1M167.92 699.40v2.1M178.90 699.40v3.6M251.15 699.40v2.1M293.41 699.40v2.1M323.39 699.40v2.1M346.65 699.40v2.1M365.66 699.40v2.1M381.72 699.40v2.1M395.64 699.40v2.1M407.92 699.40v2.1M418.90 699.40v3.6M491.15 699.40v2.1M533.41 699.40v2.1M563.39 699.40v2.1M586.65 699.40v2.1M605.66 699.40v2.1M621.72 699.40v2.1M635.64 699.40v2.1M647.92 699.40v2.1M658.90 699.40v3.6"/>
<g class="sp"><rect x="856.6" y="26.0" width="576.80" height="345.40"/><rect x="856.6" y="371.4" width="576.80" height="172.50"/><rect x="856.6" y="543.9" width="576.80" height="155.50"/></g>
<path class="tk" d="M853.00 111.10h3.6M853.00 212.25h3.6M853.00 313.40h3.6M853.00 379.25h3.6M853.00 457.75h3.6M853.00 536.25h3.6M853.00 575.30h3.6M853.00 627.74h3.6M853.00 680.18h3.6M856.89 699.40v2.1M879.92 699.40v2.1M899.38 699.40v2.1M916.25 699.40v2.1M931.12 699.40v2.1M944.43 699.40v3.6M1031.97 699.40v2.1M1083.18 699.40v2.1M1119.51 699.40v2.1M1147.69 699.40v2.1M1170.72 699.40v2.1M1190.18 699.40v2.1M1207.05 699.40v2.1M1221.92 699.40v2.1M1235.23 699.40v3.6M1322.77 699.40v2.1M1373.98 699.40v2.1M1410.31 699.40v2.1"/>
<g class="sp"><rect x="1593.2" y="26.0" width="575.80" height="345.40"/><rect x="1593.2" y="371.4" width="575.80" height="172.50"/><rect x="1593.2" y="543.9" width="575.80" height="155.50"/></g>
<path class="tk" d="M1589.60 71.30h3.6M1589.60 150.26h3.6M1589.60 229.22h3.6M1589.60 308.18h3.6M1589.60 379.25h3.6M1589.60 457.75h3.6M1589.60 536.25h3.6M1589.60 583.20h3.6M1589.60 632.55h3.6M1589.60 681.90h3.6M1593.28 699.40v2.1M1610.59 699.40v2.1M1625.23 699.40v2.1M1637.91 699.40v2.1M1649.10 699.40v2.1M1659.10 699.40v3.6M1724.92 699.40v2.1M1763.42 699.40v2.1M1790.74 699.40v2.1M1811.93 699.40v2.1M1829.24 699.40v2.1M1843.88 699.40v2.1M1856.56 699.40v2.1M1867.75 699.40v2.1M1877.75 699.40v3.6M1943.57 699.40v2.1M1982.07 699.40v2.1M2009.39 699.40v2.1M2030.58 699.40v2.1M2047.89 699.40v2.1M2062.53 699.40v2.1M2075.21 699.40v2.1M2086.40 699.40v2.1M2096.40 699.40v3.6M2162.22 699.40v2.1"/>
<g><text x="99.90" y="120.00" font-size="30" text-anchor="end" font-family="'Liberation Serif', 'DejaVu Serif', serif" ><tspan textLength="27" lengthAdjust="spacingAndGlyphs">10</tspan><tspan font-size="21" dy="-10.4"><tspan textLength="14.2" lengthAdjust="spacingAndGlyphs">&#8722;</tspan>23</tspan></text><text x="99.90" y="233.88" font-size="30" text-anchor="end" font-family="'Liberation Serif', 'DejaVu Serif', serif" ><tspan textLength="27" lengthAdjust="spacingAndGlyphs">10</tspan><tspan font-size="21" dy="-10.4"><tspan textLength="14.2" lengthAdjust="spacingAndGlyphs">&#8722;</tspan>24</tspan></text><text x="99.90" y="347.75" font-size="30" text-anchor="end" font-family="'Liberation Serif', 'DejaVu Serif', serif" ><tspan textLength="27" lengthAdjust="spacingAndGlyphs">10</tspan><tspan font-size="21" dy="-10.4"><tspan textLength="14.2" lengthAdjust="spacingAndGlyphs">&#8722;</tspan>25</tspan></text><text x="99.90" y="389.75" font-size="30" text-anchor="end" font-family="'Liberation Serif', 'DejaVu Serif', serif" >1</text><text x="99.90" y="468.25" font-size="30" text-anchor="end" font-family="'Liberation Serif', 'DejaVu Serif', serif" >0</text><text x="99.90" y="546.75" font-size="30" text-anchor="end" font-family="'Liberation Serif', 'DejaVu Serif', serif" ><tspan textLength="21.5" lengthAdjust="spacingAndGlyphs">&#8722;</tspan>1</text><text x="99.90" y="583.40" font-size="30" text-anchor="end" font-family="'Liberation Serif', 'DejaVu Serif', serif" >6</text><text x="99.90" y="667.00" font-size="30" text-anchor="end" font-family="'Liberation Serif', 'DejaVu Serif', serif" >5</text><text x="178.90" y="727.60" font-size="30" text-anchor="middle" font-family="'Liberation Serif', 'DejaVu Serif', serif" ><tspan textLength="27" lengthAdjust="spacingAndGlyphs">10</tspan><tspan font-size="21" dy="-10.1">1</tspan></text><text x="418.90" y="727.60" font-size="30" text-anchor="middle" font-family="'Liberation Serif', 'DejaVu Serif', serif" ><tspan textLength="27" lengthAdjust="spacingAndGlyphs">10</tspan><tspan font-size="21" dy="-10.1">2</tspan></text><text x="658.90" y="727.60" font-size="30" text-anchor="middle" font-family="'Liberation Serif', 'DejaVu Serif', serif" ><tspan textLength="27" lengthAdjust="spacingAndGlyphs">10</tspan><tspan font-size="21" dy="-10.1">3</tspan></text><text x="850.00" y="121.65" font-size="30" text-anchor="end" font-family="'Liberation Serif', 'DejaVu Serif', serif" ><tspan textLength="27" lengthAdjust="spacingAndGlyphs">10</tspan><tspan font-size="21" dy="-10.4"><tspan textLength="14.2" lengthAdjust="spacingAndGlyphs">&#8722;</tspan>23</tspan></text><text x="850.00" y="222.80" font-size="30" text-anchor="end" font-family="'Liberation Serif', 'DejaVu Serif', serif" ><tspan textLength="27" lengthAdjust="spacingAndGlyphs">10</tspan><tspan font-size="21" dy="-10.4"><tspan textLength="14.2" lengthAdjust="spacingAndGlyphs">&#8722;</tspan>25</tspan></text><text x="850.00" y="323.95" font-size="30" text-anchor="end" font-family="'Liberation Serif', 'DejaVu Serif', serif" ><tspan textLength="27" lengthAdjust="spacingAndGlyphs">10</tspan><tspan font-size="21" dy="-10.4"><tspan textLength="14.2" lengthAdjust="spacingAndGlyphs">&#8722;</tspan>27</tspan></text><text x="850.00" y="389.75" font-size="30" text-anchor="end" font-family="'Liberation Serif', 'DejaVu Serif', serif" >1</text><text x="850.00" y="468.25" font-size="30" text-anchor="end" font-family="'Liberation Serif', 'DejaVu Serif', serif" >0</text><text x="850.00" y="546.75" font-size="30" text-anchor="end" font-family="'Liberation Serif', 'DejaVu Serif', serif" ><tspan textLength="21.5" lengthAdjust="spacingAndGlyphs">&#8722;</tspan>1</text><text x="850.00" y="585.85" font-size="30" text-anchor="end" font-family="'Liberation Serif', 'DejaVu Serif', serif" ><tspan textLength="27" lengthAdjust="spacingAndGlyphs">10</tspan><tspan font-size="21" dy="-10.4"><tspan textLength="14.2" lengthAdjust="spacingAndGlyphs">&#8722;</tspan>7</tspan></text><text x="850.00" y="638.29" font-size="30" text-anchor="end" font-family="'Liberation Serif', 'DejaVu Serif', serif" ><tspan textLength="27" lengthAdjust="spacingAndGlyphs">10</tspan><tspan font-size="21" dy="-10.4"><tspan textLength="14.2" lengthAdjust="spacingAndGlyphs">&#8722;</tspan>11</tspan></text><text x="850.00" y="690.73" font-size="30" text-anchor="end" font-family="'Liberation Serif', 'DejaVu Serif', serif" ><tspan textLength="27" lengthAdjust="spacingAndGlyphs">10</tspan><tspan font-size="21" dy="-10.4"><tspan textLength="14.2" lengthAdjust="spacingAndGlyphs">&#8722;</tspan>15</tspan></text><text x="944.43" y="727.60" font-size="30" text-anchor="middle" font-family="'Liberation Serif', 'DejaVu Serif', serif" ><tspan textLength="27" lengthAdjust="spacingAndGlyphs">10</tspan><tspan font-size="21" dy="-10.1">1</tspan></text><text x="1235.23" y="727.60" font-size="30" text-anchor="middle" font-family="'Liberation Serif', 'DejaVu Serif', serif" ><tspan textLength="27" lengthAdjust="spacingAndGlyphs">10</tspan><tspan font-size="21" dy="-10.1">2</tspan></text><text x="1586.60" y="81.85" font-size="30" text-anchor="end" font-family="'Liberation Serif', 'DejaVu Serif', serif" ><tspan textLength="27" lengthAdjust="spacingAndGlyphs">10</tspan><tspan font-size="21" dy="-10.4"><tspan textLength="14.2" lengthAdjust="spacingAndGlyphs">&#8722;</tspan>24</tspan></text><text x="1586.60" y="160.81" font-size="30" text-anchor="end" font-family="'Liberation Serif', 'DejaVu Serif', serif" ><tspan textLength="27" lengthAdjust="spacingAndGlyphs">10</tspan><tspan font-size="21" dy="-10.4"><tspan textLength="14.2" lengthAdjust="spacingAndGlyphs">&#8722;</tspan>28</tspan></text><text x="1586.60" y="239.77" font-size="30" text-anchor="end" font-family="'Liberation Serif', 'DejaVu Serif', serif" ><tspan textLength="27" lengthAdjust="spacingAndGlyphs">10</tspan><tspan font-size="21" dy="-10.4"><tspan textLength="14.2" lengthAdjust="spacingAndGlyphs">&#8722;</tspan>32</tspan></text><text x="1586.60" y="318.73" font-size="30" text-anchor="end" font-family="'Liberation Serif', 'DejaVu Serif', serif" ><tspan textLength="27" lengthAdjust="spacingAndGlyphs">10</tspan><tspan font-size="21" dy="-10.4"><tspan textLength="14.2" lengthAdjust="spacingAndGlyphs">&#8722;</tspan>36</tspan></text><text x="1586.60" y="389.75" font-size="30" text-anchor="end" font-family="'Liberation Serif', 'DejaVu Serif', serif" >1</text><text x="1586.60" y="468.25" font-size="30" text-anchor="end" font-family="'Liberation Serif', 'DejaVu Serif', serif" >0</text><text x="1586.60" y="546.75" font-size="30" text-anchor="end" font-family="'Liberation Serif', 'DejaVu Serif', serif" ><tspan textLength="21.5" lengthAdjust="spacingAndGlyphs">&#8722;</tspan>1</text><text x="1586.60" y="593.75" font-size="30" text-anchor="end" font-family="'Liberation Serif', 'DejaVu Serif', serif" ><tspan textLength="27" lengthAdjust="spacingAndGlyphs">10</tspan><tspan font-size="21" dy="-10.4"><tspan textLength="14.2" lengthAdjust="spacingAndGlyphs">&#8722;</tspan>9</tspan></text><text x="1586.60" y="643.10" font-size="30" text-anchor="end" font-family="'Liberation Serif', 'DejaVu Serif', serif" ><tspan textLength="27" lengthAdjust="spacingAndGlyphs">10</tspan><tspan font-size="21" dy="-10.4"><tspan textLength="14.2" lengthAdjust="spacingAndGlyphs">&#8722;</tspan>12</tspan></text><text x="1586.60" y="692.45" font-size="30" text-anchor="end" font-family="'Liberation Serif', 'DejaVu Serif', serif" ><tspan textLength="27" lengthAdjust="spacingAndGlyphs">10</tspan><tspan font-size="21" dy="-10.4"><tspan textLength="14.2" lengthAdjust="spacingAndGlyphs">&#8722;</tspan>15</tspan></text><text x="1659.10" y="727.60" font-size="30" text-anchor="middle" font-family="'Liberation Serif', 'DejaVu Serif', serif" ><tspan textLength="27" lengthAdjust="spacingAndGlyphs">10</tspan><tspan font-size="21" dy="-10.1">1</tspan></text><text x="1877.75" y="727.60" font-size="30" text-anchor="middle" font-family="'Liberation Serif', 'DejaVu Serif', serif" ><tspan textLength="27" lengthAdjust="spacingAndGlyphs">10</tspan><tspan font-size="21" dy="-10.1">2</tspan></text><text x="2096.40" y="727.60" font-size="30" text-anchor="middle" font-family="'Liberation Serif', 'DejaVu Serif', serif" ><tspan textLength="27" lengthAdjust="spacingAndGlyphs">10</tspan><tspan font-size="21" dy="-10.1">3</tspan></text></g>
<text transform="translate(26.50,198.20) rotate(-90)" font-size="31" text-anchor="middle" font-family="'Liberation Serif', 'DejaVu Serif', serif" textLength="123.8" lengthAdjust="spacingAndGlyphs"><tspan font-style="italic">A</tspan><tspan font-size="27" dy="9">+</tspan><tspan dy="-9"> (Hz</tspan><tspan font-size="21" dy="-12">&#8722;1</tspan><tspan dy="12">)</tspan></text>
<text transform="translate(52.50,458.10) rotate(-90)" font-size="31" text-anchor="middle" font-family="'Liberation Serif', 'DejaVu Serif', serif" textLength="94.6" lengthAdjust="spacingAndGlyphs">cos(&#936;<tspan font-size="27" dy="9">+</tspan><tspan dy="-9">)</tspan></text>
<text transform="translate(59.50,621.80) rotate(-90)" font-size="31" text-anchor="middle" font-family="'Liberation Serif', 'DejaVu Serif', serif" textLength="124.7" lengthAdjust="spacingAndGlyphs">res &#215; 10<tspan font-size="21" dy="-12">15</tspan></text>
<text x="394.80" y="759.9" font-size="31" text-anchor="middle" font-family="'Liberation Serif', 'DejaVu Serif', serif" textLength="77" lengthAdjust="spacingAndGlyphs"><tspan font-style="italic">f</tspan> (Hz)</text>
<text x="394.80" y="20.6" font-size="28" stroke="#000" stroke-width="0.6" text-anchor="middle" font-family="'Liberation Mono', 'DejaVu Sans Mono', monospace" textLength="221.9" lengthAdjust="spacingAndGlyphs">TaylorF2_Tides</text>
<rect x="122.40" y="259.6" width="333.5" height="96" rx="4.5" fill="#fff" fill-opacity="0.8" stroke="#cccccc" stroke-width="1"/>
<path d="M134.10 326.8h63.3" stroke="#ffcc9f" stroke-width="6" stroke-linecap="square"/>
<path d="M134.10 282.8h63.3" stroke="#1f77b4" stroke-width="1.9"/>
<text x="220.60" y="294.5" font-size="29.5" stroke="#000" stroke-width="0.5" font-family="'Liberation Mono', 'DejaVu Sans Mono', monospace" textLength="222.6" lengthAdjust="spacingAndGlyphs">GWFAST - WF4Py</text>
<text x="220.60" y="337.9" font-size="29.5" stroke="#000" stroke-width="0.5" font-family="'Liberation Mono', 'DejaVu Sans Mono', monospace" textLength="47.7" lengthAdjust="spacingAndGlyphs">LAL</text>
<text transform="translate(778.60,197.10) rotate(-90)" font-size="31" text-anchor="middle" font-family="'Liberation Serif', 'DejaVu Serif', serif" textLength="125.5" lengthAdjust="spacingAndGlyphs"><tspan font-style="italic">A</tspan><tspan font-size="27" dy="9">+</tspan><tspan dy="-9"> (Hz</tspan><tspan font-size="21" dy="-12">&#8722;1</tspan><tspan dy="12">)</tspan></text>
<text transform="translate(803.20,458.60) rotate(-90)" font-size="31" text-anchor="middle" font-family="'Liberation Serif', 'DejaVu Serif', serif" textLength="94.3" lengthAdjust="spacingAndGlyphs">cos(&#936;<tspan font-size="27" dy="9">+</tspan><tspan dy="-9">)</tspan></text>
<text transform="translate(780.00,621.10) rotate(-90)" font-size="31" text-anchor="middle" font-family="'Liberation Serif', 'DejaVu Serif', serif" textLength="34.8" lengthAdjust="spacingAndGlyphs">res</text>
<text x="1145.00" y="759.9" font-size="31" text-anchor="middle" font-family="'Liberation Serif', 'DejaVu Serif', serif" textLength="77" lengthAdjust="spacingAndGlyphs"><tspan font-style="italic">f</tspan> (Hz)</text>
<text x="1145.00" y="20.6" font-size="28" stroke="#000" stroke-width="0.6" text-anchor="middle" font-family="'Liberation Mono', 'DejaVu Sans Mono', monospace" textLength="158.5" lengthAdjust="spacingAndGlyphs">IMRPhenomD</text>
<rect x="872.50" y="259.6" width="333.5" height="96" rx="4.5" fill="#fff" fill-opacity="0.8" stroke="#cccccc" stroke-width="1"/>
<path d="M884.20 326.8h63.3" stroke="#ffcc9f" stroke-width="6" stroke-linecap="square"/>
<path d="M884.20 282.8h63.3" stroke="#1f77b4" stroke-width="1.9"/>
<text x="970.70" y="294.5" font-size="29.5" stroke="#000" stroke-width="0.5" font-family="'Liberation Mono', 'DejaVu Sans Mono', monospace" textLength="222.6" lengthAdjust="spacingAndGlyphs">GWFAST - WF4Py</text>
<text x="970.70" y="337.9" font-size="29.5" stroke="#000" stroke-width="0.5" font-family="'Liberation Mono', 'DejaVu Sans Mono', monospace" textLength="47.7" lengthAdjust="spacingAndGlyphs">LAL</text>
<text transform="translate(1515.20,197.00) rotate(-90)" font-size="31" text-anchor="middle" font-family="'Liberation Serif', 'DejaVu Serif', serif" textLength="124.2" lengthAdjust="spacingAndGlyphs"><tspan font-style="italic">A</tspan><tspan font-size="27" dy="9">+</tspan><tspan dy="-9"> (Hz</tspan><tspan font-size="21" dy="-12">&#8722;1</tspan><tspan dy="12">)</tspan></text>
<text transform="translate(1538.50,458.60) rotate(-90)" font-size="31" text-anchor="middle" font-family="'Liberation Serif', 'DejaVu Serif', serif" textLength="94.5" lengthAdjust="spacingAndGlyphs">cos(&#936;<tspan font-size="27" dy="9">+</tspan><tspan dy="-9">)</tspan></text>
<text transform="translate(1516.00,621.70) rotate(-90)" font-size="31" text-anchor="middle" font-family="'Liberation Serif', 'DejaVu Serif', serif" textLength="33.5" lengthAdjust="spacingAndGlyphs">res</text>
<text x="1881.10" y="759.9" font-size="31" text-anchor="middle" font-family="'Liberation Serif', 'DejaVu Serif', serif" textLength="77" lengthAdjust="spacingAndGlyphs"><tspan font-style="italic">f</tspan> (Hz)</text>
<text x="1881.10" y="20.6" font-size="28" stroke="#000" stroke-width="0.6" text-anchor="middle" font-family="'Liberation Mono', 'DejaVu Sans Mono', monospace" textLength="317.0" lengthAdjust="spacingAndGlyphs">IMRPhenomD_NRTidalv2</text>
<rect x="1609.10" y="259.6" width="333.5" height="96" rx="4.5" fill="#fff" fill-opacity="0.8" stroke="#cccccc" stroke-width="1"/>
<path d="M1620.80 326.8h63.3" stroke="#ffcc9f" stroke-width="6" stroke-linecap="square"/>
<path d="M1620.80 282.8h63.3" stroke="#1f77b4" stroke-width="1.9"/>
<text x="1707.30" y="294.5" font-size="29.5" stroke="#000" stroke-width="0.5" font-family="'Liberation Mono', 'DejaVu Sans Mono', monospace" textLength="222.6" lengthAdjust="spacingAndGlyphs">GWFAST - WF4Py</text>
<text x="1707.30" y="337.9" font-size="29.5" stroke="#000" stroke-width="0.5" font-family="'Liberation Mono', 'DejaVu Sans Mono', monospace" textLength="47.7" lengthAdjust="spacingAndGlyphs">LAL</text>
<text x="77.50" y="826.00" font-size="32" font-family="'Liberation Serif', 'DejaVu Serif', serif" textLength="41.3" lengthAdjust="spacingAndGlyphs">(a)</text>
<text x="129.20" y="826.00" font-size="32" font-family="'Liberation Serif', 'DejaVu Serif', serif" textLength="559.8" lengthAdjust="spacingAndGlyphs">Parameters:&#160; <tspan font-family="'DejaVu Math TeX Gyre', 'DejaVu Serif', serif" font-style="italic">&#8499;</tspan><tspan font-size="23" dy="5.5" font-style="italic">c</tspan><tspan dy="-5.5"> = 1.65 M<tspan font-size="23" dy="5.5" font-family="'DejaVu Math TeX Gyre', 'DejaVu Serif', serif">&#8857;</tspan><tspan dy="-5.5"></tspan>,&#160; <tspan font-style="italic">&#951;</tspan> = 0.25,</text>
<text x="130.60" y="876.20" font-size="32" font-family="'Liberation Serif', 'DejaVu Serif', serif" textLength="575.1" lengthAdjust="spacingAndGlyphs"><tspan font-style="italic">d</tspan><tspan font-size="23" dy="5.5" font-style="italic">L</tspan><tspan dy="-5.5"> = 0.46 Gpc</tspan>,&#160; <tspan font-style="italic">&#967;</tspan><tspan font-size="23" dy="5.5">1</tspan><tspan dy="-5.5"> = 0.05</tspan>,&#160; <tspan font-style="italic">&#967;</tspan><tspan font-size="23" dy="5.5">2</tspan><tspan dy="-5.5"> = &#8722;0.05</tspan>,</text>
<text x="130.60" y="926.40" font-size="32" font-family="'Liberation Serif', 'DejaVu Serif', serif" textLength="301.4" lengthAdjust="spacingAndGlyphs">&#923;<tspan font-size="23" dy="5.5">1</tspan><tspan dy="-5.5"> = 300</tspan>,&#160; &#923;<tspan font-size="23" dy="5.5">2</tspan><tspan dy="-5.5"> = 300</tspan>.</text>
<text x="826.60" y="826.00" font-size="32" font-family="'Liberation Serif', 'DejaVu Serif', serif" textLength="41.3" lengthAdjust="spacingAndGlyphs">(b)</text>
<text x="881.30" y="826.00" font-size="32" font-family="'Liberation Serif', 'DejaVu Serif', serif" textLength="535.6" lengthAdjust="spacingAndGlyphs">Parameters:&#160; <tspan font-family="'DejaVu Math TeX Gyre', 'DejaVu Serif', serif" font-style="italic">&#8499;</tspan><tspan font-size="23" dy="5.5" font-style="italic">c</tspan><tspan dy="-5.5"> = 36 M<tspan font-size="23" dy="5.5" font-family="'DejaVu Math TeX Gyre', 'DejaVu Serif', serif">&#8857;</tspan><tspan dy="-5.5"></tspan>,&#160; <tspan font-style="italic">&#951;</tspan> = 0.24,</text>
<text x="881.30" y="876.20" font-size="32" font-family="'Liberation Serif', 'DejaVu Serif', serif" textLength="540.2" lengthAdjust="spacingAndGlyphs"><tspan font-style="italic">d</tspan><tspan font-size="23" dy="5.5" font-style="italic">L</tspan><tspan dy="-5.5"> = 0.98 Gpc</tspan>,&#160; <tspan font-style="italic">&#967;</tspan><tspan font-size="23" dy="5.5">1</tspan><tspan dy="-5.5"> = 0.8</tspan>,&#160; <tspan font-style="italic">&#967;</tspan><tspan font-size="23" dy="5.5">2</tspan><tspan dy="-5.5"> = &#8722;0.8</tspan>.</text>
<text x="1563.30" y="826.00" font-size="32" font-family="'Liberation Serif', 'DejaVu Serif', serif" textLength="40.6" lengthAdjust="spacingAndGlyphs">(c)</text>
<text x="1613.50" y="826.00" font-size="32" font-family="'Liberation Serif', 'DejaVu Serif', serif" textLength="556.0" lengthAdjust="spacingAndGlyphs">Parameters:&#160; <tspan font-family="'DejaVu Math TeX Gyre', 'DejaVu Serif', serif" font-style="italic">&#8499;</tspan><tspan font-size="23" dy="5.5" font-style="italic">c</tspan><tspan dy="-5.5"> = 1.32 M<tspan font-size="23" dy="5.5" font-family="'DejaVu Math TeX Gyre', 'DejaVu Serif', serif">&#8857;</tspan><tspan dy="-5.5"></tspan>, <tspan font-style="italic">&#951;</tspan> = 0.25,</text>
<text x="1617.50" y="876.20" font-size="32" font-family="'Liberation Serif', 'DejaVu Serif', serif" textLength="504.8" lengthAdjust="spacingAndGlyphs"><tspan font-style="italic">d</tspan><tspan font-size="23" dy="5.5" font-style="italic">L</tspan><tspan dy="-5.5"> = 0.46 Gpc</tspan>,&#160; <tspan font-style="italic">&#967;</tspan><tspan font-size="23" dy="5.5">1</tspan><tspan dy="-5.5"> = 0.05</tspan>,&#160; <tspan font-style="italic">&#967;</tspan><tspan font-size="23" dy="5.5">2</tspan><tspan dy="-5.5"> = 0</tspan>,</text>
<text x="1617.50" y="926.40" font-size="32" font-family="'Liberation Serif', 'DejaVu Serif', serif" textLength="301.0" lengthAdjust="spacingAndGlyphs">&#923;<tspan font-size="23" dy="5.5">1</tspan><tspan dy="-5.5"> = 500</tspan>,&#160; &#923;<tspan font-size="23" dy="5.5">2</tspan><tspan dy="-5.5"> = 500</tspan>.</text>
</svg></body></html>
